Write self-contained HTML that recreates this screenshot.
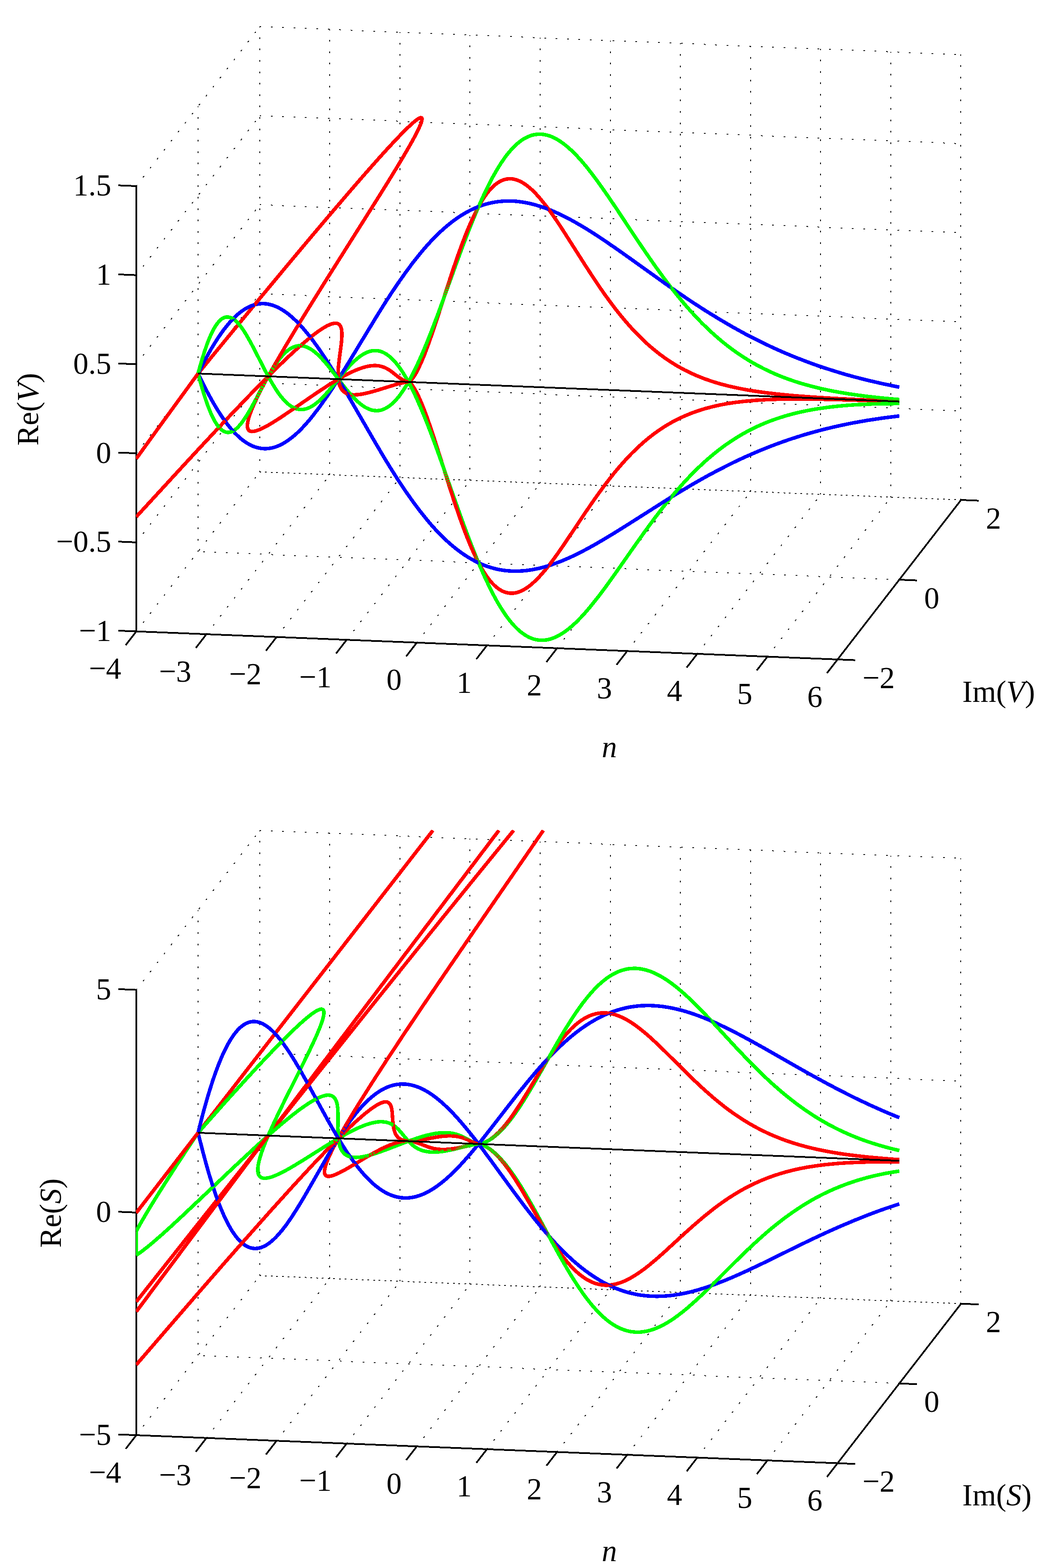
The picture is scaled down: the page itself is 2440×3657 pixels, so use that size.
<!DOCTYPE html>
<html lang="en"><head><meta charset="utf-8"><title>Volume and surface area versus dimension n</title>
<style>html,body{margin:0;padding:0;background:#fff}body{width:2440px;height:3657px;overflow:hidden}svg{display:block}</style>
</head><body>
<svg xmlns="http://www.w3.org/2000/svg" width="2440" height="3657" viewBox="0 0 2440 3657">
<rect width="2440" height="3657" fill="#fff"/>
<path d="M605.6 1100.6L605.6 62M769.2 1107.1L769.2 68.5M932.8 1113.7L932.8 75.1M1096.4 1120.2L1096.4 81.6M1259.9 1126.8L1259.9 88.2M1423.5 1133.3L1423.5 94.7M1587.1 1139.8L1587.1 101.2M1750.7 1146.4L1750.7 107.8M1914.3 1152.9L1914.3 114.3M2077.8 1159.5L2077.8 120.9M2241.4 1166L2241.4 127.4M606.1 1100.6L2241.9 1166M606.1 892.9L2241.9 958.3M606.1 685.2L2241.9 750.6M606.1 477.4L2241.9 542.8M606.1 269.7L2241.9 335.1M606.1 62L2241.9 127.4M461.6 1286.6L461.6 248M318 1472.6L606.1 1100.6M318 1264.9L606.1 892.9M318 1057.2L606.1 685.2M318 849.4L606.1 477.4M318 641.7L606.1 269.7M318 434L606.1 62M2097.9 1352L462.1 1286.6M2241.9 1166L606.1 1100.6M481.6 1479.1L769.7 1107.1M645.2 1485.7L933.3 1113.7M808.7 1492.2L1096.9 1120.2M972.3 1498.8L1260.4 1126.8M1135.9 1505.3L1424 1133.3M1299.5 1511.8L1587.6 1139.8M1463.1 1518.4L1751.2 1146.4M1626.6 1524.9L1914.8 1152.9M1790.2 1531.5L2078.3 1159.5" fill="none" stroke="#000" stroke-width="2" stroke-dasharray="4 22.6" stroke-dashoffset="1" shape-rendering="crispEdges"/>
<path d="M318 1472.6L318 434M318 1472.6L1953.8 1538M1953.8 1538L2241.9 1166M318 1472.6L276 1470.9M318 1264.9L276 1263.2M318 1057.2L276 1055.5M318 849.4L276 847.8M318 641.7L276 640M318 434L276 432.3M318 1472.6L293.2 1504.6M481.6 1479.1L456.8 1511.2M645.2 1485.7L620.4 1517.7M808.7 1492.2L783.9 1524.2M972.3 1498.8L947.5 1530.8M1135.9 1505.3L1111.1 1537.3M1299.5 1511.8L1274.7 1543.9M1463.1 1518.4L1438.3 1550.4M1626.6 1524.9L1601.8 1556.9M1790.2 1531.5L1765.4 1563.5M1953.8 1538L1929 1570M1953.8 1538L1995.2 1539.7M2097.9 1352L2139.2 1353.7M2241.9 1166L2283.3 1167.7" fill="none" stroke="#000" stroke-width="4" shape-rendering="crispEdges"/>
<clipPath id="c1"><rect x="317" y="61" width="1926.2" height="1478"/></clipPath>
<g clip-path="url(#c1)" fill="none" stroke-width="8.4" stroke-linejoin="round" shape-rendering="crispEdges">
<path d="M1580.2 681.2L1613.7 703.8L1646.4 725L1677.5 744.1L1708.5 762.3L1739.6 779.4L1769.1 794.5L1798.5 808.7L1813.2 815.4L1829.6 822.6L1844.3 828.8L1860.7 835.4L1891.7 847.2L1908.1 853L1924.5 858.5L1957.2 868.8L1973.5 873.6L1991.5 878.6L2025.9 887.4L2061.9 895.6L2097.9 903M1580.2 1150.6L1613.7 1130.6L1646.4 1112L1677.5 1095.4L1708.5 1079.7L1724.9 1071.9L1739.6 1065.1L1769.1 1052.3L1798.5 1040.5L1813.2 1035L1829.6 1029.1L1844.3 1024.1L1860.7 1018.8L1875.4 1014.2L1891.7 1009.5L1908.1 1005L1924.5 1000.8L1940.8 996.8L1957.2 993.1L1973.5 989.6L1991.5 986L2025.9 980L2061.9 974.6L2097.9 970.1" stroke="#00f"/>
<path d="M2095.3 936.3L2097.9 936.4M2095.3 936.7L2097.9 936.8" stroke="#f00"/>
<path d="M2095.3 931.7L2097.9 931.9M2095.3 941.2L2097.9 941.2" stroke="#0f0"/>
<path d="M2093.7 936.2L2097.1 936.3M2093.7 936.6L2097.1 936.7" stroke="#f00"/>
<path d="M2093.7 931.6L2097.1 931.9M2093.7 941.2L2097.1 941.2" stroke="#0f0"/>
<path d="M2092.1 936.1L2095.5 936.3M2092.1 936.5L2095.5 936.7" stroke="#f00"/>
<path d="M2092.1 931.5L2095.5 931.7M2092.1 941.2L2095.5 941.2" stroke="#0f0"/>
<path d="M2090.4 936.1L2093.9 936.2M2090.4 936.5L2093.9 936.6" stroke="#f00"/>
<path d="M2090.4 931.3L2093.8 931.6M2090.4 941.2L2093.9 941.2" stroke="#0f0"/>
<path d="M2088.8 936L2092.2 936.1M2088.8 936.4L2092.2 936.5" stroke="#f00"/>
<path d="M2088.8 931.2L2092.2 931.5M2088.8 941.2L2092.2 941.2" stroke="#0f0"/>
<path d="M2087.1 935.9L2090.6 936.1M2087.1 936.4L2090.6 936.5" stroke="#f00"/>
<path d="M2087.1 931L2090.6 931.3M2087.1 941.2L2090.6 941.2" stroke="#0f0"/>
<path d="M2085.5 935.8L2088.9 936M2085.5 936.3L2088.9 936.4" stroke="#f00"/>
<path d="M2085.5 930.9L2088.9 931.2M2085.5 941.2L2088.9 941.2" stroke="#0f0"/>
<path d="M2083.9 935.8L2087.3 935.9M2083.9 936.2L2087.3 936.4" stroke="#f00"/>
<path d="M2083.9 930.7L2087.3 931M2083.9 941.3L2087.3 941.2" stroke="#0f0"/>
<path d="M2082.2 935.7L2085.7 935.8M2082.2 936.2L2085.7 936.3" stroke="#f00"/>
<path d="M2082.2 930.6L2085.7 930.9M2082.2 941.3L2085.7 941.2" stroke="#0f0"/>
<path d="M2080.6 935.6L2084 935.8M2080.6 936.1L2084 936.2" stroke="#f00"/>
<path d="M2080.6 930.5L2084 930.8M2080.6 941.3L2084 941.3" stroke="#0f0"/>
<path d="M2079 935.6L2082.4 935.7M2079 936L2082.4 936.2" stroke="#f00"/>
<path d="M2079 930.3L2082.4 930.6M2079 941.3L2082.4 941.3" stroke="#0f0"/>
<path d="M2077.3 935.5L2080.8 935.6M2077.3 936L2080.8 936.1" stroke="#f00"/>
<path d="M2077.3 930.2L2080.8 930.5M2077.3 941.3L2080.8 941.3" stroke="#0f0"/>
<path d="M2075.7 935.4L2079.1 935.6M2075.7 935.9L2079.1 936.1" stroke="#f00"/>
<path d="M2075.7 930L2079.1 930.3M2075.7 941.3L2079.1 941.3" stroke="#0f0"/>
<path d="M2074.1 935.3L2077.5 935.5M2074.1 935.9L2077.5 936" stroke="#f00"/>
<path d="M2074.1 929.9L2077.5 930.2M2074.1 941.4L2077.5 941.3" stroke="#0f0"/>
<path d="M2072.4 935.3L2075.9 935.4M2072.4 935.8L2075.9 935.9" stroke="#f00"/>
<path d="M2072.4 929.7L2075.9 930M2072.4 941.4L2075.9 941.3" stroke="#0f0"/>
<path d="M2070.8 935.2L2074.2 935.4M2070.8 935.7L2074.2 935.9" stroke="#f00"/>
<path d="M2070.8 929.5L2074.2 929.9M2070.8 941.4L2074.2 941.4" stroke="#0f0"/>
<path d="M2069.2 935.1L2072.6 935.3M2069.2 935.7L2072.6 935.8" stroke="#f00"/>
<path d="M2069.2 929.4L2072.6 929.7M2069.2 941.4L2072.6 941.4" stroke="#0f0"/>
<path d="M2067.5 935.1L2071 935.2M2067.5 935.6L2071 935.8" stroke="#f00"/>
<path d="M2067.5 929.2L2070.9 929.6M2067.5 941.5L2071 941.4" stroke="#0f0"/>
<path d="M2065.9 935L2069.3 935.1M2065.9 935.6L2069.3 935.7" stroke="#f00"/>
<path d="M2065.9 929.1L2069.3 929.4M2065.9 941.5L2069.3 941.4" stroke="#0f0"/>
<path d="M2064.2 934.9L2067.7 935.1M2064.2 935.5L2067.7 935.6" stroke="#f00"/>
<path d="M2064.2 928.9L2067.7 929.3M2064.2 941.5L2067.7 941.5" stroke="#0f0"/>
<path d="M2062.6 934.8L2066 935M2062.6 935.5L2066 935.6" stroke="#f00"/>
<path d="M2062.6 928.8L2066 929.1M2062.6 941.5L2066 941.5" stroke="#0f0"/>
<path d="M2061 934.8L2064.4 934.9M2061 935.4L2064.4 935.5" stroke="#f00"/>
<path d="M2061 928.6L2064.4 928.9M2061 941.6L2064.4 941.5" stroke="#0f0"/>
<path d="M2059.3 934.7L2062.8 934.9M2059.3 935.3L2062.8 935.5" stroke="#f00"/>
<path d="M2059.3 928.4L2062.8 928.8M2059.3 941.6L2062.8 941.5" stroke="#0f0"/>
<path d="M2057.7 934.6L2061.1 934.8M2057.7 935.3L2061.1 935.4" stroke="#f00"/>
<path d="M2057.7 928.3L2061.1 928.6M2057.7 941.6L2061.1 941.6" stroke="#0f0"/>
<path d="M2056.1 934.6L2059.5 934.7M2056.1 935.2L2059.5 935.3" stroke="#f00"/>
<path d="M2056.1 928.1L2059.5 928.5M2056.1 941.7L2059.5 941.6" stroke="#0f0"/>
<path d="M2054.4 934.5L2057.9 934.6M2054.4 935.2L2057.9 935.3" stroke="#f00"/>
<path d="M2054.4 927.9L2057.9 928.3M2054.4 941.7L2057.9 941.6" stroke="#0f0"/>
<path d="M2052.8 934.4L2056.2 934.6M2052.8 935.1L2056.2 935.2" stroke="#f00"/>
<path d="M2052.8 927.8L2056.2 928.1M2052.8 941.7L2056.2 941.7" stroke="#0f0"/>
<path d="M2051.2 934.3L2054.6 934.5M2051.2 935L2054.6 935.2" stroke="#f00"/>
<path d="M2051.2 927.6L2054.6 928M2051.2 941.8L2054.6 941.7" stroke="#0f0"/>
<path d="M2049.5 934.3L2053 934.4M2049.5 935L2053 935.1" stroke="#f00"/>
<path d="M2049.5 927.4L2053 927.8M2049.5 941.8L2053 941.7" stroke="#0f0"/>
<path d="M2047.9 934.2L2051.3 934.4M2047.9 934.9L2051.3 935" stroke="#f00"/>
<path d="M2047.9 927.3L2051.3 927.6M2047.9 941.9L2051.3 941.8" stroke="#0f0"/>
<path d="M2046.3 934.1L2049.7 934.3M2046.3 934.9L2049.7 935" stroke="#f00"/>
<path d="M2046.3 927.1L2049.7 927.4M2046.3 941.9L2049.7 941.8" stroke="#0f0"/>
<path d="M2044.6 934.1L2048 934.2M2044.6 934.8L2048 934.9" stroke="#f00"/>
<path d="M2044.6 926.9L2048 927.3M2044.6 942L2048 941.9" stroke="#0f0"/>
<path d="M2043 934L2046.4 934.1M2043 934.8L2046.4 934.9" stroke="#f00"/>
<path d="M2043 926.7L2046.4 927.1M2043 942L2046.4 941.9" stroke="#0f0"/>
<path d="M2041.3 933.9L2044.8 934.1M2041.3 934.7L2044.8 934.8" stroke="#f00"/>
<path d="M2041.3 926.6L2044.8 926.9M2041.3 942L2044.8 941.9" stroke="#0f0"/>
<path d="M2039.7 933.8L2043.1 934M2039.7 934.6L2043.1 934.8" stroke="#f00"/>
<path d="M2039.7 926.4L2043.1 926.7M2039.7 942.1L2043.1 942" stroke="#0f0"/>
<path d="M2038.1 933.8L2041.5 933.9M2038.1 934.6L2041.5 934.7" stroke="#f00"/>
<path d="M2038.1 926.2L2041.5 926.6M2038.1 942.1L2041.5 942" stroke="#0f0"/>
<path d="M2036.4 933.7L2039.9 933.8M2036.4 934.5L2039.9 934.6" stroke="#f00"/>
<path d="M2036.4 926L2039.9 926.4M2036.4 942.2L2039.9 942.1" stroke="#0f0"/>
<path d="M2034.8 933.6L2038.2 933.8M2034.8 934.5L2038.2 934.6" stroke="#f00"/>
<path d="M2034.8 925.8L2038.2 926.2M2034.8 942.3L2038.2 942.1" stroke="#0f0"/>
<path d="M2033.2 933.5L2036.6 933.7M2033.2 934.4L2036.6 934.5" stroke="#f00"/>
<path d="M2033.2 925.6L2036.6 926M2033.2 942.3L2036.6 942.2" stroke="#0f0"/>
<path d="M2031.5 933.5L2035 933.6M2031.5 934.4L2035 934.5" stroke="#f00"/>
<path d="M2031.5 925.4L2035 925.8M2031.5 942.4L2035 942.2" stroke="#0f0"/>
<path d="M2029.9 933.4L2033.3 933.5M2029.9 934.3L2033.3 934.4" stroke="#f00"/>
<path d="M2029.9 925.3L2033.3 925.7M2029.9 942.4L2033.3 942.3" stroke="#0f0"/>
<path d="M2028.3 933.3L2031.7 933.5M2028.3 934.2L2031.7 934.4" stroke="#f00"/>
<path d="M2028.3 925.1L2031.7 925.5M2028.3 942.5L2031.7 942.4" stroke="#0f0"/>
<path d="M2026.6 933.2L2030.1 933.4M2026.6 934.2L2030.1 934.3" stroke="#f00"/>
<path d="M2026.6 924.9L2030.1 925.3M2026.6 942.6L2030.1 942.4" stroke="#0f0"/>
<path d="M2025 933.2L2028.4 933.3M2025 934.1L2028.4 934.3" stroke="#f00"/>
<path d="M2025 924.7L2028.4 925.1M2025 942.6L2028.4 942.5" stroke="#0f0"/>
<path d="M2023.3 933.1L2026.8 933.2M2023.3 934.1L2026.8 934.2" stroke="#f00"/>
<path d="M2023.4 924.5L2026.8 924.9M2023.3 942.7L2026.8 942.5" stroke="#0f0"/>
<path d="M2021.7 933L2025.1 933.2M2021.7 934L2025.1 934.1" stroke="#f00"/>
<path d="M2021.7 924.3L2025.1 924.7M2021.7 942.7L2025.1 942.6" stroke="#0f0"/>
<path d="M2020.1 932.9L2023.5 933.1M2020.1 934L2023.5 934.1" stroke="#f00"/>
<path d="M2020.1 924.1L2023.5 924.5M2020.1 942.8L2023.5 942.7" stroke="#0f0"/>
<path d="M2018.4 932.9L2021.9 933M2018.4 933.9L2021.9 934" stroke="#f00"/>
<path d="M2018.4 923.9L2021.9 924.3M2018.4 942.9L2021.9 942.7" stroke="#0f0"/>
<path d="M2016.8 932.8L2020.2 932.9M2016.8 933.9L2020.2 934" stroke="#f00"/>
<path d="M2016.8 923.7L2020.2 924.1M2016.8 943L2020.2 942.8" stroke="#0f0"/>
<path d="M2015.2 932.7L2018.6 932.9M2015.2 933.8L2018.6 933.9" stroke="#f00"/>
<path d="M2015.2 923.5L2018.6 923.9M2015.2 943L2018.6 942.9" stroke="#0f0"/>
<path d="M2013.5 932.6L2017 932.8M2013.5 933.8L2017 933.9" stroke="#f00"/>
<path d="M2013.5 923.3L2017 923.7M2013.5 943.1L2017 943" stroke="#0f0"/>
<path d="M2011.9 932.5L2015.3 932.7M2011.9 933.7L2015.3 933.8" stroke="#f00"/>
<path d="M1580.4 689.5L1592.4 704.1L1603.8 717.4L1615.3 730.2L1626.7 742.5L1638.2 754.3L1649.7 765.5L1661.1 776.2L1672.6 786.4L1684 796.1L1695.5 805.3L1706.9 814L1720 823.3L1731.4 831L1744.5 839.3L1756 846.1L1769.1 853.4L1782.2 860.1L1795.2 866.4L1808.3 872.3L1821.4 877.7L1834.5 882.7L1849.2 887.9L1863.9 892.7L1878.7 897L1893.4 901L1909.7 905.1L1926.1 908.7L1942.5 912.1L1958.8 915.1L1976.8 918.1L1994.8 920.7L2015.3 923.5M1580.4 1142.3L1590.8 1130.5L1602.2 1118L1613.7 1106L1625.1 1094.6L1636.6 1083.6L1648 1073.2L1659.5 1063.4L1670.9 1054L1682.4 1045.2L1693.8 1036.8L1705.3 1029L1718.4 1020.6L1729.8 1013.7L1742.9 1006.4L1754.3 1000.5L1767.4 994.2L1780.5 988.4L1793.6 983.1L1806.7 978.3L1819.8 973.9L1832.9 969.8L1847.6 965.8L1862.3 962.1L1877 958.9L1891.7 956L1908.1 953.3L1924.5 950.9L1940.8 948.8L1958.8 946.9L1976.8 945.4L1994.8 944.1L2015.3 943" stroke="#0f0"/>
<path d="M2010.3 932.5L2013.7 932.6M2010.3 933.6L2013.7 933.8M2008.6 932.4L2012.1 932.6M2008.6 933.6L2012.1 933.7M2007 932.3L2010.4 932.5M2007 933.5L2010.4 933.7M2005.4 932.2L2008.8 932.4M2005.4 933.5L2008.8 933.6M2003.7 932.2L2007.2 932.3M2003.7 933.4L2007.2 933.5M2002.1 932.1L2005.5 932.2M2002.1 933.4L2005.5 933.5M2000.4 932L2003.9 932.2M2000.4 933.3L2003.9 933.4M1998.8 931.9L2002.2 932.1M1998.8 933.3L2002.2 933.4M1997.2 931.8L2000.6 932M1997.2 933.2L2000.6 933.3M1995.5 931.8L1999 931.9M1995.5 933.2L1999 933.3M1993.9 931.7L1997.3 931.8M1993.9 933.1L1997.3 933.2M1992.3 931.6L1995.7 931.8M1992.3 933.1L1995.7 933.2M1990.6 931.5L1994.1 931.7M1990.6 933L1994.1 933.1M1989 931.4L1992.4 931.6M1989 933L1992.4 933.1M1987.4 931.4L1990.8 931.5M1987.4 932.9L1990.8 933M1985.7 931.3L1989.2 931.4M1985.7 932.9L1989.2 933M1984.1 931.2L1987.5 931.4M1984.1 932.8L1987.5 932.9M1982.5 931.1L1985.9 931.3M1982.5 932.8L1985.9 932.9M1980.8 931L1984.3 931.2M1980.8 932.7L1984.3 932.8M1979.2 930.9L1982.6 931.1M1979.2 932.7L1982.6 932.8M1977.5 930.9L1981 931M1977.5 932.6L1981 932.7M1975.9 930.8L1979.3 931M1975.9 932.6L1979.3 932.7M1974.3 930.7L1977.7 930.9M1974.3 932.5L1977.7 932.6M1972.6 930.6L1976.1 930.8M1972.6 932.5L1976.1 932.6M1971 930.5L1974.4 930.7M1971 932.4L1974.4 932.5M1969.4 930.4L1972.8 930.6M1969.4 932.4L1972.8 932.5M1967.7 930.4L1971.2 930.5M1967.7 932.4L1971.2 932.5M1966.1 930.3L1969.5 930.5M1966.1 932.3L1969.5 932.4M1964.5 930.2L1967.9 930.4M1964.5 932.3L1967.9 932.4M1962.8 930.1L1966.3 930.3M1962.8 932.2L1966.3 932.3M1961.2 930L1964.6 930.2M1961.2 932.2L1964.6 932.3M1959.6 929.9L1963 930.1M1959.6 932.1L1963 932.2M1957.9 929.8L1961.4 930M1957.9 932.1L1961.4 932.2M1956.3 929.8L1959.7 929.9M1956.3 932L1959.7 932.1M1954.6 929.7L1958.1 929.8M1954.6 932L1958.1 932.1M1953 929.6L1956.4 929.8M1953 932L1956.4 932.1M1951.4 929.5L1954.8 929.7M1951.4 931.9L1954.8 932M1949.7 929.4L1953.2 929.6M1949.7 931.9L1953.2 932M1948.1 929.3L1951.5 929.5M1948.1 931.8L1951.5 931.9M1946.5 929.2L1949.9 929.4M1946.5 931.8L1949.9 931.9M1944.8 929.1L1948.3 929.3M1944.8 931.8L1948.3 931.8M1943.2 929L1946.6 929.2M1943.2 931.7L1946.6 931.8M1941.6 928.9L1945 929.1M1941.6 931.7L1945 931.8M1939.9 928.8L1943.4 929M1939.9 931.6L1943.4 931.7M1938.3 928.8L1941.7 928.9M1938.3 931.6L1941.7 931.7M1936.7 928.7L1940.1 928.9M1936.7 931.6L1940.1 931.6M1935 928.6L1938.5 928.8M1935 931.5L1938.5 931.6M1933.4 928.5L1936.8 928.7M1933.4 931.5L1936.8 931.6M1931.7 928.4L1935.2 928.6M1931.7 931.5L1935.2 931.5M1930.1 928.3L1933.5 928.5M1930.1 931.4L1933.5 931.5M1928.5 928.2L1931.9 928.4M1928.5 931.4L1931.9 931.5M1926.8 928.1L1930.3 928.3M1926.8 931.4L1930.3 931.4M1925.2 928L1928.6 928.2M1925.2 931.3L1928.6 931.4M1923.6 927.9L1927 928.1M1923.6 931.3L1927 931.4M1921.9 927.8L1925.4 928M1921.9 931.3L1925.4 931.3M1920.3 927.7L1923.7 927.9M1920.3 931.2L1923.7 931.3M1918.7 927.6L1922.1 927.8M1918.7 931.2L1922.1 931.3M1917 927.5L1920.5 927.7M1917 931.2L1920.5 931.2M1915.4 927.4L1918.8 927.6M1915.4 931.1L1918.8 931.2M1913.8 927.3L1917.2 927.5M1913.8 931.1L1917.2 931.2M1912.1 927.2L1915.5 927.4M1912.1 931.1L1915.6 931.1M1910.5 927.1L1913.9 927.3M1910.5 931.1L1913.9 931.1M1908.8 927L1912.3 927.2M1908.8 931L1912.3 931.1M1907.2 926.9L1910.6 927.1M1907.2 931L1910.6 931.1M1905.6 926.8L1909 927M1905.6 931L1909 931M1903.9 926.7L1907.4 926.9M1903.9 931L1907.4 931M1902.3 926.5L1905.7 926.8M1902.3 930.9L1905.7 931M1900.7 926.4L1904.1 926.7M1900.7 930.9L1904.1 931M1899 926.3L1902.5 926.6M1899 930.9L1902.5 930.9M1897.4 926.2L1900.8 926.4M1897.4 930.9L1900.8 930.9M1895.8 926.1L1899.2 926.3M1895.8 930.9L1899.2 930.9M1894.1 926L1897.6 926.2M1894.1 930.8L1897.6 930.9M1892.5 925.9L1895.9 926.1M1892.5 930.8L1895.9 930.9M1890.9 925.8L1894.3 926M1890.8 930.8L1894.3 930.8M1889.2 925.7L1892.6 925.9M1889.2 930.8L1892.6 930.8M1887.6 925.5L1891 925.8M1887.6 930.8L1891 930.8M1885.9 925.4L1889.4 925.7M1885.9 930.7L1889.4 930.8M1884.3 925.3L1887.7 925.6M1884.3 930.7L1887.7 930.8M1882.7 925.2L1886.1 925.4M1882.7 930.7L1886.1 930.7M1881 925.1L1884.5 925.3M1881 930.7L1884.5 930.7M1879.4 925L1882.8 925.2M1879.4 930.7L1882.8 930.7M1877.8 924.8L1881.2 925.1M1877.8 930.7L1881.2 930.7M1876.1 924.7L1879.6 925M1876.1 930.7L1879.6 930.7M1874.5 924.6L1877.9 924.8M1874.5 930.7L1877.9 930.7M1872.9 924.5L1876.3 924.7M1872.9 930.7L1876.3 930.7M1871.2 924.3L1874.7 924.6M1871.2 930.7L1874.7 930.7M1869.6 924.2L1873 924.5M1869.6 930.6L1873 930.7M1868 924.1L1871.4 924.4M1867.9 930.6L1871.4 930.7M1866.3 924L1869.7 924.2M1866.3 930.6L1869.7 930.6M1864.7 923.8L1868.1 924.1M1864.7 930.6L1868.1 930.6M1863 923.7L1866.5 924M1863 930.6L1866.5 930.6M1861.4 923.6L1864.8 923.8M1861.4 930.6L1864.8 930.6M1859.8 923.4L1863.2 923.7M1859.8 930.6L1863.2 930.6M1858.1 923.3L1861.6 923.6M1858.1 930.6L1861.6 930.6M1856.5 923.2L1859.9 923.5M1856.5 930.6L1859.9 930.6M1854.9 923L1858.3 923.3M1854.9 930.7L1858.3 930.6M1853.2 922.9L1856.7 923.2M1853.2 930.7L1856.7 930.6M1851.6 922.8L1855 923.1M1851.6 930.7L1855 930.7M1850 922.6L1853.4 922.9M1850 930.7L1853.4 930.7M1848.3 922.5L1851.8 922.8M1848.3 930.7L1851.8 930.7M1846.7 922.3L1850.1 922.6M1846.7 930.7L1850.1 930.7M1845.1 922.2L1848.5 922.5M1845 930.7L1848.5 930.7M1843.4 922L1846.8 922.4M1843.4 930.7L1846.8 930.7M1841.8 921.9L1845.2 922.2M1841.8 930.7L1845.2 930.7M1840.1 921.8L1843.6 922.1M1840.1 930.8L1843.6 930.7M1838.5 921.6L1841.9 921.9M1838.5 930.8L1841.9 930.7M1836.9 921.5L1840.3 921.8M1836.9 930.8L1840.3 930.8M1290.9 503.7L1301.2 518.8L1314.3 538.7L1365 618.4L1387.9 653.5L1399.4 670.5L1410.8 686.9L1422.3 702.7L1433.7 718L1446.8 734.6L1459.9 750.3L1473 765.1L1486.1 779L1499.2 792L1512.2 804.1L1525.3 815.3L1538.4 825.7L1553.1 836.5L1567.9 846.2L1582.6 855.1L1597.3 863.1L1612 870.3L1628.4 877.5L1644.7 883.9L1662.7 890.1L1680.7 895.5L1698.7 900.2L1718.4 904.6L1739.6 908.8L1762.5 912.6L1785.4 915.8L1811.6 918.9L1838.7 921.6M1290.9 1304.9L1301.2 1290.6L1314.3 1271.8L1365 1196.1L1387.9 1162.8L1399.4 1146.8L1410.8 1131.3L1422.3 1116.4L1433.7 1102L1446.8 1086.5L1459.9 1071.8L1473 1058L1486.1 1045.2L1499.2 1033.2L1512.2 1022.2L1525.3 1012L1538.4 1002.7L1553.1 993.1L1567.9 984.5L1582.6 976.8L1597.3 970L1612 964L1628.4 958.1L1644.7 953L1662.7 948.3L1680.7 944.3L1698.7 941L1718.4 938.1L1739.6 935.7L1762.5 933.7L1785.4 932.3L1811.6 931.3L1838.7 930.8" stroke="#f00"/>
<path d="M1578.6 680L1581.7 682.2M1578.5 1151.6L1581.7 1149.7" stroke="#00f"/>
<path d="M1578.7 687.5L1581.5 690.9M1578.7 1144.1L1581.5 1140.9" stroke="#0f0"/>
<path d="M1576.9 678.9L1580.1 681.1M1576.9 1152.6L1580.1 1150.6" stroke="#00f"/>
<path d="M1577.1 685.5L1579.9 688.9M1577.1 1146L1579.9 1142.8" stroke="#0f0"/>
<path d="M1575.3 677.8L1578.4 679.9M1575.3 1153.6L1578.4 1151.6" stroke="#00f"/>
<path d="M1575.5 683.4L1578.2 686.9M1575.5 1148L1578.3 1144.7" stroke="#0f0"/>
<path d="M1573.7 676.6L1576.8 678.8M1573.6 1154.6L1576.8 1152.6" stroke="#00f"/>
<path d="M1573.8 681.4L1576.6 684.8M1573.8 1149.9L1576.6 1146.6" stroke="#0f0"/>
<path d="M1572 675.5L1575.1 677.7M1572 1155.6L1575.2 1153.6" stroke="#00f"/>
<path d="M1572.2 679.3L1575 682.8M1572.2 1151.8L1575 1148.5" stroke="#0f0"/>
<path d="M1570.4 674.4L1573.5 676.5M1570.4 1156.6L1573.5 1154.6" stroke="#00f"/>
<path d="M1570.6 677.2L1573.3 680.7M1570.6 1153.7L1573.3 1150.4" stroke="#0f0"/>
<path d="M1568.8 673.2L1571.9 675.4M1568.7 1157.6L1571.9 1155.6" stroke="#00f"/>
<path d="M1568.9 675.2L1571.7 678.7M1568.9 1155.7L1571.7 1152.4" stroke="#0f0"/>
<path d="M1567.1 672.1L1570.2 674.3M1567.1 1158.6L1570.3 1156.7" stroke="#00f"/>
<path d="M1567.3 673.1L1570.1 676.6M1567.3 1157.6L1570.1 1154.3" stroke="#0f0"/>
<path d="M1565.5 671L1568.6 673.1M1565.5 1159.6L1568.6 1157.7" stroke="#00f"/>
<path d="M1565.7 671L1568.4 674.5M1565.6 1159.6L1568.4 1156.3" stroke="#0f0"/>
<path d="M1563.9 669.8L1567 672M1563.8 1160.6L1567 1158.7" stroke="#00f"/>
<path d="M1564 668.9L1566.8 672.4M1564 1161.6L1566.8 1158.2" stroke="#0f0"/>
<path d="M1562.2 668.7L1565.3 670.8M1562.2 1161.6L1565.4 1159.7" stroke="#00f"/>
<path d="M1562.4 666.8L1565.1 670.3M1562.4 1163.6L1565.2 1160.2" stroke="#0f0"/>
<path d="M1560.6 667.5L1563.7 669.7M1560.6 1162.6L1563.7 1160.7" stroke="#00f"/>
<path d="M1560.8 664.6L1563.5 668.2M1560.7 1165.6L1563.5 1162.2" stroke="#0f0"/>
<path d="M1558.9 666.4L1562.1 668.6M1558.9 1163.7L1562.1 1161.7" stroke="#00f"/>
<path d="M1559.1 662.5L1561.9 666.1M1559.1 1167.6L1561.9 1164.2" stroke="#0f0"/>
<path d="M1557.3 665.2L1560.4 667.4M1557.3 1164.7L1560.4 1162.7" stroke="#00f"/>
<path d="M1557.5 660.3L1560.2 663.9M1557.5 1169.6L1560.2 1166.2" stroke="#0f0"/>
<path d="M1555.7 664.1L1558.8 666.3M1555.6 1165.7L1558.8 1163.7" stroke="#00f"/>
<path d="M1555.9 658.2L1558.6 661.8M1555.8 1171.6L1558.6 1168.2" stroke="#0f0"/>
<path d="M1554 662.9L1557.1 665.1M1554 1166.7L1557.2 1164.7" stroke="#00f"/>
<path d="M1554.2 656L1557 659.6M1554.2 1173.7L1557 1170.2" stroke="#0f0"/>
<path d="M1552.4 661.8L1555.5 664M1552.4 1167.7L1555.5 1165.8" stroke="#00f"/>
<path d="M1552.6 653.9L1555.3 657.5M1552.6 1175.7L1555.3 1172.2" stroke="#0f0"/>
<path d="M1550.8 660.6L1553.9 662.8M1550.7 1168.8L1553.9 1166.8" stroke="#00f"/>
<path d="M1551 651.7L1553.7 655.3M1550.9 1177.7L1553.7 1174.3" stroke="#0f0"/>
<path d="M1549.1 659.5L1552.2 661.7M1549.1 1169.8L1552.3 1167.8" stroke="#00f"/>
<path d="M1549.3 649.5L1552 653.1M1549.3 1179.8L1552.1 1176.3" stroke="#0f0"/>
<path d="M1547.5 658.3L1550.6 660.5M1547.5 1170.8L1550.6 1168.8" stroke="#00f"/>
<path d="M1138.9 433.3L1149.1 413.7L1158.9 396.4L1168.7 380.6L1178.5 366.4L1183.4 360L1188.4 353.9L1193.3 348.3L1198.2 343.1L1206.3 335.4L1211.3 331.3L1216.2 327.6L1221.1 324.4L1226 321.6L1230.9 319.2L1235.8 317.1L1240.7 315.5L1245.6 314.3L1250.5 313.5L1255.4 313L1260.3 313L1265.2 313.3L1270.1 313.9L1275.1 315L1280 316.3L1284.9 318L1289.8 320.1L1296.3 323.3L1304.5 328.1L1314.3 334.9L1324.1 342.8L1333.9 351.6L1343.8 361.4L1355.2 373.9L1366.7 387.4L1378.1 401.8L1394.5 423.7L1414.1 451.4L1435.4 482.7L1482.8 554.2L1504.1 585.7L1528.6 621L1550.4 650.9M1140.5 1366.5L1150.7 1386.7L1160.5 1404.6L1170.4 1420.8L1180.2 1435.5L1185.1 1442.2L1190 1448.5L1194.9 1454.4L1199.8 1459.8L1208 1468L1212.9 1472.3L1217.8 1476.2L1226 1481.8L1230.9 1484.6L1235.8 1487L1240.7 1489.1L1245.6 1490.7L1250.5 1491.9L1255.4 1492.7L1260.3 1493.2L1265.2 1493.3L1270.1 1493L1275.1 1492.4L1280 1491.4L1284.9 1490.1L1289.8 1488.4L1296.3 1485.7L1304.5 1481.6L1314.3 1475.6L1324.1 1468.5L1333.9 1460.4L1343.8 1451.4L1355.2 1439.8L1366.7 1427.2L1378.1 1413.7L1394.5 1393.2L1414.1 1367.1L1435.4 1337.4L1482.8 1269.8L1504.1 1239.9L1528.6 1206.6L1550.4 1178.4" stroke="#0f0"/>
<path d="M1287.3 491.4L1298 496L1309.4 501.4L1320.9 507.1L1332.3 513.1L1343.8 519.5L1356.8 527.1L1369.9 535L1384.7 544.3L1410.8 561.5L1440.3 581.8L1466.4 600.3L1549 659.4M1287.3 1316.9L1298 1313.1L1309.4 1308.7L1320.9 1303.9L1332.3 1298.8L1343.8 1293.4L1356.8 1286.8L1369.9 1279.9L1384.7 1271.8L1410.8 1256.6L1440.3 1238.7L1466.4 1222.3L1549 1169.9" stroke="#00f"/>
<path d="M1287.6 499L1291.9 505.2M1287.6 1309.3L1291.9 1303.5" stroke="#f00"/>
<path d="M1285.7 490.7L1289 492.1M1285.7 1317.5L1289 1316.3" stroke="#00f"/>
<path d="M1286 496.7L1288.7 500.5M1286 1311.5L1288.7 1307.9" stroke="#f00"/>
<path d="M1284 490L1287.3 491.4M1284 1318L1287.4 1316.9" stroke="#00f"/>
<path d="M1284.3 494.4L1287 498.2M1284.3 1313.7L1287 1310.1" stroke="#f00"/>
<path d="M1282.4 489.4L1285.7 490.7M1282.4 1318.5L1285.7 1317.4" stroke="#00f"/>
<path d="M1282.7 492.2L1285.4 495.9M1282.7 1315.8L1285.4 1312.2" stroke="#f00"/>
<path d="M1280.8 488.7L1284.1 490.1M1280.7 1319.1L1284.1 1318" stroke="#00f"/>
<path d="M1281.1 489.9L1283.8 493.6M1281 1317.9L1283.8 1314.4" stroke="#f00"/>
<path d="M1279.1 488.1L1282.4 489.4M1279.1 1319.6L1282.5 1318.5" stroke="#00f"/>
<path d="M1279.4 487.7L1282.1 491.4M1279.4 1320L1282.1 1316.5" stroke="#f00"/>
<path d="M1277.5 487.5L1280.8 488.7M1277.5 1320.1L1280.8 1319" stroke="#00f"/>
<path d="M1277.8 485.5L1280.5 489.1M1277.8 1322.1L1280.5 1318.6" stroke="#f00"/>
<path d="M1275.8 486.8L1279.2 488.1M1275.8 1320.6L1279.2 1319.5" stroke="#00f"/>
<path d="M1276.1 483.3L1278.9 486.9M1276.1 1324.1L1278.9 1320.7" stroke="#f00"/>
<path d="M1274.2 486.2L1277.5 487.5M1274.2 1321.1L1277.6 1320" stroke="#00f"/>
<path d="M1274.5 481.1L1277.2 484.7M1274.5 1326.2L1277.3 1322.7" stroke="#f00"/>
<path d="M1272.6 485.6L1275.9 486.8M1272.6 1321.5L1275.9 1320.5" stroke="#00f"/>
<path d="M1272.9 479L1275.6 482.6M1272.8 1328.2L1275.6 1324.8" stroke="#f00"/>
<path d="M1270.9 485L1274.3 486.2M1270.9 1322L1274.3 1321" stroke="#00f"/>
<path d="M1271.2 476.9L1274 480.4M1271.2 1330.2L1274 1326.8" stroke="#f00"/>
<path d="M1269.3 484.4L1272.6 485.6M1269.3 1322.5L1272.6 1321.5" stroke="#00f"/>
<path d="M1269.6 474.8L1272.3 478.3M1269.6 1332.1L1272.4 1328.8" stroke="#f00"/>
<path d="M1267.7 483.8L1271 485M1267.6 1322.9L1271 1322" stroke="#00f"/>
<path d="M1130.6 458.6L1137.6 449L1140.9 445L1145.8 439.5L1149.1 436.2L1154 431.7L1157.3 429L1162.2 425.6L1165.5 423.6L1170.4 421.1L1173.6 419.8L1178.5 418.3L1181.8 417.6L1186.7 417.1L1190 417L1194.9 417.3L1198.2 417.8L1203.1 419L1208 420.6L1212.9 422.7L1216.2 424.4L1221.1 427.2L1226 430.5L1230.9 434.2L1235.8 438.2L1240.7 442.6L1250.5 452.4L1260.3 463.4L1270.7 476.2M1130.6 1337.2L1137.6 1347.3L1140.9 1351.6L1145.8 1357.5L1149.1 1361.1L1154 1366L1157.3 1368.9L1162.2 1372.7L1165.5 1375L1170.4 1377.8L1173.6 1379.4L1178.5 1381.3L1181.8 1382.2L1186.7 1383.2L1190 1383.5L1194.9 1383.6L1198.2 1383.4L1203.1 1382.6L1208 1381.3L1212.9 1379.6L1216.2 1378.2L1221.1 1375.8L1226 1372.9L1230.9 1369.6L1235.8 1366L1240.7 1362L1250.5 1352.9L1260.3 1342.7L1270.7 1330.8" stroke="#f00"/>
<path d="M1122.1 479.8L1131.1 476.8L1139.3 474.6L1147.5 472.7L1157.3 470.9L1165.5 469.9L1175.3 469.1L1183.4 468.8L1193.3 468.9L1201.4 469.3L1211.3 470.3L1221.1 471.7L1230.9 473.5L1240.7 475.7L1250.5 478.4L1260.3 481.4L1269.4 484.4M1122.1 1315.3L1131.1 1319L1139.3 1321.9L1147.5 1324.4L1157.3 1327L1165.5 1328.7L1175.3 1330.3L1183.4 1331.2L1193.3 1331.9L1201.4 1332.1L1211.3 1331.9L1221.1 1331.3L1230.9 1330.3L1240.7 1328.8L1250.5 1327L1260.3 1324.8L1269.4 1322.4" stroke="#00f"/>
<path d="M1130.7 1345.7L1141.3 1368.1M1130.7 450.1L1139.7 431.7" stroke="#0f0"/>
<path d="M1129 461L1131.6 457.2M1129 1334.6L1131.6 1338.7" stroke="#f00"/>
<path d="M1129.1 453.6L1131.5 448.5M1129.1 1342.1L1131.5 1347.3" stroke="#0f0"/>
<path d="M1127.3 463.5L1130 459.5M1127.4 1332L1129.9 1336.2" stroke="#f00"/>
<path d="M1127.5 457.1L1129.8 452M1127.5 1338.4L1129.8 1343.7" stroke="#0f0"/>
<path d="M1125.7 466L1128.3 462M1125.7 1329.4L1128.3 1333.6" stroke="#f00"/>
<path d="M1125.8 460.7L1128.2 455.5M1125.8 1334.7L1128.2 1340.1" stroke="#0f0"/>
<path d="M1124.1 468.6L1126.7 464.5M1124.1 1326.6L1126.7 1330.9" stroke="#f00"/>
<path d="M1124.2 464.3L1126.6 459M1124.2 1331L1126.6 1336.4" stroke="#0f0"/>
<path d="M1122.5 471.3L1125 467.1M1122.5 1323.8L1125 1328.2" stroke="#f00"/>
<path d="M1122.6 467.9L1124.9 462.6M1122.6 1327.3L1124.9 1332.7" stroke="#0f0"/>
<path d="M1120.4 480.4L1123.8 479.2M1120.5 1314.6L1123.7 1316" stroke="#00f"/>
<path d="M1120.8 474L1123.4 469.8M1120.8 1321L1123.4 1325.4" stroke="#f00"/>
<path d="M1120.9 471.5L1123.3 466.2M1120.9 1323.5L1123.3 1328.9" stroke="#0f0"/>
<path d="M1118.8 481L1122.1 479.7M1118.8 1313.9L1122.1 1315.3" stroke="#00f"/>
<path d="M1119.2 476.9L1121.7 472.5M1119.2 1318L1121.7 1322.5" stroke="#f00"/>
<path d="M1119.3 475.2L1121.7 469.9M1119.3 1319.7L1121.6 1325.1" stroke="#0f0"/>
<path d="M1117.2 481.6L1120.5 480.3M1117.2 1313.1L1120.5 1314.6" stroke="#00f"/>
<path d="M1117.6 479.7L1120.1 475.3M1117.6 1315L1120.1 1319.6" stroke="#f00"/>
<path d="M1117.7 478.9L1120 473.6M1117.7 1315.8L1120 1321.3" stroke="#0f0"/>
<path d="M1115.5 482.2L1118.9 480.9M1115.6 1312.4L1118.8 1313.9" stroke="#00f"/>
<path d="M1115.9 482.7L1118.5 478.2M1116 1312L1118.4 1316.6" stroke="#f00"/>
<path d="M1116 482.7L1118.4 477.3M1116 1311.9L1118.4 1317.5" stroke="#0f0"/>
<path d="M1113.9 482.8L1117.2 481.6M1113.9 1311.6L1117.2 1313.1" stroke="#00f"/>
<path d="M1114.3 485.7L1116.8 481.1M1114.3 1308.8L1116.8 1313.6" stroke="#f00"/>
<path d="M1114.4 486.5L1116.7 481.1M1114.4 1308L1116.7 1313.6" stroke="#0f0"/>
<path d="M1112.3 483.5L1115.6 482.2M1112.3 1310.8L1115.6 1312.4" stroke="#00f"/>
<path d="M1112.7 488.7L1115.2 484.1M1112.7 1305.6L1115.2 1310.4" stroke="#f00"/>
<path d="M1112.8 490.3L1115.1 484.8M1112.8 1304.1L1115.1 1309.7" stroke="#0f0"/>
<path d="M1110.6 484.2L1113.9 482.8M1110.7 1310L1113.9 1311.6" stroke="#00f"/>
<path d="M1111.1 491.9L1113.5 487.2M1111.1 1302.4L1113.5 1307.2" stroke="#f00"/>
<path d="M1111.1 494.2L1113.5 488.7M1111.1 1300.1L1113.5 1305.7" stroke="#0f0"/>
<path d="M1109 484.9L1112.3 483.5M1109 1309.2L1112.3 1310.8" stroke="#00f"/>
<path d="M1109.4 495.1L1111.9 490.3M1109.4 1299L1111.9 1304" stroke="#f00"/>
<path d="M1109.5 498.1L1111.8 492.5M1109.5 1296.1L1111.8 1301.7" stroke="#0f0"/>
<path d="M1107.4 485.6L1110.7 484.2M1107.4 1308.3L1110.6 1310" stroke="#00f"/>
<path d="M1107.8 498.4L1110.2 493.5M1107.8 1295.6L1110.2 1300.6" stroke="#f00"/>
<path d="M1107.9 502L1110.2 496.4M1107.9 1292L1110.2 1297.7" stroke="#0f0"/>
<path d="M818.2 837.4L875.9 742.2L895.5 710.7L911.9 685.3L929.9 658.5L946.3 635.3L962.6 613.3L979 592.7L987.2 582.9L995.3 573.5L1003.5 564.5L1011.7 555.9L1019.9 547.7L1028 539.9L1036.2 532.5L1044.4 525.5L1052.6 518.9L1060.8 512.8L1068.9 507L1077.1 501.7L1085.3 496.8L1093.5 492.3L1101.7 488.2L1109 484.9M819.8 936.2L877.6 1036L897.2 1069L913.5 1095.6L931.5 1123.8L947.9 1148.2L964.3 1171.3L980.6 1193.1L997 1213.4L1005.1 1223L1013.3 1232.2L1021.5 1241L1029.7 1249.3L1044.4 1263.4L1052.6 1270.6L1060.8 1277.4L1068.9 1283.8L1077.1 1289.8L1085.3 1295.4L1093.5 1300.5L1101.7 1305.2L1109 1309.2" stroke="#00f"/>
<path d="M1106.2 501.7L1108.6 496.7M1106.2 1292.2L1108.6 1297.2" stroke="#f00"/>
<path d="M1106.2 505.9L1108.5 500.3M1106.2 1287.9L1108.5 1293.7" stroke="#0f0"/>
<path d="M1104.5 505.1L1107 500.1M1104.6 1288.6L1106.9 1293.8" stroke="#f00"/>
<path d="M1104.6 509.9L1106.9 504.3M1104.6 1283.8L1106.9 1289.6" stroke="#0f0"/>
<path d="M1102.9 508.6L1105.3 503.5M1102.9 1285L1105.3 1290.3" stroke="#f00"/>
<path d="M1103 513.9L1105.3 508.2M1103 1279.7L1105.3 1285.5" stroke="#0f0"/>
<path d="M1101.3 512.1L1103.7 506.9M1101.3 1281.4L1103.7 1286.7" stroke="#f00"/>
<path d="M1101.3 517.9L1103.6 512.2M1101.3 1275.5L1103.6 1281.4" stroke="#0f0"/>
<path d="M1099.6 515.7L1102 510.4M1099.7 1277.7L1102 1283" stroke="#f00"/>
<path d="M1099.7 522L1102 516.3M1099.7 1271.3L1102 1277.2" stroke="#0f0"/>
<path d="M1098 519.3L1100.4 514M1098 1273.9L1100.4 1279.3" stroke="#f00"/>
<path d="M1098.1 526.1L1100.4 520.3M1098.1 1267.1L1100.3 1273" stroke="#0f0"/>
<path d="M1096.4 523L1098.7 517.7M1096.4 1270L1098.7 1275.5" stroke="#f00"/>
<path d="M1096.4 530.2L1098.7 524.4M1096.4 1262.9L1098.7 1268.8" stroke="#0f0"/>
<path d="M1094.8 526.8L1097.1 521.4M1094.8 1266.1L1097.1 1271.7" stroke="#f00"/>
<path d="M1094.8 534.3L1097.1 528.5M1094.8 1258.6L1097.1 1264.6" stroke="#0f0"/>
<path d="M1093.1 530.6L1095.5 525.1M1093.1 1262.2L1095.5 1267.8" stroke="#f00"/>
<path d="M1093.1 538.5L1095.4 532.6M1093.2 1254.3L1095.4 1260.3" stroke="#0f0"/>
<path d="M1091.5 534.5L1093.8 529M1091.5 1258.2L1093.8 1263.8" stroke="#f00"/>
<path d="M1091.5 542.7L1093.8 536.8M1091.5 1250L1093.8 1256" stroke="#0f0"/>
<path d="M1089.9 538.5L1092.2 532.8M1089.9 1254.1L1092.2 1259.8" stroke="#f00"/>
<path d="M1089.9 546.9L1092.2 541M1089.9 1245.7L1092.2 1251.7" stroke="#0f0"/>
<path d="M1088.2 542.4L1090.5 536.8M1088.2 1250L1090.5 1255.8" stroke="#f00"/>
<path d="M1088.2 551.1L1090.5 545.2M1088.3 1241.3L1090.5 1247.4" stroke="#0f0"/>
<path d="M1086.6 546.5L1088.9 540.8M1086.6 1245.8L1088.9 1251.6" stroke="#f00"/>
<path d="M1086.6 555.3L1088.9 549.4M1086.6 1236.9L1088.9 1243" stroke="#0f0"/>
<path d="M1085 550.6L1087.3 544.8M1085 1241.5L1087.3 1247.5" stroke="#f00"/>
<path d="M1085 559.6L1087.3 553.7M1085 1232.5L1087.2 1238.6" stroke="#0f0"/>
<path d="M1083.3 554.8L1085.6 548.9M1083.3 1237.2L1085.6 1243.2" stroke="#f00"/>
<path d="M1083.3 563.9L1085.6 557.9M1083.4 1228.1L1085.6 1234.2" stroke="#0f0"/>
<path d="M1081.7 559L1084 553.1M1081.7 1232.9L1084 1238.9" stroke="#f00"/>
<path d="M1081.7 568.2L1084 562.2M1081.7 1223.7L1084 1229.8" stroke="#0f0"/>
<path d="M1080.1 563.3L1082.4 557.3M1080.1 1228.5L1082.3 1234.6" stroke="#f00"/>
<path d="M1080.1 572.6L1082.3 566.5M1080.1 1219.2L1082.3 1225.4" stroke="#0f0"/>
<path d="M1078.4 567.6L1080.7 561.6M1078.4 1224.1L1080.7 1230.2" stroke="#f00"/>
<path d="M1078.4 576.9L1080.7 570.9M1078.4 1214.7L1080.7 1220.9" stroke="#0f0"/>
<path d="M1076.8 571.9L1079.1 565.9M1076.8 1219.6L1079.1 1225.7" stroke="#f00"/>
<path d="M1076.8 581.3L1079.1 575.2M1076.8 1210.2L1079.1 1216.4" stroke="#0f0"/>
<path d="M1075.2 576.4L1077.4 570.3M1075.2 1215L1077.4 1221.2" stroke="#f00"/>
<path d="M1075.2 585.6L1077.4 579.6M1075.2 1205.7L1077.4 1211.9" stroke="#0f0"/>
<path d="M1073.5 580.8L1075.8 574.7M1073.5 1210.4L1075.8 1216.7" stroke="#f00"/>
<path d="M1073.5 590L1075.8 584M1073.5 1201.2L1075.8 1207.4" stroke="#0f0"/>
<path d="M1071.9 585.3L1074.2 579.1M1071.9 1205.8L1074.1 1212.1" stroke="#f00"/>
<path d="M1071.9 594.5L1074.2 588.4M1071.9 1196.7L1074.2 1202.9" stroke="#0f0"/>
<path d="M1070.3 589.9L1072.5 583.6M1070.3 1201.1L1072.5 1207.5" stroke="#f00"/>
<path d="M1070.3 598.9L1072.5 592.8M1070.3 1192.1L1072.5 1198.3" stroke="#0f0"/>
<path d="M1068.6 594.5L1070.9 588.2M1068.6 1196.4L1070.9 1202.8" stroke="#f00"/>
<path d="M1068.6 603.3L1070.9 597.2M1068.6 1187.5L1070.9 1193.8" stroke="#0f0"/>
<path d="M1067 599.1L1069.2 592.8M1067 1191.6L1069.2 1198.1" stroke="#f00"/>
<path d="M1067 607.8L1069.3 601.6M1067 1183L1069.2 1189.2" stroke="#0f0"/>
<path d="M1065.4 603.8L1067.6 597.4M1065.4 1186.8L1067.6 1193.3" stroke="#f00"/>
<path d="M1065.4 612.2L1067.6 606.1M1065.4 1178.4L1067.6 1184.6" stroke="#0f0"/>
<path d="M1063.7 608.5L1066 602.1M1063.7 1182L1066 1188.5" stroke="#f00"/>
<path d="M1063.7 616.7L1066 610.5M1063.7 1173.8L1066 1180.1" stroke="#0f0"/>
<path d="M1062.1 613.2L1064.3 606.8M1062.1 1177.1L1064.3 1183.7" stroke="#f00"/>
<path d="M1062.1 621.2L1064.3 615M1062.1 1169.2L1064.3 1175.5" stroke="#0f0"/>
<path d="M1060.5 618L1062.7 611.5M1060.5 1172.2L1062.7 1178.8" stroke="#f00"/>
<path d="M1060.5 625.7L1062.7 619.5M1060.5 1164.5L1062.7 1170.9" stroke="#0f0"/>
<path d="M1058.8 622.8L1061.1 616.3M1058.8 1167.2L1061 1173.9" stroke="#f00"/>
<path d="M1058.8 630.1L1061.1 624M1058.8 1159.9L1061.1 1166.2" stroke="#0f0"/>
<path d="M1057.2 627.7L1059.4 621.1M1057.2 1162.3L1059.4 1168.9" stroke="#f00"/>
<path d="M1057.2 634.6L1059.4 628.5M1057.2 1155.3L1059.4 1161.6" stroke="#0f0"/>
<path d="M1055.6 632.5L1057.8 626M1055.6 1157.3L1057.8 1164" stroke="#f00"/>
<path d="M1055.5 639.2L1057.8 633M1055.6 1150.6L1057.8 1157" stroke="#0f0"/>
<path d="M1053.9 637.5L1056.1 630.8M1053.9 1152.2L1056.1 1159" stroke="#f00"/>
<path d="M1053.9 643.7L1056.2 637.5M1053.9 1146L1056.2 1152.3" stroke="#0f0"/>
<path d="M1052.3 642.4L1054.5 635.7M1052.3 1147.2L1054.5 1153.9" stroke="#f00"/>
<path d="M1052.3 648.2L1054.5 642M1052.3 1141.4L1054.5 1147.7" stroke="#0f0"/>
<path d="M1050.7 647.3L1052.9 640.7M1050.7 1142.1L1052.9 1148.9" stroke="#f00"/>
<path d="M1050.6 652.7L1052.9 646.5M1050.6 1136.7L1052.9 1143.1" stroke="#0f0"/>
<path d="M1049 652.3L1051.2 645.6M1049 1137L1051.2 1143.8" stroke="#f00"/>
<path d="M1049 657.2L1051.3 651M1049 1132.1L1051.2 1138.4" stroke="#0f0"/>
<path d="M1047.4 657.3L1049.6 650.6M1047.4 1131.8L1049.6 1138.7" stroke="#f00"/>
<path d="M1047.4 661.7L1049.6 655.5M1047.4 1127.4L1049.6 1133.8" stroke="#0f0"/>
<path d="M1045.8 662.3L1048 655.6M1045.8 1126.7L1047.9 1133.5" stroke="#f00"/>
<path d="M1045.7 666.3L1048 660M1045.7 1122.8L1048 1129.1" stroke="#0f0"/>
<path d="M1044.1 667.4L1046.3 660.6M1044.1 1121.5L1046.3 1128.4" stroke="#f00"/>
<path d="M1044.1 670.8L1046.3 664.6M1044.1 1118.1L1046.3 1124.5" stroke="#0f0"/>
<path d="M1042.5 672.4L1044.7 665.7M1042.5 1116.3L1044.7 1123.2" stroke="#f00"/>
<path d="M1042.5 675.3L1044.7 669.1M1042.5 1113.5L1044.7 1119.8" stroke="#0f0"/>
<path d="M1040.9 677.5L1043 670.7M1040.9 1111.1L1043 1118.1" stroke="#f00"/>
<path d="M1040.8 679.8L1043.1 673.6M1040.8 1108.8L1043.1 1115.2" stroke="#0f0"/>
<path d="M1039.2 682.6L1041.4 675.8M1039.2 1105.9L1041.4 1112.9" stroke="#f00"/>
<path d="M1039.2 684.3L1041.4 678.1M1039.2 1104.2L1041.4 1110.5" stroke="#0f0"/>
<path d="M1037.6 687.6L1039.8 680.8M1037.6 1100.7L1039.8 1107.7" stroke="#f00"/>
<path d="M1037.6 688.8L1039.8 682.6M1037.6 1099.5L1039.8 1105.9" stroke="#0f0"/>
<path d="M1036 692.7L1038.1 685.9M1036 1095.5L1038.1 1102.4" stroke="#f00"/>
<path d="M1035.9 693.3L1038.2 687.1M1035.9 1094.9L1038.2 1101.2" stroke="#0f0"/>
<path d="M1034.3 697.8L1036.5 691M1034.3 1090.3L1036.5 1097.2" stroke="#f00"/>
<path d="M1034.3 697.8L1036.5 691.6M1034.3 1090.3L1036.5 1096.6" stroke="#0f0"/>
<path d="M1032.7 702.9L1034.9 696.1M1032.7 1085.1L1034.9 1092" stroke="#f00"/>
<path d="M1032.6 702.3L1034.9 696.1M1032.7 1085.7L1034.9 1092" stroke="#0f0"/>
<path d="M1031 708L1033.2 701.2M1031 1079.8L1033.2 1086.8" stroke="#f00"/>
<path d="M1031 706.8L1033.3 700.6M1031 1081.1L1033.3 1087.4" stroke="#0f0"/>
<path d="M1029.4 713.1L1031.6 706.3M1029.4 1074.6L1031.6 1081.6" stroke="#f00"/>
<path d="M1029.4 711.2L1031.6 705.1M1029.4 1076.5L1031.6 1082.8" stroke="#0f0"/>
<path d="M1027.8 718.2L1030 711.4M1027.8 1069.4L1030 1076.3" stroke="#f00"/>
<path d="M1027.7 715.7L1030 709.5M1027.7 1071.9L1030 1078.2" stroke="#0f0"/>
<path d="M1026.1 723.2L1028.3 716.5M1026.1 1064.2L1028.3 1071.1" stroke="#f00"/>
<path d="M1026.1 720.1L1028.4 714M1026.1 1067.3L1028.3 1073.6" stroke="#0f0"/>
<path d="M1024.5 728.3L1026.7 721.5M1024.5 1059L1026.7 1065.9" stroke="#f00"/>
<path d="M1024.5 724.5L1026.7 718.4M1024.5 1062.8L1026.7 1069" stroke="#0f0"/>
<path d="M1022.9 733.4L1025.1 726.6M1022.9 1053.8L1025 1060.7" stroke="#f00"/>
<path d="M1022.8 729L1025.1 722.9M1022.8 1058.2L1025.1 1064.5" stroke="#0f0"/>
<path d="M1021.2 738.4L1023.4 731.7M1021.2 1048.7L1023.4 1055.5" stroke="#f00"/>
<path d="M1021.2 733.4L1023.5 727.3M1021.2 1053.7L1023.4 1059.9" stroke="#0f0"/>
<path d="M1019.6 743.4L1021.8 736.7M1019.6 1043.5L1021.8 1050.4" stroke="#f00"/>
<path d="M1019.6 737.7L1021.8 731.7M1019.6 1049.2L1021.8 1055.4" stroke="#0f0"/>
<path d="M1018 748.4L1020.1 741.7M1018 1038.4L1020.1 1045.2" stroke="#f00"/>
<path d="M1017.9 742.1L1020.2 736.1M1017.9 1044.7L1020.2 1050.9" stroke="#0f0"/>
<path d="M1016.3 753.4L1018.5 746.7M1016.3 1033.3L1018.5 1040.1" stroke="#f00"/>
<path d="M1016.3 746.5L1018.5 740.4M1016.3 1040.2L1018.5 1046.4" stroke="#0f0"/>
<path d="M1014.7 758.3L1016.9 751.7M1014.7 1028.2L1016.9 1035" stroke="#f00"/>
<path d="M1014.6 750.8L1016.9 744.8M1014.7 1035.7L1016.9 1041.9" stroke="#0f0"/>
<path d="M1013 763.3L1015.2 756.6M1013 1023.1L1015.2 1029.9" stroke="#f00"/>
<path d="M1013 755.1L1015.3 749.1M1013 1031.3L1015.3 1037.4" stroke="#0f0"/>
<path d="M1011.4 768.1L1013.6 761.6M1011.4 1018.1L1013.6 1024.8" stroke="#f00"/>
<path d="M1011.4 759.4L1013.6 753.4M1011.4 1026.9L1013.6 1033" stroke="#0f0"/>
<path d="M1009.8 773L1012 766.4M1009.8 1013.1L1012 1019.8" stroke="#f00"/>
<path d="M1009.7 763.7L1012 757.7M1009.7 1022.5L1012 1028.6" stroke="#0f0"/>
<path d="M960.4 885.2L962.6 882.4L965.9 877.8L970.8 869.7L975.7 860.4L982.2 846.3L988.8 830.7L995.3 813.8L1001.9 795.8L1010.3 771.3M960.4 897L962.6 899.9L965.9 904.8L970.8 913.3L975.7 923L982.2 937.6L988.8 953.7L995.3 971.2L1001.9 989.7L1010.3 1014.8" stroke="#f00"/>
<path d="M960.6 876.6L965.9 866.1L972.4 852.6L983.9 827.3L997 796L1010.4 762M960.6 905.7L965.9 916.5L972.4 930.5L983.9 956.8L997 989.1L1010.4 1024.2" stroke="#0f0"/>
<path d="M606.2 695.9L681 605.9L725.5 552.8L765.9 505L819.3 442.6L850.2 407L877.5 376.1L901.3 349.7L921.8 327.6L939.1 309.6L953.4 295.6L964.7 285.3L969.4 281.4L973.4 278.5L976.7 276.4L979.4 275L981.5 274.5L983.1 274.7L984 275.6L984.4 277.3L984.3 279.6L983.7 282.6L982.6 286.2L981 290.4L976.6 300.5L970.5 312.7L962.9 326.8L954 342.7L938.5 369.3L914.4 409.1L887.4 452.6L754 664L726 709L699.1 752.5M958.7 887L961.6 883.8M958.8 895.1L961.6 898.4" stroke="#f00"/>
<path d="M958.9 879.7L961.4 875M958.9 902.4L961.4 907.3" stroke="#0f0"/>
<path d="M957.1 888.5L960 885.7M957.1 893.4L960 896.4" stroke="#f00"/>
<path d="M957.3 882.7L959.8 878.1M957.3 899.2L959.8 904" stroke="#0f0"/>
<path d="M955.4 889.8L958.4 887.3M955.4 892L958.4 894.6" stroke="#f00"/>
<path d="M955.6 885.7L958.1 881.1M955.7 896.1L958.1 900.8" stroke="#0f0"/>
<path d="M953.7 890.7L956.8 888.8M953.7 890.9L956.8 893.1" stroke="#f00"/>
<path d="M954 888.7L956.5 884.1M954 893L956.5 897.7" stroke="#0f0"/>
<path d="M951.9 891.1L955.3 890M952 890.4L955.3 891.8" stroke="#f00"/>
<path d="M952.4 891.6L954.9 887.1M952.4 890L954.9 894.6" stroke="#0f0"/>
<path d="M950.4 890.5L953.7 890.9" stroke="#f00"/>
<path d="M950.7 894.4L953.2 890M950.7 887L953.2 891.6" stroke="#0f0"/>
<path d="M950.2 890.9L953.7 890.7M948.9 890.1L952.1 890.8" stroke="#f00"/>
<path d="M949.1 897.2L951.6 892.8M949.1 884.1L951.6 888.6" stroke="#0f0"/>
<path d="M948.3 891.1L952 890.8M947.5 889.7L950.7 890.5" stroke="#f00"/>
<path d="M947.4 899.9L950 895.6M947.4 881.2L950 885.7" stroke="#0f0"/>
<path d="M946.5 891.4L950.1 890.9M946.2 889.2L949.3 890.2" stroke="#f00"/>
<path d="M827.8 930.5L836.7 938.7L844.8 945.2L849.7 948.6L853 950.5L859.6 953.7L864.5 955.6L867.7 956.5L871 957.2L874.3 957.6L879.2 957.8L882.5 957.6L885.7 957.2L889 956.5L893.9 954.9L897.2 953.5L903.7 950L910.3 945.4L913.5 942.7L918.4 938.2L925 931.3L933.2 921.2L941.3 909.5L948.4 898.4M814.8 854.2L825.2 843.5L833.4 836.2L838.3 832.3L843.2 828.8L848.1 825.7L851.4 823.9L856.3 821.6L859.6 820.4L864.5 818.9L867.7 818.3L872.6 817.7L875.9 817.7L880.8 818L884.1 818.6L889 820L892.3 821.2L897.2 823.6L900.5 825.5L907 830.1L910.3 832.7L915.2 837.3L918.4 840.6L923.4 846.1L931.5 856.6L939.7 868.5L948.3 882.8" stroke="#0f0"/>
<path d="M944.6 891.7L948.3 891.1M943.6 888.2L947.9 889.8M942.6 892.1L946.3 891.4M941.2 887L945.3 888.8M940.6 892.5L944.4 891.7M940 886.3L942.8 887.8M938.6 892.9L942.4 892.1M937.6 885L941.5 887.2M936.6 893.4L940.4 892.5M935.3 883.6L939.2 885.9M827.5 920.8L835.4 920.4L843 919.4L850.8 917.9L861.1 915.5L878.4 910.7L920.5 897.7L929.1 895.2L938.3 893M803.3 876.3L815.4 870.1L825.9 865.1L835.9 861L845.1 857.8L853.8 855.3L861.8 853.7L869.2 852.8L872.7 852.6L877.7 852.7L884 853.3L891.2 855L896.5 856.8L902.6 859.8L907.2 862.5L911.7 865.5L929.5 879.4L936.9 884.5" stroke="#f00"/>
<path d="M826.2 928.9L829.1 931.8" stroke="#0f0"/>
<path d="M825.8 920.8L829.3 920.8" stroke="#f00"/>
<path d="M824.6 927.2L827.5 930.1" stroke="#0f0"/>
<path d="M824.1 920.8L827.6 920.8" stroke="#f00"/>
<path d="M823 925.4L825.8 928.5" stroke="#0f0"/>
<path d="M822.5 920.7L825.9 920.8" stroke="#f00"/>
<path d="M821.3 923.7L824.2 926.8" stroke="#0f0"/>
<path d="M820.9 920.5L824.3 920.8" stroke="#f00"/>
<path d="M819.7 921.9L822.5 925" stroke="#0f0"/>
<path d="M819.3 920.4L822.7 920.7" stroke="#f00"/>
<path d="M818.2 933.4L820.8 937.8" stroke="#00f"/>
<path d="M818.1 920.1L820.9 923.2" stroke="#0f0"/>
<path d="M816.3 919.9L821.1 920.6" stroke="#f00"/>
<path d="M813.3 845.5L819.1 835.9M816.6 930.6L819.1 934.9" stroke="#00f"/>
<path d="M816.4 918.2L819.3 921.4" stroke="#0f0"/>
<path d="M814.8 919.6L818.1 920.2" stroke="#f00"/>
<path d="M814.9 927.8L817.5 932.1" stroke="#00f"/>
<path d="M814.8 916.3L817.6 919.6" stroke="#0f0"/>
<path d="M813.4 919.2L816.6 919.9" stroke="#f00"/>
<path d="M813.3 924.9L815.8 929.3" stroke="#00f"/>
<path d="M813.2 914.4L816 917.7M813.1 856L816 852.9" stroke="#0f0"/>
<path d="M812 918.8L815.1 919.6" stroke="#f00"/>
<path d="M811.7 848.2L814.2 844M811.7 922.1L814.2 926.5" stroke="#00f"/>
<path d="M811.5 912.5L814.3 915.8M811.5 857.8L814.4 854.7" stroke="#0f0"/>
<path d="M810.7 918.3L813.7 919.3" stroke="#f00"/>
<path d="M810 850.8L812.6 846.6M810 919.3L812.6 923.7" stroke="#00f"/>
<path d="M809.9 910.5L812.7 913.9M809.9 859.6L812.7 856.5" stroke="#0f0"/>
<path d="M809.3 917.8L812.4 918.9" stroke="#f00"/>
<path d="M808.4 853.5L811 849.3M808.4 916.5L810.9 920.9" stroke="#00f"/>
<path d="M808.3 908.6L811.1 911.9M808.3 861.5L811.1 858.3" stroke="#0f0"/>
<path d="M806.8 916.7L811 918.5" stroke="#f00"/>
<path d="M806.7 856.2L809.3 852M806.8 913.7L809.3 918.1" stroke="#00f"/>
<path d="M806.6 906.6L809.4 910M806.6 863.3L809.4 860.1" stroke="#0f0"/>
<path d="M805.6 916L808.5 917.5" stroke="#f00"/>
<path d="M805.1 858.8L807.7 854.6M805.1 911L807.7 915.3" stroke="#00f"/>
<path d="M805 904.5L807.8 908M805 865.2L807.8 862" stroke="#0f0"/>
<path d="M804.5 915.3L807.2 916.9" stroke="#f00"/>
<path d="M803.5 861.5L806.1 857.3M803.5 908.2L806 912.5" stroke="#00f"/>
<path d="M803.4 902.5L806.1 905.9M803.4 867.1L806.2 863.9" stroke="#0f0"/>
<path d="M802.3 913.8L806 916.2" stroke="#f00"/>
<path d="M801.8 864.1L804.4 859.9M801.8 905.4L804.4 909.7" stroke="#00f"/>
<path d="M801.7 900.4L804.5 903.9M801.7 869.1L804.5 865.8" stroke="#0f0"/>
<path d="M800.4 877.9L804.9 875.4M800.3 912L803.8 914.8" stroke="#f00"/>
<path d="M800.2 866.7L802.8 862.6M800.2 902.6L802.8 907" stroke="#00f"/>
<path d="M800.1 898.4L802.9 901.8M800.1 871L802.9 867.7" stroke="#0f0"/>
<path d="M799.4 911.1L801.6 913.2" stroke="#f00"/>
<path d="M798.6 869.4L801.1 865.2M798.6 899.9L801.1 904.2" stroke="#00f"/>
<path d="M798.5 896.3L801.2 899.8M798.5 873L801.2 869.6" stroke="#0f0"/>
<path d="M797.5 879.5L802 877M797.6 909L800.6 912.3" stroke="#f00"/>
<path d="M796.9 872L799.5 867.9M796.9 897.1L799.5 901.4" stroke="#00f"/>
<path d="M796.8 894.2L799.6 897.7M796.8 874.9L799.6 871.6" stroke="#0f0"/>
<path d="M796 906.7L798.7 910.4M729.5 782.5L742.2 772.9L752.8 765.8L762 760.4L767.4 757.8L772.3 755.8L774.6 755.1L778.7 754.2L782.3 753.8L785.4 754.1L786.9 754.5L789.4 755.6L791.5 757.2L793.3 759.3L795.3 763.2L796.2 766.3L796.9 769.8L797.5 775.6L797.5 784.3L796.9 793.7L795.9 803.8L791.7 835.3L790.2 848.2L789.3 858L788.7 868.3M794.5 881.2L799.1 878.6" stroke="#f00"/>
<path d="M795.3 874.6L797.9 870.5M795.3 894.4L797.9 898.7" stroke="#00f"/>
<path d="M795.2 892.1L798 895.6M795.2 876.9L798 873.6" stroke="#0f0"/>
<path d="M794.6 904.3L797 908.2" stroke="#f00"/>
<path d="M793.6 877.2L796.2 873.1M793.7 891.6L796.2 895.9" stroke="#00f"/>
<path d="M793.6 889.9L796.3 893.5M793.6 878.9L796.3 875.5" stroke="#0f0"/>
<path d="M792.7 900.2L795.5 905.8M791.5 882.9L796.1 880.3" stroke="#f00"/>
<path d="M792 879.8L794.6 875.7M792 888.9L794.6 893.2" stroke="#00f"/>
<path d="M791.9 887.8L794.7 891.4M791.9 880.9L794.7 877.5" stroke="#0f0"/>
<path d="M791.2 895.7L793.4 901.9" stroke="#f00"/>
<path d="M790.4 882.4L793 878.3M790.4 886.2L793 890.4" stroke="#00f"/>
<path d="M790.3 885.7L793 889.2M790.3 882.9L793.1 879.5" stroke="#0f0"/>
<path d="M790.5 892.4L791.8 897.4M788.4 884.7L793.1 882M789.8 888.9L790.9 894.1" stroke="#f00"/>
<path d="M788.7 885L791.3 880.9M788.8 883.5L791.3 887.7" stroke="#00f"/>
<path d="M788.7 883.5L791.4 887.1M788.7 884.9L791.4 881.5" stroke="#0f0"/>
<path d="M788.7 873.1L789 882.3L790.1 890.7M788.8 866.5L788.7 874.9" stroke="#f00"/>
<path d="M787.1 887.6L789.7 883.5M787.1 880.8L789.7 885" stroke="#00f"/>
<path d="M787 881.4L789.8 885M787 887L789.8 883.5" stroke="#0f0"/>
<path d="M785.3 886.5L790 883.8" stroke="#f00"/>
<path d="M785.5 890.1L788.1 886.1M785.5 878.1L788.1 882.3" stroke="#00f"/>
<path d="M785.4 879.2L788.1 882.8M785.4 889L788.2 885.6" stroke="#0f0"/>
<path d="M783.8 892.7L786.4 888.6M783.8 875.4L786.4 879.6" stroke="#00f"/>
<path d="M783.8 877.1L786.5 880.7M783.7 891L786.5 887.6" stroke="#0f0"/>
<path d="M782.2 888.4L786.9 885.6" stroke="#f00"/>
<path d="M782.2 895.2L784.8 891.2M782.2 872.7L784.8 876.9" stroke="#00f"/>
<path d="M782.1 874.9L784.9 878.5M782.1 893L784.9 889.6" stroke="#0f0"/>
<path d="M780.6 897.8L783.2 893.7M780.6 870L783.1 874.2" stroke="#00f"/>
<path d="M780.5 872.8L783.2 876.4M780.5 895L783.2 891.6" stroke="#0f0"/>
<path d="M779.1 890.3L783.8 887.5" stroke="#f00"/>
<path d="M778.9 900.3L781.5 896.3M778.9 867.4L781.5 871.6" stroke="#00f"/>
<path d="M778.9 870.7L781.6 874.2M778.8 897L781.6 893.6" stroke="#0f0"/>
<path d="M777.3 902.8L779.9 898.8M777.3 864.7L779.9 868.9" stroke="#00f"/>
<path d="M777.2 868.5L780 872.1M777.2 899L780 895.6" stroke="#0f0"/>
<path d="M775.9 892.3L780.6 889.4" stroke="#f00"/>
<path d="M775.6 905.3L778.3 901.3M775.7 862.1L778.2 866.3" stroke="#00f"/>
<path d="M775.6 866.4L778.3 870M775.6 901L778.3 897.6" stroke="#0f0"/>
<path d="M774 907.8L776.6 903.8M774 859.5L776.6 863.6" stroke="#00f"/>
<path d="M773.9 864.3L776.7 867.9M773.9 903L776.7 899.6" stroke="#0f0"/>
<path d="M772.6 894.3L777.4 891.3" stroke="#f00"/>
<path d="M772.4 910.3L775 906.3M772.4 856.9L775 861" stroke="#00f"/>
<path d="M772.3 862.2L775.1 865.7M772.3 904.9L775.1 901.6" stroke="#0f0"/>
<path d="M770.7 912.8L773.4 908.8M770.7 854.3L773.3 858.4" stroke="#00f"/>
<path d="M770.7 860.1L773.4 863.6M770.6 906.9L773.4 903.5" stroke="#0f0"/>
<path d="M769.4 896.3L774.2 893.3" stroke="#f00"/>
<path d="M769.1 915.2L771.7 911.3M769.1 851.7L771.7 855.8" stroke="#00f"/>
<path d="M769 858.1L771.8 861.6M769 908.8L771.8 905.5" stroke="#0f0"/>
<path d="M767.5 917.7L770.1 913.7M767.5 849.1L770.1 853.2" stroke="#00f"/>
<path d="M767.4 856L770.2 859.5M767.4 910.7L770.2 907.4" stroke="#0f0"/>
<path d="M695.5 946L739.5 915.8L756.8 904.4L770.9 895.3" stroke="#f00"/>
<path d="M765.8 920.1L768.5 916.2M765.8 846.5L768.4 850.6" stroke="#00f"/>
<path d="M765.8 854L768.5 857.4M765.7 912.6L768.5 909.4" stroke="#0f0"/>
<path d="M764.2 922.5L766.8 918.6M764.2 844L766.8 848.1" stroke="#00f"/>
<path d="M764.1 852L766.9 855.4M764.1 914.5L766.9 911.3" stroke="#0f0"/>
<path d="M762.5 924.9L765.2 921M762.6 841.5L765.2 845.5" stroke="#00f"/>
<path d="M762.5 850L765.3 853.4M762.5 916.4L765.3 913.2" stroke="#0f0"/>
<path d="M760.9 927.3L763.6 923.4M760.9 838.9L763.5 843" stroke="#00f"/>
<path d="M760.8 848L763.6 851.4M760.8 918.2L763.6 915" stroke="#0f0"/>
<path d="M548.1 1010.2L553.7 1015.7L560.2 1021.7L566.8 1027L571.7 1030.5L576.6 1033.7L583.1 1037.4L589.7 1040.5L596.2 1042.9L601.1 1044.3L607.6 1045.6L614.2 1046.3L620.7 1046.4L627.3 1045.9L633.8 1044.8L640.4 1043.1L646.9 1040.8L653.4 1038L660 1034.6L666.5 1030.7L673.1 1026.3L679.6 1021.4L686.2 1016.1L692.7 1010.3L700.9 1002.4L707.4 995.6L715.6 986.6L722.2 979L730.3 968.9L745.1 949.6L761.9 925.8M728.2 791.9L736.9 803.8L745.1 815.3L761.9 840.5" stroke="#00f"/>
<path d="M708.2 807.2L714 808.9L720.5 811.8L727.1 815.7L733.6 820.4L740.1 826L746.7 832.3L753.2 839.3L762 849.4M693.5 954L697.6 954.8L700.9 955.1L704.2 955.1L709.1 954.6L712.3 954L717.2 952.5L720.5 951.2L725.4 948.8L728.7 946.9L733.6 943.6L741.8 937.1L746.7 932.7L751.6 928L762 916.9" stroke="#0f0"/>
<path d="M725.1 785.9L730.9 781.4" stroke="#f00"/>
<path d="M723.2 785.5L729.2 793.4" stroke="#00f"/>
<path d="M720.6 789.5L726.5 784.8" stroke="#f00"/>
<path d="M718.3 779.3L724.3 787" stroke="#00f"/>
<path d="M706.1 801.8L722 788.4" stroke="#f00"/>
<path d="M695.4 753.2L707.4 766.3L719.4 780.7" stroke="#00f"/>
<path d="M703.3 806.4L709.9 807.6" stroke="#0f0"/>
<path d="M701 806.3L707.5 800.6" stroke="#f00"/>
<path d="M698.4 806.3L705.1 806.6" stroke="#0f0"/>
<path d="M695.6 811L702.3 805.1" stroke="#f00"/>
<path d="M691.8 807.1L696 806.5L700.2 806.3" stroke="#0f0"/>
<path d="M700.1 751L692.9 762.8" stroke="#f00"/>
<path d="M592.1 711.2L597.8 709.8L604.4 708.6L610.9 708.2L617.5 708.3L622.4 708.8L628.9 710L635.5 711.8L642 714.2L648.5 717.1L655.1 720.6L661.6 724.6L668.2 729.1L674.7 734.2L682.9 741.2L689.4 747.3L696.6 754.5" stroke="#00f"/>
<path d="M691.9 948.5L697 945" stroke="#f00"/>
<path d="M690.2 953.1L695.2 954.4" stroke="#0f0"/>
<path d="M690.1 816L697 809.8" stroke="#f00"/>
<path d="M686.9 808.5L693.6 806.8" stroke="#0f0"/>
<path d="M688.3 951L693.4 947.5M693.8 761.2L663.6 811.4" stroke="#f00"/>
<path d="M687 951.8L691.9 953.6" stroke="#0f0"/>
<path d="M646.4 857.2L673.1 831.7L691.4 814.8M684.6 953.5L689.7 950" stroke="#f00"/>
<path d="M661 826.8L668.2 819.9L674.7 814.8L678 812.7L681.3 810.9L684.5 809.4L688.7 807.9M682.1 949.4L688.6 952.5" stroke="#0f0"/>
<path d="M681 956L686.1 952.5" stroke="#f00"/>
<path d="M678.9 947.5L683.7 950.3" stroke="#0f0"/>
<path d="M577 994L577.6 998.5L578.7 1001.4L580.4 1003.6L581.4 1004.5L583.8 1005.7L586.8 1006.3L588.4 1006.3L592 1006L596 1005.2L602.8 1003L607.8 1000.9L615.8 997.1L624.5 992.4L633.8 987L653.6 974.5L682.5 955" stroke="#f00"/>
<path d="M628.5 882.9L635.5 895L642 905.7L648.5 915.5L655.1 924.3L661.6 932.2L668.2 938.9L674.7 944.5L680.4 948.4" stroke="#0f0"/>
<path d="M664.6 809.8L658.3 820.5" stroke="#f00"/>
<path d="M656.1 832.2L662.2 825.5" stroke="#0f0"/>
<path d="M659.2 819L653 829.4" stroke="#f00"/>
<path d="M649.6 840.3L657.3 830.8" stroke="#0f0"/>
<path d="M653.9 827.9L648 838.2" stroke="#f00"/>
<path d="M644.7 847L650.7 838.8" stroke="#0f0"/>
<path d="M648.9 836.6L643.1 846.7" stroke="#f00"/>
<path d="M643.1 849.4L645.8 845.5" stroke="#0f0"/>
<path d="M639.4 864L647.7 856" stroke="#f00"/>
<path d="M639.9 854.2L644.1 847.9" stroke="#0f0"/>
<path d="M644 845.1L638.4 855" stroke="#f00"/>
<path d="M636.6 859.3L640.9 852.7" stroke="#0f0"/>
<path d="M639.2 853.4L633.8 863M632.3 871.1L640.7 862.8" stroke="#f00"/>
<path d="M631.7 867.3L637.6 857.8" stroke="#0f0"/>
<path d="M634.7 861.5L629.4 870.9" stroke="#f00"/>
<path d="M628.5 872.8L632.6 865.7" stroke="#0f0"/>
<path d="M625 878.3L633.6 869.8" stroke="#f00"/>
<path d="M626.8 875.6L629.4 871.2M626.8 879.9L629.3 884.4" stroke="#0f0"/>
<path d="M630.3 869.3L625.2 878.5" stroke="#f00"/>
<path d="M625.2 878.5L627.7 874.1M625.2 876.9L627.7 881.5M623.6 881.4L626.1 876.9M623.6 873.9L626.1 878.5" stroke="#0f0"/>
<path d="M626.1 876.9L621.2 885.9" stroke="#f00"/>
<path d="M621.9 884.3L624.4 879.8M621.9 870.8L624.4 875.5" stroke="#0f0"/>
<path d="M617.5 885.8L626.3 877.1" stroke="#f00"/>
<path d="M618.7 890.2L622.8 882.7M563 763.3L568.4 771.1L573.3 778.8L583.1 795.8L592.9 814.2L614.2 856L622.8 872.4" stroke="#0f0"/>
<path d="M622 884.3L617.3 893" stroke="#f00"/>
<path d="M615.4 896.2L619.5 888.6" stroke="#0f0"/>
<path d="M618.2 891.5L613.6 900" stroke="#f00"/>
<path d="M613.8 899.3L616.3 894.7" stroke="#0f0"/>
<path d="M609.9 893.5L618.8 884.5" stroke="#f00"/>
<path d="M612.1 902.4L614.6 897.7" stroke="#0f0"/>
<path d="M614.5 898.4L610.1 906.7" stroke="#f00"/>
<path d="M608.9 908.5L613 900.8" stroke="#0f0"/>
<path d="M611 905.1L606.8 913.2" stroke="#f00"/>
<path d="M605.6 914.7L609.7 906.9" stroke="#0f0"/>
<path d="M533.5 972.6L578.2 925.9L611.1 892.3M607.6 911.6L603.7 919.4" stroke="#f00"/>
<path d="M602.3 920.9L606.4 913.1" stroke="#0f0"/>
<path d="M604.5 917.8L600.7 925.4" stroke="#f00"/>
<path d="M599 927.1L603.2 919.3" stroke="#0f0"/>
<path d="M601.5 923.8L597.9 931.2" stroke="#f00"/>
<path d="M595.8 933.2L599.9 925.5" stroke="#0f0"/>
<path d="M598.7 929.6L595.3 936.8" stroke="#f00"/>
<path d="M594.1 936.3L596.6 931.7" stroke="#0f0"/>
<path d="M596.1 935.2L592.9 942.1" stroke="#f00"/>
<path d="M592.5 939.3L595 934.7" stroke="#0f0"/>
<path d="M551.5 762.2L607.3 694.5M593.6 940.5L590.6 947.2" stroke="#f00"/>
<path d="M548.1 739L553.7 733.9L560.2 728.5L566.8 723.7L571.7 720.6L576.6 717.7L583.1 714.6L588 712.6L593.8 710.7" stroke="#00f"/>
<path d="M589.2 945.3L593.4 937.8" stroke="#0f0"/>
<path d="M591.3 945.6L588.5 952.1" stroke="#f00"/>
<path d="M587.6 948.3L590.1 943.8" stroke="#0f0"/>
<path d="M589.2 950.4L586.6 956.8" stroke="#f00"/>
<path d="M585.9 951.2L588.5 946.7" stroke="#0f0"/>
<path d="M587.3 955.1L584.9 961.2" stroke="#f00"/>
<path d="M584.3 954.1L586.8 949.7" stroke="#0f0"/>
<path d="M585.6 959.5L583.4 965.4" stroke="#f00"/>
<path d="M582.7 957L585.2 952.6" stroke="#0f0"/>
<path d="M584 963.7L581 972.3L578.4 982.3L577.8 985.2L577.1 990.4L577.1 995.7" stroke="#f00"/>
<path d="M548.1 1002.4L552 999.1L556.9 994.2L560.2 990.5L565.1 984.3L573.3 972.4L578.2 964.5L583.6 955.4M548.1 746.9L552 750.4L555.3 753.9L560.2 759.7L564 764.7" stroke="#0f0"/>
<path d="M546.5 1008.5L549.4 1011.5M546.5 740.6L549.4 737.8" stroke="#00f"/>
<path d="M546.4 1003.5L549.5 1001.3M546.4 745.5L549.5 748" stroke="#0f0"/>
<path d="M544.9 1006.7L547.7 1009.8M544.8 742.3L547.8 739.4" stroke="#00f"/>
<path d="M544.7 1004.6L547.9 1002.5M544.8 744.3L547.8 746.7" stroke="#0f0"/>
<path d="M543.2 1004.9L546.1 1008M543.2 743.9L546.1 741" stroke="#00f"/>
<path d="M543.1 1005.5L546.3 1003.6M543.1 743.3L546.2 745.4" stroke="#0f0"/>
<path d="M541.6 1003.1L544.5 1006.3M541.6 745.6L544.5 742.6" stroke="#00f"/>
<path d="M541.4 1006.4L544.6 1004.7M541.4 742.3L544.6 744.2" stroke="#0f0"/>
<path d="M540 1001.2L542.8 1004.4M540 747.4L542.8 744.3" stroke="#00f"/>
<path d="M539.8 1007.1L543 1005.6M539.8 741.5L543 743.2" stroke="#0f0"/>
<path d="M538.4 999.3L541.2 1002.6M538.3 749.1L541.2 746" stroke="#00f"/>
<path d="M538.1 1007.6L541.4 1006.4M538.1 740.8L541.4 742.3" stroke="#0f0"/>
<path d="M528.6 987.1L534 994.1L539.5 1000.7M536.7 751L539.5 747.8" stroke="#00f"/>
<path d="M515.3 1001.2L517.7 1003.2L520.9 1005.4L524.2 1007L527.5 1008L530.8 1008.5L534 1008.4L537.3 1007.8L539.8 1007.1M476.5 821.6L483.3 801.8L488.2 789.3L491.5 781.7L496.4 771.5L499.7 765.4L503 760L507.9 753.2L511.1 749.4L516 744.8L519.3 742.6L520.9 741.7L524.2 740.3L527.5 739.5L529.1 739.4L532.4 739.4L535.7 740L539.8 741.5" stroke="#0f0"/>
<path d="M492.5 833.9L552.6 760.8" stroke="#f00"/>
<path d="M476.4 843.2L485 827.4L493.1 813L501.3 799.5L507.9 789.3L516 777.3L522.6 768.3L530.8 757.9L537.9 749.6" stroke="#00f"/>
<path d="M524.2 982.4L534.7 971.3" stroke="#f00"/>
<path d="M518.8 973.5L529.7 988.5" stroke="#00f"/>
<path d="M514.8 992.4L525.4 981.1" stroke="#f00"/>
<path d="M466.6 880.5L473.5 894.6L481.7 910.6L494.8 934.7L501.3 945.9L507.9 956.7L514.4 966.9L519.8 974.9" stroke="#00f"/>
<path d="M510.5 996.2L514.4 1000.3L516.7 1002.4" stroke="#0f0"/>
<path d="M505.3 1002.5L516 991" stroke="#f00"/>
<path d="M466.7 888.7L471.9 906.8L478.4 927.9L485 946.6L489.9 959.1L493.1 966.7L496.4 973.6L501.3 982.8L506.2 990.6L511.7 997.6" stroke="#0f0"/>
<path d="M317.7 1205.6L425.3 1088.5L466.4 1044.1L506.5 1001.2M462.1 871.2L493.7 832.6" stroke="#f00"/>
<path d="M466.6 862.2L477.2 841.6" stroke="#00f"/>
<path d="M466.7 854.1L471.9 836.3L477.1 819.8" stroke="#0f0"/>
<path d="M464.9 877.2L467.4 882.2M464.9 865.4L467.4 860.6" stroke="#00f"/>
<path d="M465.1 882.7L467.2 890.4M465.1 859.9L467.2 852.3" stroke="#0f0"/>
<path d="M463.3 873.8L465.7 878.8M463.3 868.7L465.7 863.8" stroke="#00f"/>
<path d="M463.5 876.5L465.6 884.4M463.5 865.9L465.6 858.2" stroke="#0f0"/>
<path d="M462.1 871.2L464.1 875.4M462.1 871.2L464.1 867.1" stroke="#00f"/>
<path d="M462.1 871.2L463.9 878.3M462.1 871.2L463.9 864.2" stroke="#0f0"/>
<path d="M462.1 871.2L381.9 981.2L317.7 1070" stroke="#f00"/>
<path d="M462.1 871.2L2097.9 936.6" stroke="#000" stroke-width="4"/>
</g>
<g font-family="'Liberation Serif', serif" font-size="71px" fill="#000"><text transform="translate(259.5 1494.9) scale(1 1.025)" text-anchor="end">−1</text><text transform="translate(259.5 1287.2) scale(1 1.025)" text-anchor="end">−0.5</text><text transform="translate(259.5 1079.5) scale(1 1.025)" text-anchor="end">0</text><text transform="translate(259.5 871.8) scale(1 1.025)" text-anchor="end">0.5</text><text transform="translate(259.5 664) scale(1 1.025)" text-anchor="end">1</text><text transform="translate(259.5 456.3) scale(1 1.025)" text-anchor="end">1.5</text><text transform="translate(282.7 1583.1) scale(1 1.025)" text-anchor="end">−4</text><text transform="translate(446.3 1589.7) scale(1 1.025)" text-anchor="end">−3</text><text transform="translate(609.9 1596.2) scale(1 1.025)" text-anchor="end">−2</text><text transform="translate(773.4 1602.7) scale(1 1.025)" text-anchor="end">−1</text><text transform="translate(937 1609.3) scale(1 1.025)" text-anchor="end">0</text><text transform="translate(1100.6 1615.8) scale(1 1.025)" text-anchor="end">1</text><text transform="translate(1264.2 1622.4) scale(1 1.025)" text-anchor="end">2</text><text transform="translate(1427.8 1628.9) scale(1 1.025)" text-anchor="end">3</text><text transform="translate(1591.3 1635.4) scale(1 1.025)" text-anchor="end">4</text><text transform="translate(1754.9 1642) scale(1 1.025)" text-anchor="end">5</text><text transform="translate(1918.5 1648.5) scale(1 1.025)" text-anchor="end">6</text><text transform="translate(2011.7 1604.7) scale(1 1.025)">−2</text><text transform="translate(2155.7 1418.7) scale(1 1.025)">0</text><text transform="translate(2299.8 1232.7) scale(1 1.025)">2</text><text transform="translate(1421.5 1766) scale(1 1.025)" text-anchor="middle"><tspan font-style="italic">n</tspan></text><text transform="translate(2244.8 1636.5) scale(1 1.025)">Im(<tspan font-style="italic">V</tspan>)</text><text transform="translate(89 954.6) rotate(-90) scale(1 1.025)" text-anchor="middle">Re(<tspan font-style="italic">V</tspan>)</text></g>
<path d="M605.6 2975.2L605.6 1936.6M769.2 2981.7L769.2 1943.1M932.8 2988.3L932.8 1949.7M1096.4 2994.8L1096.4 1956.2M1259.9 3001.4L1259.9 1962.8M1423.5 3007.9L1423.5 1969.3M1587.1 3014.4L1587.1 1975.8M1750.7 3021L1750.7 1982.4M1914.3 3027.5L1914.3 1988.9M2077.8 3034.1L2077.8 1995.5M2241.4 3040.6L2241.4 2002M606.1 2975.2L2241.9 3040.6M606.1 2455.9L2241.9 2521.3M606.1 1936.6L2241.9 2002M461.6 3161.2L461.6 2122.6M318 3347.2L606.1 2975.2M318 2827.9L606.1 2455.9M318 2308.6L606.1 1936.6M2097.9 3226.6L462.1 3161.2M2241.9 3040.6L606.1 2975.2M481.6 3353.7L769.7 2981.7M645.2 3360.3L933.3 2988.3M808.7 3366.8L1096.9 2994.8M972.3 3373.4L1260.4 3001.4M1135.9 3379.9L1424 3007.9M1299.5 3386.4L1587.6 3014.4M1463.1 3393L1751.2 3021M1626.6 3399.5L1914.8 3027.5M1790.2 3406.1L2078.3 3034.1" fill="none" stroke="#000" stroke-width="2" stroke-dasharray="4 22.6" stroke-dashoffset="1" shape-rendering="crispEdges"/>
<path d="M318 3347.2L318 2308.6M318 3347.2L1953.8 3412.6M1953.8 3412.6L2241.9 3040.6M318 3347.2L276 3345.5M318 2827.9L276 2826.2M318 2308.6L276 2306.9M318 3347.2L293.2 3379.2M481.6 3353.7L456.8 3385.8M645.2 3360.3L620.4 3392.3M808.7 3366.8L783.9 3398.8M972.3 3373.4L947.5 3405.4M1135.9 3379.9L1111.1 3411.9M1299.5 3386.4L1274.7 3418.5M1463.1 3393L1438.3 3425M1626.6 3399.5L1601.8 3431.5M1790.2 3406.1L1765.4 3438.1M1953.8 3412.6L1929 3444.6M1953.8 3412.6L1995.2 3414.3M2097.9 3226.6L2139.2 3228.3M2241.9 3040.6L2283.3 3042.3" fill="none" stroke="#000" stroke-width="4" shape-rendering="crispEdges"/>
<clipPath id="c2"><rect x="317" y="1935.6" width="1926.2" height="1478"/></clipPath>
<g clip-path="url(#c2)" fill="none" stroke-width="8.4" stroke-linejoin="round" shape-rendering="crispEdges">
<path d="M1673.4 2387.4L1690.5 2395.6L1706.9 2403.7L1724.9 2413L1744.5 2423.5L1782.2 2444.4L1859 2488.3L1891.7 2506.7L1926.1 2525.5L1958.8 2542.8L1994.8 2560.9L2029.2 2577.2L2063.5 2592.5L2081.5 2600L2097.9 2606.7M1673.3 2993.2L1690.5 2986.5L1706.9 2979.7L1724.9 2971.8L1744.5 2962.9L1782.2 2945L1859 2907.2L1891.7 2891.4L1926.1 2875.3L1958.8 2860.7L1994.8 2845.5L2029.2 2831.9L2047.2 2825.2L2063.5 2819.4L2081.5 2813.3L2097.9 2807.9" stroke="#00f"/>
<path d="M2095.3 2704.5L2097.9 2704.7M2095.3 2709.9L2097.9 2709.9" stroke="#f00"/>
<path d="M1673.6 2396.2L1715.1 2441.1L1741.3 2468.7L1765.8 2493.5L1778.9 2506.3L1790.3 2517.2L1803.4 2529.2L1814.9 2539.3L1826.3 2549.1L1837.8 2558.5L1849.2 2567.5L1860.7 2576.2L1872.1 2584.5L1883.6 2592.5L1895 2600.1L1908.1 2608.3L1919.6 2615.1L1932.6 2622.5L1944.1 2628.5L1957.2 2635.1L1970.3 2641.2L1983.4 2647L1996.4 2652.4L2009.5 2657.4L2022.6 2662.1L2037.3 2666.9L2052.1 2671.4L2066.8 2675.6L2081.5 2679.4L2097.9 2683.3M1673.6 2984.5L1715.1 2942.9L1741.3 2917.4L1765.8 2894.5L1778.9 2882.8L1790.3 2872.8L1803.4 2861.9L1814.9 2852.7L1826.3 2843.8L1837.8 2835.3L1849.2 2827.2L1860.7 2819.4L1872.1 2812L1883.6 2805L1895 2798.3L1908.1 2791.1L1919.6 2785.2L1932.6 2778.9L1944.1 2773.8L1957.2 2768.3L1970.3 2763.2L1983.4 2758.5L1996.4 2754.1L2009.5 2750.2L2022.6 2746.5L2037.3 2742.8L2052.1 2739.5L2066.8 2736.5L2081.5 2733.9L2097.9 2731.3" stroke="#0f0"/>
<path d="M2093.7 2704.4L2097.1 2704.6M2093.7 2709.9L2097.1 2709.9M2092.1 2704.3L2095.5 2704.5M2092.1 2709.9L2095.5 2709.9M2090.4 2704.2L2093.9 2704.4M2090.4 2709.9L2093.9 2709.9M2088.8 2704L2092.2 2704.3M2088.8 2709.8L2092.2 2709.9M2087.1 2703.9L2090.6 2704.2M2087.1 2709.8L2090.6 2709.9M2085.5 2703.8L2088.9 2704M2085.5 2709.8L2088.9 2709.8M2083.9 2703.7L2087.3 2703.9M2083.9 2709.8L2087.3 2709.8M2082.2 2703.6L2085.7 2703.8M2082.2 2709.8L2085.7 2709.8M2080.6 2703.4L2084 2703.7M2080.6 2709.8L2084 2709.8M2079 2703.3L2082.4 2703.6M2079 2709.8L2082.4 2709.8M2077.3 2703.2L2080.8 2703.4M2077.3 2709.8L2080.8 2709.8M2075.7 2703.1L2079.1 2703.3M2075.7 2709.8L2079.1 2709.8M2074.1 2702.9L2077.5 2703.2M2074.1 2709.8L2077.5 2709.8M2072.4 2702.8L2075.9 2703.1M2072.4 2709.8L2075.9 2709.8M2070.8 2702.7L2074.2 2702.9M2070.8 2709.8L2074.2 2709.8M2069.2 2702.6L2072.6 2702.8M2069.2 2709.8L2072.6 2709.8M2067.5 2702.4L2070.9 2702.7M2067.5 2709.8L2071 2709.8M2065.9 2702.3L2069.3 2702.6M2065.9 2709.8L2069.3 2709.8M2064.2 2702.2L2067.7 2702.4M2064.2 2709.8L2067.7 2709.8M2062.6 2702L2066 2702.3M2062.6 2709.8L2066 2709.8M2061 2701.9L2064.4 2702.2M2061 2709.8L2064.4 2709.8M2059.3 2701.8L2062.8 2702M2059.3 2709.8L2062.8 2709.8M2057.7 2701.6L2061.1 2701.9M2057.7 2709.8L2061.1 2709.8M2056.1 2701.5L2059.5 2701.8M2056.1 2709.8L2059.5 2709.8M2054.4 2701.3L2057.9 2701.6M2054.4 2709.8L2057.9 2709.8M2052.8 2701.2L2056.2 2701.5M2052.8 2709.8L2056.2 2709.8M2051.2 2701.1L2054.6 2701.4M2051.2 2709.8L2054.6 2709.8M2049.5 2700.9L2053 2701.2M2049.5 2709.8L2053 2709.8M2047.9 2700.8L2051.3 2701.1M2047.9 2709.8L2051.3 2709.8M2046.3 2700.6L2049.7 2700.9M2046.3 2709.9L2049.7 2709.8M2044.6 2700.5L2048 2700.8M2044.6 2709.9L2048.1 2709.8M1436.1 2366.9L1443.5 2369.6L1450.1 2372.3L1456.6 2375.5L1464.8 2380L1473 2385.1L1481.2 2390.7L1489.3 2396.7L1497.5 2403.1L1505.7 2409.9L1513.9 2416.9L1531.9 2433.5L1551.5 2452.5L1597.3 2498.1L1618.6 2518.9L1641.5 2540.3L1662.7 2559L1675.8 2569.9L1687.3 2579.1L1700.4 2589L1711.8 2597.2L1723.3 2605L1736.3 2613.4L1747.8 2620.4L1760.9 2627.8L1775.6 2635.5L1790.3 2642.6L1805.1 2649.2L1819.8 2655.1L1834.5 2660.5L1850.9 2666L1867.2 2670.9L1883.6 2675.3L1901.6 2679.6L1919.6 2683.4L1937.6 2686.8L1957.2 2690.1L1978.4 2693.2L1999.7 2695.8L2022.6 2698.4L2046.4 2700.6M1436.1 2994.8L1443.5 2992.7L1450.1 2990.5L1456.6 2987.8L1464.8 2983.9L1473 2979.5L1481.2 2974.6L1489.3 2969.3L1497.5 2963.5L1505.7 2957.4L1513.9 2951L1531.9 2935.9L1551.5 2918.5L1597.3 2876.4L1618.6 2857.4L1641.5 2837.8L1662.7 2820.8L1675.8 2810.9L1687.3 2802.7L1700.4 2793.8L1711.8 2786.5L1723.3 2779.6L1736.3 2772.2L1747.8 2766.2L1760.9 2759.9L1775.6 2753.3L1790.3 2747.4L1805.1 2742L1819.8 2737.3L1834.5 2733L1850.9 2728.8L1867.2 2725.2L1883.6 2722.2L1901.6 2719.3L1919.6 2716.9L1937.6 2715L1957.2 2713.3L1978.4 2711.9L1999.7 2710.9L2022.6 2710.2L2046.4 2709.9" stroke="#f00"/>
<path d="M1671.7 2386.7L1675 2388.2M1671.7 2993.8L1675 2992.6" stroke="#00f"/>
<path d="M1671.9 2394.5L1674.8 2397.6M1671.9 2986.1L1674.8 2983.2" stroke="#0f0"/>
<path d="M1670.1 2385.9L1673.4 2387.4M1670.1 2994.5L1673.4 2993.2" stroke="#00f"/>
<path d="M1670.3 2392.7L1673.2 2395.8M1670.3 2987.7L1673.2 2984.8" stroke="#0f0"/>
<path d="M1668.5 2385.2L1671.7 2386.7M1668.4 2995.1L1671.8 2993.8" stroke="#00f"/>
<path d="M1668.7 2390.9L1671.5 2394M1668.6 2989.4L1671.6 2986.5" stroke="#0f0"/>
<path d="M1666.8 2384.5L1670.1 2386M1666.8 2995.7L1670.1 2994.4" stroke="#00f"/>
<path d="M1667 2389.2L1669.9 2392.3M1667 2991L1669.9 2988.1" stroke="#0f0"/>
<path d="M1665.2 2383.7L1668.5 2385.2M1665.2 2996.3L1668.5 2995" stroke="#00f"/>
<path d="M1665.4 2387.4L1668.3 2390.5M1665.4 2992.6L1668.3 2989.7" stroke="#0f0"/>
<path d="M1663.6 2383L1666.8 2384.5M1663.5 2996.9L1666.9 2995.6" stroke="#00f"/>
<path d="M1663.8 2385.7L1666.6 2388.7M1663.7 2994.2L1666.6 2991.3" stroke="#0f0"/>
<path d="M1661.9 2382.3L1665.2 2383.7M1661.9 2997.4L1665.2 2996.2" stroke="#00f"/>
<path d="M1662.1 2383.9L1665 2387M1662.1 2995.9L1665 2993" stroke="#0f0"/>
<path d="M1660.3 2381.6L1663.6 2383M1660.3 2998L1663.6 2996.8" stroke="#00f"/>
<path d="M1660.5 2382.2L1663.4 2385.2M1660.5 2997.5L1663.4 2994.6" stroke="#0f0"/>
<path d="M1658.6 2380.9L1661.9 2382.3M1658.6 2998.6L1661.9 2997.4" stroke="#00f"/>
<path d="M1658.9 2380.4L1661.7 2383.5M1658.8 2999.1L1661.7 2996.2" stroke="#0f0"/>
<path d="M1657 2380.2L1660.3 2381.6M1657 2999.2L1660.3 2998" stroke="#00f"/>
<path d="M1657.2 2378.7L1660.1 2381.7M1657.2 3000.7L1660.1 2997.8" stroke="#0f0"/>
<path d="M1655.4 2379.5L1658.7 2380.9M1655.3 2999.8L1658.7 2998.6" stroke="#00f"/>
<path d="M1655.6 2376.9L1658.4 2380M1655.6 3002.3L1658.5 2999.5" stroke="#0f0"/>
<path d="M1653.7 2378.8L1657 2380.2M1653.7 3000.3L1657 2999.2" stroke="#00f"/>
<path d="M1653.9 2375.2L1656.8 2378.2M1653.9 3003.9L1656.8 3001.1" stroke="#0f0"/>
<path d="M1652.1 2378.1L1655.4 2379.5M1652.1 3000.9L1655.4 2999.7" stroke="#00f"/>
<path d="M1652.3 2373.5L1655.2 2376.5M1652.3 3005.5L1655.2 3002.7" stroke="#0f0"/>
<path d="M1650.5 2377.4L1653.8 2378.8M1650.4 3001.4L1653.8 3000.3" stroke="#00f"/>
<path d="M1650.7 2371.7L1653.5 2374.8M1650.6 3007.1L1653.6 3004.3" stroke="#0f0"/>
<path d="M1648.8 2376.7L1652.1 2378.1M1648.8 3002L1652.1 3000.9" stroke="#00f"/>
<path d="M1649 2370L1651.9 2373M1649 3008.7L1651.9 3005.9" stroke="#0f0"/>
<path d="M1647.2 2376L1650.5 2377.4M1647.2 3002.5L1650.5 3001.4" stroke="#00f"/>
<path d="M1647.4 2368.3L1650.3 2371.3M1647.4 3010.3L1650.3 3007.5" stroke="#0f0"/>
<path d="M1645.5 2375.4L1648.8 2376.7M1645.5 3003.1L1648.9 3002" stroke="#00f"/>
<path d="M1645.8 2366.6L1648.6 2369.6M1645.7 3011.9L1648.7 3009.1" stroke="#0f0"/>
<path d="M1643.9 2374.7L1647.2 2376.1M1643.9 3003.6L1647.2 3002.5" stroke="#00f"/>
<path d="M1644.1 2364.9L1647 2367.9M1644.1 3013.5L1647 3010.7" stroke="#0f0"/>
<path d="M1642.3 2374.1L1645.6 2375.4M1642.3 3004.1L1645.6 3003" stroke="#00f"/>
<path d="M1318.7 2400.3L1330.7 2381.2L1340.5 2366.2L1350.3 2352L1360.1 2338.6L1369.9 2326.2L1379.7 2314.6L1389.6 2304.1L1397.7 2296.2L1407.6 2287.6L1415.7 2281.3L1425.5 2274.8L1433.7 2270.2L1441.9 2266.4L1446.8 2264.4L1451.7 2262.8L1459.9 2260.7L1464.8 2259.7L1469.7 2259.1L1477.9 2258.6L1482.8 2258.6L1487.7 2258.9L1492.6 2259.4L1497.5 2260.2L1507.3 2262.4L1517.2 2265.6L1527 2269.6L1536.8 2274.5L1546.6 2280L1556.4 2286.3L1567.9 2294.5L1579.3 2303.4L1590.8 2313.1L1602.2 2323.3L1615.3 2335.7L1630 2350.3L1645.4 2366.2M1320.4 2954.9L1330.7 2972.1L1340.5 2987.8L1350.3 3002.8L1360.1 3017L1369.9 3030.2L1379.7 3042.5L1389.6 3053.8L1397.7 3062.4L1407.6 3071.8L1415.7 3078.7L1425.5 3086.1L1433.7 3091.3L1441.9 3095.8L1446.8 3098.1L1451.7 3100.1L1456.6 3101.9L1461.5 3103.4L1466.4 3104.6L1471.3 3105.6L1479.5 3106.6L1484.4 3106.9L1489.3 3106.9L1494.2 3106.7L1499.2 3106.2L1509 3104.6L1518.8 3102.1L1528.6 3098.7L1538.4 3094.5L1548.2 3089.6L1558 3084L1569.5 3076.7L1580.9 3068.5L1592.4 3059.7L1603.8 3050.3L1616.9 3038.8L1630 3026.9L1645.4 3012.2" stroke="#0f0"/>
<path d="M1434.5 2357.7L1446.8 2353.9L1458.3 2351L1469.7 2348.7L1482.8 2346.8L1494.2 2345.7L1507.3 2345.2L1518.8 2345.3L1531.9 2346L1545 2347.3L1558 2349.3L1571.1 2351.8L1585.9 2355.3L1598.9 2358.9L1613.7 2363.5L1628.4 2368.7L1643.9 2374.7M1434.5 3003.9L1446.8 3008.6L1458.3 3012.4L1469.7 3015.7L1482.8 3018.6L1494.2 3020.6L1507.3 3022.2L1518.8 3023L1531.9 3023.4L1545 3023.1L1558 3022.2L1571.1 3020.7L1585.9 3018.4L1598.9 3015.8L1613.7 3012.4L1628.4 3008.4L1644 3003.6" stroke="#00f"/>
<path d="M1434.5 2366.4L1437.9 2367.5M1434.5 2995.2L1437.9 2994.4" stroke="#f00"/>
<path d="M1432.9 2358.3L1436.2 2357.1M1432.9 3003.2L1436.2 3004.6" stroke="#00f"/>
<path d="M1432.9 2365.9L1436.2 2366.9M1432.8 2995.5L1436.2 2994.8" stroke="#f00"/>
<path d="M1431.2 2358.8L1434.6 2357.7M1431.3 3002.5L1434.6 3003.9" stroke="#00f"/>
<path d="M1431.2 2365.5L1434.6 2366.4M1431.2 2995.8L1434.6 2995.1" stroke="#f00"/>
<path d="M1429.6 2359.4L1432.9 2358.2M1429.6 3001.8L1432.9 3003.2" stroke="#00f"/>
<path d="M1429.6 2365L1433 2365.9M1429.6 2996.1L1433 2995.5" stroke="#f00"/>
<path d="M1428 2360L1431.3 2358.8M1428 3001L1431.3 3002.5" stroke="#00f"/>
<path d="M1427.9 2364.6L1431.3 2365.5M1427.9 2996.4L1431.3 2995.8" stroke="#f00"/>
<path d="M1426.3 2360.6L1429.7 2359.4M1426.4 3000.3L1429.6 3001.8" stroke="#00f"/>
<path d="M1426.3 2364.3L1429.7 2365.1M1426.3 2996.6L1429.7 2996.1" stroke="#f00"/>
<path d="M1424.7 2361.2L1428 2360M1424.7 2999.5L1428 3001" stroke="#00f"/>
<path d="M1424.7 2363.9L1428.1 2364.7M1424.7 2996.8L1428.1 2996.4" stroke="#f00"/>
<path d="M1423.1 2361.9L1426.4 2360.6M1423.1 2998.8L1426.4 3000.3" stroke="#00f"/>
<path d="M1423 2363.6L1426.4 2364.3M1423 2997L1426.4 2996.6" stroke="#f00"/>
<path d="M1421.4 2362.5L1424.7 2361.2M1421.5 2998L1424.7 2999.5" stroke="#00f"/>
<path d="M1421.4 2363.4L1424.8 2364M1421.4 2997.1L1424.8 2996.8" stroke="#f00"/>
<path d="M1419.8 2363.2L1423.1 2361.9M1419.8 2997.2L1423.1 2998.8" stroke="#00f"/>
<path d="M1419.7 2363.1L1423.2 2363.7M1419.7 2997.3L1423.2 2997" stroke="#f00"/>
<path d="M1418.2 2363.8L1421.5 2362.5M1418.2 2996.4L1421.4 2998" stroke="#00f"/>
<path d="M1418.1 2362.9L1421.5 2363.4M1418.1 2997.3L1421.5 2997.1" stroke="#f00"/>
<path d="M1416.5 2364.5L1419.8 2363.2M1416.6 2995.6L1419.8 2997.2" stroke="#00f"/>
<path d="M1416.5 2362.7L1419.9 2363.1M1416.5 2997.4L1419.9 2997.2" stroke="#f00"/>
<path d="M1414.9 2365.2L1418.2 2363.8M1414.9 2994.8L1418.2 2996.4" stroke="#00f"/>
<path d="M1414.8 2362.6L1418.3 2362.9M1414.8 2997.4L1418.3 2997.3" stroke="#f00"/>
<path d="M1413.3 2365.9L1416.6 2364.5M1413.3 2993.9L1416.5 2995.6" stroke="#00f"/>
<path d="M1413.2 2362.5L1416.6 2362.7M1413.2 2997.4L1416.6 2997.4" stroke="#f00"/>
<path d="M1411.6 2366.7L1414.9 2365.2M1411.7 2993.1L1414.9 2994.8" stroke="#00f"/>
<path d="M1411.6 2362.4L1415 2362.6M1411.6 2997.3L1415 2997.4" stroke="#f00"/>
<path d="M1410 2367.4L1413.3 2365.9M1410 2992.2L1413.3 2993.9" stroke="#00f"/>
<path d="M1409.9 2362.3L1413.4 2362.5M1409.9 2997.3L1413.4 2997.4" stroke="#f00"/>
<path d="M1408.4 2368.2L1411.6 2366.7M1408.4 2991.3L1411.6 2993.1" stroke="#00f"/>
<path d="M1408.3 2362.3L1411.7 2362.4M1408.3 2997.2L1411.7 2997.4" stroke="#f00"/>
<path d="M1406.7 2368.9L1410 2367.4M1406.8 2990.4L1410 2992.2" stroke="#00f"/>
<path d="M1406.7 2362.3L1410.1 2362.3M1406.7 2997L1410.1 2997.3" stroke="#f00"/>
<path d="M1405.1 2369.7L1408.4 2368.2M1405.1 2989.5L1408.3 2991.3" stroke="#00f"/>
<path d="M1405 2362.4L1408.5 2362.3M1405 2996.8L1408.4 2997.2" stroke="#f00"/>
<path d="M1403.5 2370.5L1406.7 2368.9M1403.5 2988.6L1406.7 2990.4" stroke="#00f"/>
<path d="M1403.4 2362.4L1406.8 2362.3M1403.4 2996.6L1406.8 2997" stroke="#f00"/>
<path d="M1401.8 2371.3L1405.1 2369.7M1401.9 2987.7L1405.1 2989.5" stroke="#00f"/>
<path d="M1401.7 2362.5L1405.2 2362.4M1401.8 2996.4L1405.2 2996.9" stroke="#f00"/>
<path d="M1400.2 2372.1L1403.5 2370.5M1400.2 2986.7L1403.4 2988.6" stroke="#00f"/>
<path d="M1400.1 2362.7L1403.5 2362.4M1400.1 2996.1L1403.5 2996.7" stroke="#f00"/>
<path d="M1300.6 2446L1312.7 2434.6L1325.8 2422.9L1338.8 2412.1L1351.9 2402L1365 2392.8L1376.5 2385.4L1389.6 2377.7L1401.8 2371.3M1300.6 2904.9L1312.7 2917.2L1325.8 2929.9L1338.8 2941.8L1351.9 2952.9L1365 2963.2L1376.5 2971.5L1389.6 2980.2L1401.8 2987.6" stroke="#00f"/>
<path d="M1307.2 2428.4L1312.7 2421.6L1319.2 2413.8L1325.8 2406.5L1332.3 2399.7L1338.8 2393.5L1343.8 2389.2L1350.3 2384L1355.2 2380.4L1361.8 2376.1L1366.7 2373.3L1371.6 2370.8L1378.1 2368L1383 2366.3L1389.6 2364.5L1396.1 2363.2L1401.9 2362.5M1307.2 2923L1319.2 2938.6L1325.8 2946.4L1332.3 2953.6L1338.8 2960.4L1343.8 2965.1L1350.3 2970.9L1355.2 2974.8L1361.8 2979.6L1366.7 2982.8L1371.6 2985.7L1378.1 2989L1383 2991.2L1389.6 2993.5L1396.1 2995.3L1401.9 2996.4" stroke="#f00"/>
<path d="M1307.3 2932.1L1321.3 2956.4M1307.3 2419.3L1319.7 2398.7" stroke="#0f0"/>
<path d="M1305.6 2430.5L1308.3 2427M1305.6 2920.8L1308.3 2924.5" stroke="#f00"/>
<path d="M1305.7 2422.1L1308.2 2417.8M1305.7 2929.2L1308.2 2933.7" stroke="#0f0"/>
<path d="M1303.9 2432.6L1306.7 2429.1M1304 2918.5L1306.7 2922.2" stroke="#f00"/>
<path d="M1304 2424.9L1306.6 2420.5M1304.1 2926.3L1306.6 2930.8" stroke="#0f0"/>
<path d="M1302.3 2434.8L1305 2431.2M1302.3 2916.2L1305 2920" stroke="#f00"/>
<path d="M1302.4 2427.7L1305 2423.3M1302.4 2923.3L1304.9 2927.8" stroke="#0f0"/>
<path d="M1300.7 2437L1303.4 2433.4M1300.7 2913.9L1303.4 2917.7" stroke="#f00"/>
<path d="M1300.8 2430.5L1303.3 2426.1M1300.8 2920.4L1303.3 2924.9" stroke="#0f0"/>
<path d="M1298.9 2447.6L1301.9 2444.8M1299 2903.2L1301.8 2906.2" stroke="#00f"/>
<path d="M1299.1 2439.2L1301.8 2435.6M1299.1 2911.5L1301.7 2915.4" stroke="#f00"/>
<path d="M1299.1 2433.3L1301.7 2428.9M1299.2 2917.5L1301.7 2922" stroke="#0f0"/>
<path d="M1297.3 2449.2L1300.2 2446.3M1297.3 2901.4L1300.2 2904.5" stroke="#00f"/>
<path d="M1297.4 2441.5L1300.1 2437.8M1297.4 2909.2L1300.1 2913" stroke="#f00"/>
<path d="M1297.5 2436.1L1300 2431.7M1297.5 2914.5L1300 2919" stroke="#0f0"/>
<path d="M1295.7 2450.8L1298.6 2447.9M1295.7 2899.7L1298.6 2902.7" stroke="#00f"/>
<path d="M1295.8 2443.7L1298.5 2440M1295.8 2906.8L1298.5 2910.6" stroke="#f00"/>
<path d="M1295.9 2439L1298.4 2434.6M1295.9 2911.5L1298.4 2916.1" stroke="#0f0"/>
<path d="M1294 2452.4L1297 2449.5M1294.1 2897.9L1296.9 2901" stroke="#00f"/>
<path d="M1294.2 2446L1296.8 2442.3M1294.2 2904.3L1296.8 2908.3" stroke="#f00"/>
<path d="M1294.2 2441.8L1296.8 2437.4M1294.2 2908.6L1296.8 2913.1" stroke="#0f0"/>
<path d="M1292.4 2454.1L1295.3 2451.2M1292.4 2896.2L1295.3 2899.2" stroke="#00f"/>
<path d="M1292.5 2448.3L1295.2 2444.5M1292.5 2901.9L1295.2 2905.8" stroke="#f00"/>
<path d="M1292.6 2444.7L1295.1 2440.2M1292.6 2905.6L1295.1 2910.1" stroke="#0f0"/>
<path d="M1290.8 2455.7L1293.7 2452.8M1290.8 2894.4L1293.7 2897.5" stroke="#00f"/>
<path d="M1290.9 2450.7L1293.6 2446.9M1290.9 2899.4L1293.5 2903.4" stroke="#f00"/>
<path d="M1291 2447.5L1293.5 2443.1M1291 2902.6L1293.5 2907.2" stroke="#0f0"/>
<path d="M1289.1 2457.4L1292 2454.4M1289.2 2892.6L1292 2895.7" stroke="#00f"/>
<path d="M1289.3 2453L1291.9 2449.2M1289.3 2896.9L1291.9 2900.9" stroke="#f00"/>
<path d="M1289.3 2450.4L1291.9 2445.9M1289.3 2899.6L1291.8 2904.2" stroke="#0f0"/>
<path d="M1287.5 2459L1290.4 2456.1M1287.5 2890.8L1290.4 2893.9" stroke="#00f"/>
<path d="M1287.6 2455.4L1290.3 2451.5M1287.6 2894.4L1290.3 2898.5" stroke="#f00"/>
<path d="M1287.7 2453.2L1290.2 2448.8M1287.7 2896.6L1290.2 2901.2" stroke="#0f0"/>
<path d="M1285.9 2460.7L1288.8 2457.8M1285.9 2889L1288.7 2892.1" stroke="#00f"/>
<path d="M1286 2457.8L1288.6 2453.9M1286 2891.9L1288.6 2895.9" stroke="#f00"/>
<path d="M1286.1 2456.1L1288.6 2451.7M1286.1 2893.6L1288.6 2898.2" stroke="#0f0"/>
<path d="M1284.2 2462.4L1287.1 2459.4M1284.3 2887.2L1287.1 2890.3" stroke="#00f"/>
<path d="M1284.4 2460.2L1287 2456.3M1284.4 2889.3L1287 2893.4" stroke="#f00"/>
<path d="M1284.4 2459L1286.9 2454.6M1284.4 2890.6L1286.9 2895.2" stroke="#0f0"/>
<path d="M1282.6 2464.1L1285.5 2461.1M1282.6 2885.3L1285.5 2888.5" stroke="#00f"/>
<path d="M1282.7 2462.7L1285.4 2458.7M1282.7 2886.8L1285.4 2890.9" stroke="#f00"/>
<path d="M1282.8 2461.9L1285.3 2457.4M1282.8 2887.6L1285.3 2892.2" stroke="#0f0"/>
<path d="M1281 2465.8L1283.9 2462.8M1281 2883.5L1283.8 2886.7" stroke="#00f"/>
<path d="M1281.1 2465.1L1283.7 2461.2M1281.1 2884.2L1283.7 2888.3" stroke="#f00"/>
<path d="M1281.2 2464.8L1283.7 2460.3M1281.2 2884.6L1283.7 2889.2" stroke="#0f0"/>
<path d="M1279.3 2467.5L1282.2 2464.5M1279.4 2881.6L1282.2 2884.8" stroke="#00f"/>
<path d="M1279.5 2467.6L1282.1 2463.6M1279.5 2881.6L1282.1 2885.7" stroke="#f00"/>
<path d="M1279.5 2467.7L1282 2463.2M1279.5 2881.5L1282 2886.1" stroke="#0f0"/>
<path d="M1277.7 2469.3L1280.6 2466.2M1277.7 2879.8L1280.6 2883" stroke="#00f"/>
<path d="M1277.8 2470.1L1280.5 2466.1M1277.8 2878.9L1280.4 2883.1" stroke="#f00"/>
<path d="M1277.9 2470.6L1280.4 2466.1M1277.9 2878.5L1280.4 2883.1" stroke="#0f0"/>
<path d="M1276.1 2471L1278.9 2468M1276.1 2877.9L1278.9 2881.1" stroke="#00f"/>
<path d="M1276.2 2472.7L1278.8 2468.6M1276.2 2876.3L1278.8 2880.5" stroke="#f00"/>
<path d="M1276.2 2473.5L1278.8 2469M1276.3 2875.5L1278.8 2880.1" stroke="#0f0"/>
<path d="M1274.4 2472.8L1277.3 2469.7M1274.5 2876L1277.3 2879.3" stroke="#00f"/>
<path d="M1274.6 2475.2L1277.2 2471.1M1274.6 2873.6L1277.2 2877.8" stroke="#f00"/>
<path d="M1274.6 2476.3L1277.1 2471.9M1274.6 2872.5L1277.1 2877.1" stroke="#0f0"/>
<path d="M1272.8 2474.5L1275.7 2471.4M1272.8 2874.1L1275.6 2877.4" stroke="#00f"/>
<path d="M1272.9 2477.7L1275.5 2473.7M1272.9 2870.9L1275.5 2875.1" stroke="#f00"/>
<path d="M1273 2479.2L1275.5 2474.8M1273 2869.4L1275.5 2874" stroke="#0f0"/>
<path d="M1271.2 2476.3L1274 2473.2M1271.2 2872.2L1274 2875.5" stroke="#00f"/>
<path d="M1271.3 2480.3L1273.9 2476.2M1271.3 2868.2L1273.9 2872.5" stroke="#f00"/>
<path d="M1271.3 2482.1L1273.9 2477.7M1271.4 2866.4L1273.8 2871" stroke="#0f0"/>
<path d="M1269.5 2478.1L1272.4 2475M1269.6 2870.3L1272.4 2873.6" stroke="#00f"/>
<path d="M1269.7 2482.9L1272.3 2478.8M1269.7 2865.5L1272.2 2869.8" stroke="#f00"/>
<path d="M1269.7 2485L1272.2 2480.6M1269.7 2863.4L1272.2 2868" stroke="#0f0"/>
<path d="M1267.9 2479.9L1270.8 2476.7M1267.9 2868.4L1270.7 2871.7" stroke="#00f"/>
<path d="M1268 2485.5L1270.6 2481.4M1268 2862.8L1270.6 2867.1" stroke="#f00"/>
<path d="M1268.1 2487.9L1270.6 2483.5M1268.1 2860.3L1270.6 2865" stroke="#0f0"/>
<path d="M1266.3 2481.6L1269.1 2478.5M1266.3 2866.5L1269.1 2869.8" stroke="#00f"/>
<path d="M1266.4 2488.1L1269 2484M1266.4 2860L1269 2864.3" stroke="#f00"/>
<path d="M1266.4 2490.8L1269 2486.4M1266.4 2857.3L1268.9 2861.9" stroke="#0f0"/>
<path d="M1264.6 2483.5L1267.5 2480.3M1264.7 2864.5L1267.5 2867.9" stroke="#00f"/>
<path d="M1264.8 2490.7L1267.4 2486.6M1264.8 2857.3L1267.3 2861.6" stroke="#f00"/>
<path d="M1264.8 2493.7L1267.3 2489.3M1264.8 2854.3L1267.3 2858.9" stroke="#0f0"/>
<path d="M1267.5 1936.6L1087 2198.7L1035.5 2273.8L987.3 2344.7L943.1 2410.5L903.4 2470.5L868.5 2524.3L838 2572.5" stroke="#f00"/>
<path d="M1263 2485.3L1265.8 2482.1M1263 2862.6L1265.8 2865.9" stroke="#00f"/>
<path d="M1263.1 2493.3L1265.7 2489.2M1263.1 2854.5L1265.7 2858.8" stroke="#f00"/>
<path d="M1263.2 2496.6L1265.7 2492.2M1263.2 2851.3L1265.7 2855.9" stroke="#0f0"/>
<path d="M1261.4 2487.1L1264.2 2483.9M1261.4 2860.6L1264.2 2864" stroke="#00f"/>
<path d="M1261.5 2496L1264.1 2491.8M1261.5 2851.8L1264.1 2856.1" stroke="#f00"/>
<path d="M1261.5 2499.5L1264 2495M1261.5 2848.3L1264 2852.9" stroke="#0f0"/>
<path d="M1259.7 2488.9L1262.6 2485.8M1259.8 2858.7L1262.5 2862" stroke="#00f"/>
<path d="M1259.9 2498.6L1262.4 2494.5M1259.9 2849L1262.4 2853.3" stroke="#f00"/>
<path d="M1259.9 2502.4L1262.4 2497.9M1259.9 2845.3L1262.4 2849.8" stroke="#0f0"/>
<path d="M1258.1 2490.8L1260.9 2487.6M1258.1 2856.7L1260.9 2860.1" stroke="#00f"/>
<path d="M1258.2 2501.3L1260.8 2497.1M1258.2 2846.2L1260.8 2850.5" stroke="#f00"/>
<path d="M1258.2 2505.2L1260.8 2500.8M1258.3 2842.2L1260.8 2846.8" stroke="#0f0"/>
<path d="M1256.5 2492.6L1259.3 2489.4M1256.5 2854.7L1259.3 2858.1" stroke="#00f"/>
<path d="M1256.6 2504L1259.2 2499.8M1256.6 2843.4L1259.1 2847.7" stroke="#f00"/>
<path d="M1256.6 2508.1L1259.1 2503.7M1256.6 2839.2L1259.1 2843.8" stroke="#0f0"/>
<path d="M1254.8 2494.5L1257.7 2491.3M1254.9 2852.7L1257.6 2856.1" stroke="#00f"/>
<path d="M1255 2506.7L1257.5 2502.4M1255 2840.6L1257.5 2844.9" stroke="#f00"/>
<path d="M1255 2511L1257.5 2506.5M1255 2836.3L1257.5 2840.8" stroke="#0f0"/>
<path d="M1253.2 2496.4L1256 2493.1M1253.2 2850.7L1256 2854.1" stroke="#00f"/>
<path d="M1253.3 2509.3L1255.9 2505.1M1253.3 2837.8L1255.9 2842.1" stroke="#f00"/>
<path d="M1253.3 2513.8L1255.9 2509.4M1253.4 2833.3L1255.9 2837.8" stroke="#0f0"/>
<path d="M1249.9 2500.1L1254.4 2495M1249.9 2846.7L1254.4 2852.1" stroke="#00f"/>
<path d="M1251.7 2512L1254.3 2507.8M1251.7 2834.9L1254.2 2839.3" stroke="#f00"/>
<path d="M1251.7 2516.7L1254.2 2512.3M1251.7 2830.3L1254.2 2834.8" stroke="#0f0"/>
<path d="M1250 2514.7L1252.6 2510.5M1250.1 2832.1L1252.6 2836.5" stroke="#f00"/>
<path d="M1250.1 2519.5L1252.6 2515.1M1250.1 2827.3L1252.6 2831.9" stroke="#0f0"/>
<path d="M1125.6 2656.6L1144.2 2633L1188.4 2576L1209.6 2549L1230.9 2522.7L1251.1 2498.8M1245 2840.6L1251.1 2848.1" stroke="#00f"/>
<path d="M1248.4 2517.4L1251 2513.2M1248.4 2829.3L1251 2833.7" stroke="#f00"/>
<path d="M1248.4 2522.4L1251 2518M1248.4 2824.4L1251 2828.9" stroke="#0f0"/>
<path d="M1246.8 2520.1L1249.3 2515.9M1246.8 2826.4L1249.3 2830.8" stroke="#f00"/>
<path d="M1246.8 2525.2L1249.3 2520.8M1246.8 2821.4L1249.3 2825.9" stroke="#0f0"/>
<path d="M1245.1 2522.8L1247.7 2518.6M1245.2 2823.6L1247.7 2828" stroke="#f00"/>
<path d="M1245.2 2528L1247.7 2523.6M1245.2 2818.5L1247.7 2823" stroke="#0f0"/>
<path d="M1127.3 2682.5L1145.8 2707.5L1186.7 2763.6L1206.3 2790.2L1227.6 2818.3L1246.2 2842" stroke="#00f"/>
<path d="M1243.5 2525.5L1246.1 2521.3M1243.5 2820.8L1246.1 2825.2" stroke="#f00"/>
<path d="M1243.5 2530.8L1246.1 2526.4M1243.5 2815.5L1246 2820" stroke="#0f0"/>
<path d="M1241.9 2528.2L1244.4 2524M1241.9 2817.9L1244.4 2822.3" stroke="#f00"/>
<path d="M1241.9 2533.6L1244.4 2529.2M1241.9 2812.6L1244.4 2817.1" stroke="#0f0"/>
<path d="M1240.2 2531L1242.8 2526.7M1240.3 2815.1L1242.8 2819.5" stroke="#f00"/>
<path d="M1240.2 2536.4L1242.8 2532M1240.3 2809.7L1242.8 2814.2" stroke="#0f0"/>
<path d="M1238.6 2533.7L1241.2 2529.4M1238.6 2812.3L1241.2 2816.7" stroke="#f00"/>
<path d="M1238.6 2539.1L1241.2 2534.8M1238.6 2806.8L1241.1 2811.3" stroke="#0f0"/>
<path d="M1237 2536.4L1239.5 2532.1M1237 2809.4L1239.5 2813.8" stroke="#f00"/>
<path d="M1237 2541.9L1239.5 2537.6M1237 2803.9L1239.5 2808.4" stroke="#0f0"/>
<path d="M1235.3 2539.1L1237.9 2534.8M1235.3 2806.6L1237.9 2811" stroke="#f00"/>
<path d="M1235.3 2544.6L1237.9 2540.3M1235.3 2801L1237.9 2805.5" stroke="#0f0"/>
<path d="M1233.7 2541.8L1236.3 2537.5M1233.7 2803.8L1236.2 2808.2" stroke="#f00"/>
<path d="M1233.7 2547.3L1236.3 2543.1M1233.7 2798.2L1236.2 2802.6" stroke="#0f0"/>
<path d="M1232.1 2544.4L1234.6 2540.2M1232.1 2800.9L1234.6 2805.3" stroke="#f00"/>
<path d="M1232.1 2550L1234.6 2545.8M1232.1 2795.3L1234.6 2799.7" stroke="#0f0"/>
<path d="M1230.4 2547.1L1233 2542.9M1230.4 2798.1L1233 2802.5" stroke="#f00"/>
<path d="M1230.4 2552.7L1233 2548.5M1230.4 2792.5L1233 2796.9" stroke="#0f0"/>
<path d="M1228.8 2549.8L1231.4 2545.6M1228.8 2795.3L1231.3 2799.7" stroke="#f00"/>
<path d="M1228.8 2555.4L1231.4 2551.2M1228.8 2789.7L1231.3 2794.1" stroke="#0f0"/>
<path d="M1227.1 2552.5L1229.7 2548.3M1227.2 2792.5L1229.7 2796.9" stroke="#f00"/>
<path d="M1227.1 2558.1L1229.7 2553.9M1227.2 2786.9L1229.7 2791.3" stroke="#0f0"/>
<path d="M1225.5 2555.1L1228.1 2550.9M1225.5 2789.7L1228.1 2794.1" stroke="#f00"/>
<path d="M1225.5 2560.7L1228.1 2556.5M1225.5 2784.2L1228.1 2788.5" stroke="#0f0"/>
<path d="M1223.9 2557.8L1226.5 2553.6M1223.9 2786.9L1226.4 2791.3" stroke="#f00"/>
<path d="M1223.9 2563.3L1226.5 2559.2M1223.9 2781.4L1226.4 2785.7" stroke="#0f0"/>
<path d="M1222.2 2560.4L1224.8 2556.3M1222.2 2784.2L1224.8 2788.5" stroke="#f00"/>
<path d="M1222.2 2566L1224.8 2561.8M1222.2 2778.7L1224.8 2782.9" stroke="#0f0"/>
<path d="M1220.6 2563.1L1223.2 2558.9M1220.6 2781.4L1223.2 2785.7" stroke="#f00"/>
<path d="M1220.6 2568.5L1223.2 2564.4M1220.6 2775.9L1223.2 2780.2" stroke="#0f0"/>
<path d="M1219 2565.7L1221.5 2561.5M1219 2778.7L1221.5 2783" stroke="#f00"/>
<path d="M1219 2571.1L1221.6 2567M1219 2773.2L1221.5 2777.5" stroke="#0f0"/>
<path d="M1217.3 2568.3L1219.9 2564.2M1217.3 2775.9L1219.9 2780.2" stroke="#f00"/>
<path d="M1217.3 2573.7L1219.9 2569.6M1217.3 2770.6L1219.9 2774.8" stroke="#0f0"/>
<path d="M1215.7 2570.9L1218.3 2566.8M1215.7 2773.2L1218.3 2777.5" stroke="#f00"/>
<path d="M1215.7 2576.2L1218.3 2572.1M1215.7 2767.9L1218.3 2772.1" stroke="#0f0"/>
<path d="M1214 2573.5L1216.6 2569.4M1214.1 2770.5L1216.6 2774.7" stroke="#f00"/>
<path d="M1214 2578.7L1216.7 2574.7M1214.1 2765.3L1216.6 2769.4" stroke="#0f0"/>
<path d="M1212.4 2576L1215 2571.9M1212.4 2767.8L1215 2772" stroke="#f00"/>
<path d="M1212.4 2581.2L1215 2577.2M1212.4 2762.7L1215 2766.8" stroke="#0f0"/>
<path d="M1210.8 2578.6L1213.4 2574.5M1210.8 2765.1L1213.4 2769.3" stroke="#f00"/>
<path d="M1210.8 2583.6L1213.4 2579.7M1210.8 2760.1L1213.4 2764.2" stroke="#0f0"/>
<path d="M1209.1 2581.1L1211.7 2577M1209.1 2762.5L1211.7 2766.7" stroke="#f00"/>
<path d="M1209.1 2586.1L1211.8 2582.1M1209.1 2757.5L1211.7 2761.6" stroke="#0f0"/>
<path d="M1207.5 2583.6L1210.1 2579.6M1207.5 2759.9L1210.1 2764" stroke="#f00"/>
<path d="M1207.5 2588.5L1210.1 2584.6M1207.5 2755L1210.1 2759" stroke="#0f0"/>
<path d="M1205.9 2586.1L1208.5 2582.1M1205.9 2757.2L1208.5 2761.4" stroke="#f00"/>
<path d="M1205.8 2590.8L1208.5 2587M1205.9 2752.5L1208.5 2756.5" stroke="#0f0"/>
<path d="M1204.2 2588.5L1206.8 2584.6M1204.2 2754.6L1206.8 2758.8" stroke="#f00"/>
<path d="M1204.2 2593.2L1206.9 2589.4M1204.2 2750L1206.8 2754" stroke="#0f0"/>
<path d="M1202.6 2591L1205.2 2587M1202.6 2752.1L1205.2 2756.2" stroke="#f00"/>
<path d="M1202.6 2595.5L1205.2 2591.7M1202.6 2747.5L1205.2 2751.5" stroke="#0f0"/>
<path d="M1200.9 2593.4L1203.6 2589.5M1201 2749.5L1203.6 2753.6" stroke="#f00"/>
<path d="M1200.9 2597.8L1203.6 2594.1M1200.9 2745.1L1203.6 2749" stroke="#0f0"/>
<path d="M1199.3 2595.8L1201.9 2591.9M1199.3 2747L1201.9 2751" stroke="#f00"/>
<path d="M1199.3 2600.1L1202 2596.4M1199.3 2742.7L1201.9 2746.6" stroke="#0f0"/>
<path d="M1197.7 2598.2L1200.3 2594.3M1197.7 2744.5L1200.3 2748.5" stroke="#f00"/>
<path d="M1197.6 2602.4L1200.3 2598.7M1197.7 2740.3L1200.3 2744.1" stroke="#0f0"/>
<path d="M1196 2600.5L1198.7 2596.7M1196 2742L1198.7 2746" stroke="#f00"/>
<path d="M1196 2604.6L1198.7 2600.9M1196 2737.9L1198.7 2741.8" stroke="#0f0"/>
<path d="M1194.4 2602.8L1197.1 2599M1194.4 2739.6L1197 2743.5" stroke="#f00"/>
<path d="M1194.4 2606.8L1197.1 2603.2M1194.4 2735.6L1197.1 2739.4" stroke="#0f0"/>
<path d="M1192.7 2605.1L1195.4 2601.4M1192.8 2737.1L1195.4 2741.1" stroke="#f00"/>
<path d="M1192.7 2609L1195.4 2605.4M1192.7 2733.3L1195.4 2737.1" stroke="#0f0"/>
<path d="M1191.1 2607.4L1193.8 2603.7M1191.1 2734.7L1193.8 2738.6" stroke="#f00"/>
<path d="M1191.1 2611.1L1193.8 2607.5M1191.1 2731L1193.8 2734.8" stroke="#0f0"/>
<path d="M1189.5 2609.6L1192.2 2605.9M1189.5 2732.4L1192.1 2736.2" stroke="#f00"/>
<path d="M1189.4 2613.2L1192.2 2609.7M1189.5 2728.8L1192.2 2732.5" stroke="#0f0"/>
<path d="M1187.8 2611.8L1190.5 2608.2M1187.8 2730L1190.5 2733.8" stroke="#f00"/>
<path d="M1187.8 2615.3L1190.5 2611.8M1187.8 2726.6L1190.5 2730.2" stroke="#0f0"/>
<path d="M849.8 2367.7L947.2 2246.4L1034 2138.6L1111.4 2043.1L1198.2 1936.6M1186.2 2614L1188.9 2610.4M1186.2 2727.7L1188.9 2731.5" stroke="#f00"/>
<path d="M1186.2 2617.3L1188.9 2613.9M1186.2 2724.4L1188.9 2728" stroke="#0f0"/>
<path d="M1184.5 2616.1L1187.3 2612.6M1184.6 2725.4L1187.2 2729.2" stroke="#f00"/>
<path d="M1184.5 2619.3L1187.3 2615.9M1184.5 2722.3L1187.3 2725.8" stroke="#0f0"/>
<path d="M1182.9 2618.3L1185.6 2614.7M1182.9 2723.2L1185.6 2726.9" stroke="#f00"/>
<path d="M1182.9 2621.3L1185.7 2617.9M1182.9 2720.2L1185.6 2723.7" stroke="#0f0"/>
<path d="M1181.3 2620.3L1184 2616.8M1181.3 2721L1184 2724.7" stroke="#f00"/>
<path d="M1181.2 2623.3L1184 2619.9M1181.3 2718.1L1184 2721.6" stroke="#0f0"/>
<path d="M1179.6 2622.4L1182.4 2618.9M1179.6 2718.8L1182.4 2722.4" stroke="#f00"/>
<path d="M1179.6 2625.2L1182.4 2621.9M1179.6 2716L1182.4 2719.5" stroke="#0f0"/>
<path d="M1178 2624.4L1180.7 2621M1178 2716.7L1180.7 2720.3" stroke="#f00"/>
<path d="M1178 2627.1L1180.8 2623.8M1178 2714L1180.7 2717.4" stroke="#0f0"/>
<path d="M1176.3 2626.4L1179.1 2623M1176.4 2714.6L1179.1 2718.1" stroke="#f00"/>
<path d="M1176.3 2628.9L1179.1 2625.7M1176.3 2712L1179.1 2715.4" stroke="#0f0"/>
<path d="M1174.7 2628.3L1177.5 2625M1174.7 2712.5L1177.5 2716" stroke="#f00"/>
<path d="M1174.7 2630.7L1177.5 2627.6M1174.7 2710.1L1177.5 2713.4" stroke="#0f0"/>
<path d="M1173 2630.2L1175.9 2626.9M1173.1 2710.5L1175.8 2713.9" stroke="#f00"/>
<path d="M1173 2632.5L1175.9 2629.4M1173 2708.2L1175.9 2711.5" stroke="#0f0"/>
<path d="M1171.4 2632.1L1174.2 2628.9M1171.4 2708.5L1174.2 2711.9" stroke="#f00"/>
<path d="M1171.4 2634.2L1174.2 2631.2M1171.4 2706.3L1174.2 2709.6" stroke="#0f0"/>
<path d="M1169.8 2633.9L1172.6 2630.7M1169.8 2706.5L1172.6 2709.8" stroke="#f00"/>
<path d="M1169.7 2635.9L1172.6 2632.9M1169.8 2704.5L1172.6 2707.7" stroke="#0f0"/>
<path d="M1168.1 2635.7L1171 2632.6M1168.1 2704.6L1170.9 2707.9" stroke="#f00"/>
<path d="M1168.1 2637.6L1171 2634.6M1168.1 2702.7L1171 2705.8" stroke="#0f0"/>
<path d="M1166.5 2637.5L1169.3 2634.4M1166.5 2702.7L1169.3 2705.9" stroke="#f00"/>
<path d="M1166.5 2639.2L1169.4 2636.3M1166.5 2700.9L1169.3 2704" stroke="#0f0"/>
<path d="M1164.8 2639.2L1167.7 2636.1M1164.9 2700.9L1167.7 2704.1" stroke="#f00"/>
<path d="M1164.8 2640.8L1167.7 2638M1164.8 2699.2L1167.7 2702.2" stroke="#0f0"/>
<path d="M1163.2 2640.8L1166.1 2637.9M1163.2 2699.1L1166.1 2702.2" stroke="#f00"/>
<path d="M1163.2 2642.4L1166.1 2639.6M1163.2 2697.5L1166.1 2700.5" stroke="#0f0"/>
<path d="M1161.5 2642.5L1164.5 2639.6M1161.6 2697.3L1164.4 2700.4" stroke="#f00"/>
<path d="M1161.5 2643.9L1164.5 2641.1M1161.5 2695.9L1164.5 2698.8" stroke="#0f0"/>
<path d="M1159.9 2644L1162.8 2641.2M1159.9 2695.6L1162.8 2698.6" stroke="#f00"/>
<path d="M1159.9 2645.4L1162.8 2642.7M1159.9 2694.3L1162.8 2697.1" stroke="#0f0"/>
<path d="M1158.3 2645.6L1161.2 2642.8M1158.3 2693.9L1161.2 2696.9" stroke="#f00"/>
<path d="M1158.2 2646.8L1161.2 2644.2M1158.3 2692.7L1161.2 2695.5" stroke="#0f0"/>
<path d="M1156.6 2647.1L1159.6 2644.4M1156.6 2692.3L1159.5 2695.2" stroke="#f00"/>
<path d="M1156.6 2648.2L1159.6 2645.6M1156.6 2691.2L1159.6 2693.9" stroke="#0f0"/>
<path d="M1155 2648.5L1157.9 2645.9M1155 2690.7L1157.9 2693.5" stroke="#f00"/>
<path d="M1154.9 2649.5L1158 2647M1155 2689.7L1157.9 2692.4" stroke="#0f0"/>
<path d="M1153.3 2649.9L1156.3 2647.4M1153.4 2689.1L1156.3 2691.9" stroke="#f00"/>
<path d="M1153.3 2650.9L1156.3 2648.4M1153.3 2688.2L1156.3 2690.9" stroke="#0f0"/>
<path d="M1151.7 2651.3L1154.7 2648.8M1151.7 2687.7L1154.7 2690.4" stroke="#f00"/>
<path d="M1151.7 2652.1L1154.7 2649.7M1151.7 2686.8L1154.7 2689.4" stroke="#0f0"/>
<path d="M1150 2652.6L1153.1 2650.2M1150.1 2686.2L1153 2688.9" stroke="#f00"/>
<path d="M1150 2653.4L1153.1 2651M1150 2685.5L1153.1 2688" stroke="#0f0"/>
<path d="M1148.4 2653.9L1151.4 2651.5M1148.4 2684.8L1151.4 2687.4" stroke="#f00"/>
<path d="M1148.4 2654.6L1151.5 2652.3M1148.4 2684.1L1151.4 2686.6" stroke="#0f0"/>
<path d="M1146.7 2655.1L1149.8 2652.8M1146.8 2683.4L1149.8 2686" stroke="#f00"/>
<path d="M1146.7 2655.7L1149.8 2653.5M1146.8 2682.9L1149.8 2685.3" stroke="#0f0"/>
<path d="M1145.1 2656.3L1148.2 2654.1M1145.1 2682.1L1148.2 2684.6" stroke="#f00"/>
<path d="M1145.1 2656.8L1148.2 2654.7M1145.1 2681.6L1148.2 2684" stroke="#0f0"/>
<path d="M1143.5 2657.4L1146.6 2655.3M1143.5 2680.9L1146.5 2683.3" stroke="#f00"/>
<path d="M1143.4 2657.9L1146.6 2655.8M1143.5 2680.4L1146.5 2682.7" stroke="#0f0"/>
<path d="M1141.8 2658.5L1144.9 2656.4M1141.8 2679.7L1144.9 2682" stroke="#f00"/>
<path d="M1141.8 2658.9L1144.9 2656.9M1141.8 2679.3L1144.9 2681.5" stroke="#0f0"/>
<path d="M1140.2 2659.5L1143.3 2657.5M1140.2 2678.5L1143.3 2680.7" stroke="#f00"/>
<path d="M1140.1 2659.9L1143.3 2658M1140.2 2678.2L1143.3 2680.3" stroke="#0f0"/>
<path d="M1138.5 2660.5L1141.7 2658.6M1138.5 2677.4L1141.7 2679.5" stroke="#f00"/>
<path d="M1138.5 2660.8L1141.7 2659M1138.5 2677.1L1141.7 2679.2" stroke="#0f0"/>
<path d="M1136.9 2661.4L1140.1 2659.6M1136.9 2676.3L1140 2678.4" stroke="#f00"/>
<path d="M1136.9 2661.7L1140.1 2659.9M1136.9 2676.1L1140 2678.1" stroke="#0f0"/>
<path d="M1135.2 2662.3L1138.4 2660.6M1135.2 2675.3L1138.4 2677.3" stroke="#f00"/>
<path d="M1135.2 2662.5L1138.4 2660.8M1135.2 2675.1L1138.4 2677" stroke="#0f0"/>
<path d="M1133.6 2663.1L1136.8 2661.5M1133.6 2674.4L1136.8 2676.3" stroke="#f00"/>
<path d="M1133.6 2663.3L1136.8 2661.7M1133.6 2674.2L1136.8 2676" stroke="#0f0"/>
<path d="M1131.9 2663.9L1135.2 2662.3M1132 2673.5L1135.2 2675.3" stroke="#f00"/>
<path d="M1131.9 2664L1135.2 2662.5M1131.9 2673.3L1135.2 2675.1" stroke="#0f0"/>
<path d="M1163.8 1936.6L951.5 2216.9L812.2 2401M1130.3 2664.6L1133.6 2663.2M1130.3 2672.6L1133.5 2674.3" stroke="#f00"/>
<path d="M1130.3 2664.7L1133.6 2663.3M1130.3 2672.5L1133.5 2674.2" stroke="#0f0"/>
<path d="M1128.6 2665.3L1131.9 2663.9M1128.7 2671.8L1131.9 2673.4" stroke="#f00"/>
<path d="M1128.6 2665.4L1131.9 2664M1128.7 2671.8L1131.9 2673.3" stroke="#0f0"/>
<path d="M1127 2665.9L1130.3 2664.6M1127 2671.1L1130.3 2672.6" stroke="#f00"/>
<path d="M1127 2665.9L1130.3 2664.7M1127 2671L1130.3 2672.5" stroke="#0f0"/>
<path d="M1125.7 2680.3L1128.4 2683.9" stroke="#00f"/>
<path d="M1125.3 2666.4L1128.7 2665.3M1125.4 2670.4L1128.7 2671.8" stroke="#f00"/>
<path d="M1125.3 2666.5L1128.7 2665.3M1125.4 2670.4L1128.7 2671.8" stroke="#0f0"/>
<path d="M1124 2658.6L1126.8 2655.2M1124 2678.1L1126.7 2681.8" stroke="#00f"/>
<path d="M1123.7 2666.9L1127.1 2665.9M1123.7 2669.8L1127 2671.1" stroke="#f00"/>
<path d="M1123.7 2666.9L1127.1 2665.9M1123.7 2669.8L1127 2671" stroke="#0f0"/>
<path d="M1122.4 2660.7L1125.1 2657.2M1122.4 2676L1125.1 2679.6" stroke="#00f"/>
<path d="M1122.1 2667.3L1125.4 2666.4M1122.1 2669.3L1125.4 2670.4" stroke="#f00"/>
<path d="M1122.1 2667.3L1125.4 2666.4M1122.1 2669.2L1125.4 2670.4" stroke="#0f0"/>
<path d="M1120.7 2662.7L1123.5 2659.3M1120.7 2673.8L1123.5 2677.4" stroke="#00f"/>
<path d="M1120.4 2667.7L1123.8 2666.9M1120.4 2668.8L1123.8 2669.8" stroke="#f00"/>
<path d="M1120.4 2667.7L1123.8 2666.9M1120.4 2668.8L1123.8 2669.8" stroke="#0f0"/>
<path d="M1119.1 2664.7L1121.9 2661.3M1119.1 2671.6L1121.8 2675.2" stroke="#00f"/>
<path d="M1118.8 2667.9L1122.2 2667.3M1118.8 2668.4L1122.2 2669.3" stroke="#f00"/>
<path d="M1118.8 2667.9L1122.2 2667.3M1118.8 2668.4L1122.2 2669.3" stroke="#0f0"/>
<path d="M1117.4 2666.7L1120.2 2663.3M1117.5 2669.5L1120.2 2673.1" stroke="#00f"/>
<path d="M1117.1 2668.1L1120.5 2667.6M1117.1 2668.1L1120.5 2668.8" stroke="#f00"/>
<path d="M1117.1 2668.1L1120.5 2667.7M1117.1 2668.1L1120.5 2668.8" stroke="#0f0"/>
<path d="M1115.8 2668.8L1118.6 2665.3M1115.8 2667.3L1118.6 2670.9" stroke="#00f"/>
<path d="M1115.5 2668.1L1118.9 2667.9M1115.5 2667.9L1118.9 2668.4" stroke="#f00"/>
<path d="M1115.5 2668.1L1118.9 2667.9M1114 2667.8L1118.9 2668.4" stroke="#0f0"/>
<path d="M1114 2667.8L1117.3 2668.2" stroke="#f00"/>
<path d="M1114.2 2670.8L1116.9 2667.4M1114.2 2665.2L1116.9 2668.8" stroke="#00f"/>
<path d="M1113.7 2668.2L1117.3 2668" stroke="#f00"/>
<path d="M1113.7 2668.2L1117.3 2668M1112.5 2667.4L1115.7 2668" stroke="#0f0"/>
<path d="M1112.5 2667.4L1115.7 2668" stroke="#f00"/>
<path d="M1112.5 2672.8L1115.3 2669.4M1112.6 2663.1L1115.3 2666.6" stroke="#00f"/>
<path d="M1111.9 2668.4L1115.5 2668" stroke="#f00"/>
<path d="M1111.9 2668.4L1115.5 2668M1111.1 2667L1114.3 2667.8" stroke="#0f0"/>
<path d="M1111.1 2667L1114.3 2667.8" stroke="#f00"/>
<path d="M1110.9 2674.8L1113.7 2671.4M1110.9 2661L1113.7 2664.5" stroke="#00f"/>
<path d="M1110.1 2668.6L1113.7 2668.2" stroke="#f00"/>
<path d="M1110.1 2668.6L1113.7 2668.2M1109.8 2666.5L1112.8 2667.5" stroke="#0f0"/>
<path d="M1109.7 2666.5L1112.8 2667.5" stroke="#f00"/>
<path d="M1109.3 2676.7L1112 2673.4M1109.3 2658.8L1112 2662.4" stroke="#00f"/>
<path d="M1108.2 2668.9L1111.9 2668.4" stroke="#f00"/>
<path d="M1108.2 2668.9L1111.8 2668.4M1108.4 2666L1111.5 2667.1" stroke="#0f0"/>
<path d="M1108.4 2666.1L1111.5 2667.1" stroke="#f00"/>
<path d="M1107.6 2678.7L1110.4 2675.4M1107.6 2656.7L1110.4 2660.3" stroke="#00f"/>
<path d="M1107.1 2665.5L1110.1 2666.6" stroke="#0f0"/>
<path d="M1107.1 2665.6L1110.1 2666.7M1106.2 2669.3L1110 2668.7" stroke="#f00"/>
<path d="M1106.2 2669.3L1109.9 2668.7" stroke="#0f0"/>
<path d="M834.5 2721.9L841.6 2730.6L849.7 2740.1L857.9 2748.8L866.1 2756.8L874.3 2764.1L882.5 2770.5L890.6 2776.2L897.2 2780.2L903.7 2783.6L911.9 2787.3L920.1 2790.1L928.3 2792.2L936.4 2793.5L944.6 2794L952.8 2793.8L961 2792.8L969.2 2791.1L977.3 2788.8L985.5 2785.7L993.7 2782.1L1001.9 2777.7L1010.1 2772.8L1018.2 2767.4L1028 2760.1L1036.2 2753.5L1046 2744.9L1055.9 2735.7L1065.7 2725.9L1075.5 2715.5L1086.9 2702.9L1096.8 2691.6L1108.8 2677.3M834.4 2591.7L841.6 2583.5L849.7 2574.7L857.9 2566.6L866.1 2559.3L874.3 2552.7L882.5 2546.9L890.6 2541.9L897.2 2538.4L903.7 2535.5L911.9 2532.5L920.1 2530.3L928.3 2528.9L936.4 2528.3L944.6 2528.4L952.8 2529.3L961 2530.9L969.2 2533.2L977.3 2536.2L985.5 2539.9L993.7 2544.3L1001.9 2549.2L1010.1 2554.8L1018.2 2560.9L1028 2569L1036.2 2576.3L1046 2585.6L1055.9 2595.6L1065.7 2606.2L1075.5 2617.3L1086.9 2630.9L1096.8 2642.9L1108.8 2658.1" stroke="#00f"/>
<path d="M1105.9 2665L1108.8 2666.2" stroke="#0f0"/>
<path d="M1105.8 2665.1L1108.8 2666.2M1104.3 2669.6L1108 2669" stroke="#f00"/>
<path d="M1104.3 2669.7L1108 2669M1104.6 2664.4L1107.5 2665.7" stroke="#0f0"/>
<path d="M1104.5 2664.5L1107.5 2665.7" stroke="#f00"/>
<path d="M1103.4 2663.9L1106.2 2665.2" stroke="#0f0"/>
<path d="M1103.3 2664L1106.2 2665.2M1102.3 2670L1106.1 2669.3" stroke="#f00"/>
<path d="M1102.3 2670L1106 2669.3M1102.1 2663.3L1105 2664.6" stroke="#0f0"/>
<path d="M1102 2663.4L1104.9 2664.7" stroke="#f00"/>
<path d="M1100.9 2662.7L1103.7 2664" stroke="#0f0"/>
<path d="M1100.3 2670.4L1104.1 2669.6M1100.8 2662.9L1103.7 2664.1" stroke="#f00"/>
<path d="M1100.3 2670.5L1104.1 2669.7M1099.7 2662L1102.5 2663.5" stroke="#0f0"/>
<path d="M1099.5 2662.3L1102.4 2663.6M1098.3 2670.8L1102.1 2670" stroke="#f00"/>
<path d="M1098.3 2670.9L1102 2670.1M1098.5 2661.4L1101.3 2662.9" stroke="#0f0"/>
<path d="M1098.3 2661.7L1101.1 2663" stroke="#f00"/>
<path d="M1097.3 2660.8L1100.1 2662.2" stroke="#0f0"/>
<path d="M1097 2661.1L1099.9 2662.5M1096.3 2671.2L1100.1 2670.4" stroke="#f00"/>
<path d="M1096.2 2671.4L1100 2670.5M1096.1 2660.1L1098.9 2661.6" stroke="#0f0"/>
<path d="M1095.8 2660.5L1098.7 2661.9" stroke="#f00"/>
<path d="M1094.9 2659.5L1097.7 2661" stroke="#0f0"/>
<path d="M1094.3 2671.6L1098.1 2670.8" stroke="#f00"/>
<path d="M1094.2 2671.8L1098 2671" stroke="#0f0"/>
<path d="M1094.5 2660L1097.4 2661.3" stroke="#f00"/>
<path d="M1093.7 2658.8L1096.5 2660.3" stroke="#0f0"/>
<path d="M1093.3 2659.4L1096.2 2660.7M1092.3 2672.1L1096.1 2671.3" stroke="#f00"/>
<path d="M1092.1 2672.3L1095.9 2671.4M1092.5 2658.2L1095.3 2659.7" stroke="#0f0"/>
<path d="M1092.1 2658.8L1094.9 2660.2" stroke="#f00"/>
<path d="M1091.4 2657.5L1094.1 2659.1" stroke="#0f0"/>
<path d="M1090.8 2658.3L1093.7 2659.6M1090.3 2672.5L1094.1 2671.7" stroke="#f00"/>
<path d="M1090.1 2672.8L1093.9 2671.9M1090.2 2656.9L1092.9 2658.4" stroke="#0f0"/>
<path d="M1089.6 2657.7L1092.5 2659" stroke="#f00"/>
<path d="M1089 2656.2L1091.8 2657.8" stroke="#0f0"/>
<path d="M1088.2 2673L1092 2672.1" stroke="#f00"/>
<path d="M1088 2673.3L1091.8 2672.4" stroke="#0f0"/>
<path d="M1088.3 2657.2L1091.2 2658.4" stroke="#f00"/>
<path d="M1087.8 2655.6L1090.6 2657.1" stroke="#0f0"/>
<path d="M1087 2656.6L1089.9 2657.9M1086.2 2673.4L1090 2672.6" stroke="#f00"/>
<path d="M1086.6 2655L1089.4 2656.5M1085.9 2673.8L1089.7 2672.9" stroke="#0f0"/>
<path d="M1085.7 2656.1L1088.7 2657.3" stroke="#f00"/>
<path d="M1085.4 2654.3L1088.2 2655.8" stroke="#0f0"/>
<path d="M1084.2 2673.9L1088 2673M1084.4 2655.6L1087.4 2656.8" stroke="#f00"/>
<path d="M1083.8 2674.3L1087.7 2673.4M1084.2 2653.7L1087 2655.2" stroke="#0f0"/>
<path d="M1083.1 2655.1L1086.1 2656.3" stroke="#f00"/>
<path d="M1083 2653.1L1085.8 2654.5" stroke="#0f0"/>
<path d="M1082.1 2674.3L1085.9 2673.5" stroke="#f00"/>
<path d="M1081.8 2674.8L1085.6 2673.9" stroke="#0f0"/>
<path d="M1081.8 2654.6L1084.8 2655.8" stroke="#f00"/>
<path d="M1081.8 2652.5L1084.6 2653.9" stroke="#0f0"/>
<path d="M1080.5 2654.2L1083.5 2655.3M1080.1 2674.7L1083.9 2673.9" stroke="#f00"/>
<path d="M1079.4 2651.3L1083.4 2653.3M1079.7 2675.4L1083.5 2674.4" stroke="#0f0"/>
<path d="M1079.2 2653.7L1082.2 2654.8M1078.1 2675.2L1081.9 2674.4" stroke="#f00"/>
<path d="M1078.1 2650.7L1081 2652.1M1077.6 2675.9L1081.4 2674.9" stroke="#0f0"/>
<path d="M1077.8 2653.3L1080.9 2654.3" stroke="#f00"/>
<path d="M1076.9 2650.1L1079.7 2651.5" stroke="#0f0"/>
<path d="M1076.5 2652.9L1079.5 2653.9M1076.1 2675.6L1079.9 2674.8" stroke="#f00"/>
<path d="M1075.5 2676.4L1079.3 2675.4M1075.6 2649.6L1078.5 2650.9" stroke="#0f0"/>
<path d="M1075.1 2652.5L1078.2 2653.4M1074.1 2676L1077.8 2675.2" stroke="#f00"/>
<path d="M1074.3 2649L1077.3 2650.3M1073.4 2676.9L1077.2 2676" stroke="#0f0"/>
<path d="M1073.7 2652.1L1076.8 2653" stroke="#f00"/>
<path d="M1073.1 2648.5L1076 2649.8" stroke="#0f0"/>
<path d="M1072.1 2676.4L1075.8 2675.7M1072.3 2651.8L1075.4 2652.6" stroke="#f00"/>
<path d="M1071.8 2648L1074.7 2649.2M1071.3 2677.4L1075.1 2676.5" stroke="#0f0"/>
<path d="M1070.9 2651.5L1074 2652.2" stroke="#f00"/>
<path d="M1070.5 2647.5L1073.5 2648.7" stroke="#0f0"/>
<path d="M1070.1 2676.8L1073.8 2676.1" stroke="#f00"/>
<path d="M1069.2 2677.9L1073.1 2677" stroke="#0f0"/>
<path d="M1069.4 2651.1L1072.6 2651.9" stroke="#f00"/>
<path d="M1069.2 2647L1072.2 2648.2" stroke="#0f0"/>
<path d="M1068.1 2677.2L1071.8 2676.5M1068 2650.9L1071.2 2651.5" stroke="#f00"/>
<path d="M1067.8 2646.6L1070.9 2647.7M1067.2 2678.4L1071 2677.5" stroke="#0f0"/>
<path d="M1066.5 2650.6L1069.7 2651.2" stroke="#f00"/>
<path d="M1065.2 2645.7L1069.5 2647.2" stroke="#0f0"/>
<path d="M1066.1 2677.6L1069.8 2676.9" stroke="#f00"/>
<path d="M1065.1 2678.9L1068.9 2678" stroke="#0f0"/>
<path d="M1065 2650.3L1068.3 2650.9M1064.1 2677.9L1067.9 2677.2" stroke="#f00"/>
<path d="M1063.8 2645.3L1066.9 2646.3" stroke="#0f0"/>
<path d="M1063.5 2650.1L1066.8 2650.6" stroke="#f00"/>
<path d="M1063 2679.4L1066.8 2678.5" stroke="#0f0"/>
<path d="M1062.2 2678.3L1065.9 2677.6" stroke="#f00"/>
<path d="M1062.4 2644.9L1065.5 2645.8" stroke="#0f0"/>
<path d="M1062 2649.9L1065.3 2650.4" stroke="#f00"/>
<path d="M1061 2679.9L1064.8 2679M1061 2644.6L1064.1 2645.4" stroke="#0f0"/>
<path d="M1060.4 2649.7L1063.8 2650.2M1060.2 2678.6L1064 2677.9" stroke="#f00"/>
<path d="M1059.6 2644.2L1062.8 2645M1058.9 2680.4L1062.7 2679.5" stroke="#0f0"/>
<path d="M1058.9 2649.6L1062.2 2650M1058.3 2678.9L1062 2678.3" stroke="#f00"/>
<path d="M1058.2 2643.9L1061.3 2644.6" stroke="#0f0"/>
<path d="M1057.3 2649.5L1060.7 2649.8" stroke="#f00"/>
<path d="M1056.8 2680.8L1060.6 2680M1056.7 2643.6L1059.9 2644.3" stroke="#0f0"/>
<path d="M1056.4 2679.2L1060.1 2678.6M1055.7 2649.4L1059.1 2649.6" stroke="#f00"/>
<path d="M1055.3 2643.3L1058.5 2644M1054.8 2681.3L1058.6 2680.5" stroke="#0f0"/>
<path d="M1054.5 2679.4L1058.2 2678.9M1054.1 2649.3L1057.5 2649.5" stroke="#f00"/>
<path d="M1053.8 2643L1057 2643.6M1052.8 2681.7L1056.6 2680.9" stroke="#0f0"/>
<path d="M1052.6 2679.7L1056.3 2679.2M1052.5 2649.2L1055.9 2649.4" stroke="#f00"/>
<path d="M1052.3 2642.8L1055.6 2643.4M1050.8 2682.2L1054.5 2681.4" stroke="#0f0"/>
<path d="M1048.9 2680.1L1054.4 2679.4M1050.8 2649.2L1054.3 2649.3" stroke="#f00"/>
<path d="M1049.3 2642.4L1054.1 2643.1" stroke="#0f0"/>
<path d="M1049.2 2649.2L1052.6 2649.2" stroke="#f00"/>
<path d="M1048.7 2682.6L1052.5 2681.8M1047.7 2642.2L1051 2642.6" stroke="#0f0"/>
<path d="M1047.5 2649.2L1051 2649.2M1047.1 2680.3L1050.7 2679.9" stroke="#f00"/>
<path d="M1046.7 2683L1050.5 2682.2M1046.1 2642.1L1049.5 2642.4" stroke="#0f0"/>
<path d="M1045.8 2649.2L1049.3 2649.2M1045.2 2680.5L1048.8 2680.1" stroke="#f00"/>
<path d="M1044.8 2683.4L1048.5 2682.6M1044.6 2642L1047.9 2642.3" stroke="#0f0"/>
<path d="M1044.1 2649.3L1047.6 2649.2M1043.4 2680.6L1047 2680.3" stroke="#f00"/>
<path d="M1043 2641.9L1046.4 2642.1M1042.8 2683.7L1046.5 2683" stroke="#0f0"/>
<path d="M1042.3 2649.3L1045.9 2649.2M1041.6 2680.7L1045.2 2680.5" stroke="#f00"/>
<path d="M1041.3 2641.8L1044.8 2642M1040.8 2684.1L1044.5 2683.4" stroke="#0f0"/>
<path d="M1040.6 2649.4L1044.1 2649.3M1039.9 2680.8L1043.4 2680.6" stroke="#f00"/>
<path d="M1039.7 2641.8L1043.1 2641.9M1038.9 2684.4L1042.6 2683.8" stroke="#0f0"/>
<path d="M1038.8 2649.5L1042.4 2649.3M1038.1 2680.9L1041.7 2680.7" stroke="#f00"/>
<path d="M1038 2641.7L1041.5 2641.8" stroke="#0f0"/>
<path d="M1037 2649.7L1040.6 2649.4" stroke="#f00"/>
<path d="M1036.9 2684.7L1040.6 2684.1" stroke="#0f0"/>
<path d="M1036.4 2680.9L1039.9 2680.8" stroke="#f00"/>
<path d="M1036.4 2641.7L1039.8 2641.8" stroke="#0f0"/>
<path d="M1035.2 2649.8L1038.8 2649.5" stroke="#f00"/>
<path d="M1035 2685L1038.7 2684.4" stroke="#0f0"/>
<path d="M1034.7 2681L1038.2 2680.9" stroke="#f00"/>
<path d="M1034.7 2641.8L1038.2 2641.7" stroke="#0f0"/>
<path d="M1033.4 2650L1037 2649.7" stroke="#f00"/>
<path d="M1033.1 2685.3L1036.8 2684.8" stroke="#0f0"/>
<path d="M1031.3 2680.9L1036.5 2680.9" stroke="#f00"/>
<path d="M1033 2641.8L1036.5 2641.7" stroke="#0f0"/>
<path d="M1031.6 2650.2L1035.2 2649.8" stroke="#f00"/>
<path d="M1031.2 2685.6L1034.9 2685.1M1031.2 2641.9L1034.8 2641.8" stroke="#0f0"/>
<path d="M1029.7 2650.4L1033.3 2650M1029.6 2680.9L1033.1 2681" stroke="#f00"/>
<path d="M1029.5 2642L1033 2641.8M1029.3 2685.8L1033 2685.3" stroke="#0f0"/>
<path d="M1028 2680.8L1031.4 2680.9M1027.8 2650.7L1031.5 2650.2" stroke="#f00"/>
<path d="M1027.7 2642.1L1031.3 2641.9M1027.4 2686L1031.1 2685.6" stroke="#0f0"/>
<path d="M1026.4 2680.7L1029.8 2680.9M1026 2650.9L1029.6 2650.4" stroke="#f00"/>
<path d="M1025.9 2642.3L1029.5 2642M1025.6 2686.2L1029.2 2685.8" stroke="#0f0"/>
<path d="M1024.8 2680.6L1028.2 2680.8M1024.1 2651.2L1027.8 2650.7" stroke="#f00"/>
<path d="M1022.2 2642.6L1027.7 2642.1M1023.8 2686.4L1027.4 2686" stroke="#0f0"/>
<path d="M1023.2 2680.5L1026.6 2680.7M1022.2 2651.5L1025.9 2650.9" stroke="#f00"/>
<path d="M1021.9 2686.6L1025.6 2686.2" stroke="#0f0"/>
<path d="M1021.6 2680.3L1025 2680.6" stroke="#f00"/>
<path d="M1020.4 2642.9L1024 2642.5" stroke="#0f0"/>
<path d="M1020.3 2651.8L1024 2651.2" stroke="#f00"/>
<path d="M1020.1 2686.7L1023.7 2686.4" stroke="#0f0"/>
<path d="M1018.5 2679.9L1023.4 2680.5" stroke="#f00"/>
<path d="M1018.5 2643.1L1022.2 2642.7" stroke="#0f0"/>
<path d="M1018.4 2652.1L1022.1 2651.5" stroke="#f00"/>
<path d="M1018.4 2686.8L1021.9 2686.6" stroke="#0f0"/>
<path d="M1017 2679.7L1020.3 2680.1" stroke="#f00"/>
<path d="M1016.6 2643.4L1020.3 2642.9M1016.6 2686.9L1020.2 2686.7" stroke="#0f0"/>
<path d="M1016.4 2652.4L1020.1 2651.8M1015.5 2679.4L1018.8 2679.9" stroke="#f00"/>
<path d="M1014.9 2687L1018.4 2686.8M1014.7 2643.7L1018.4 2643.1" stroke="#0f0"/>
<path d="M1014.5 2652.7L1018.2 2652.1M1014 2679.1L1017.3 2679.7" stroke="#f00"/>
<path d="M1013.1 2687L1016.7 2686.9M1012.8 2644L1016.5 2643.4" stroke="#0f0"/>
<path d="M1012.5 2653.1L1016.3 2652.4M1012.6 2678.9L1015.8 2679.5" stroke="#f00"/>
<path d="M1011.4 2687L1014.9 2687" stroke="#0f0"/>
<path d="M1011.1 2678.5L1014.3 2679.2" stroke="#f00"/>
<path d="M1010.8 2644.4L1014.6 2643.7" stroke="#0f0"/>
<path d="M1010.6 2653.4L1014.3 2652.8" stroke="#f00"/>
<path d="M1009.7 2687L1013.2 2687" stroke="#0f0"/>
<path d="M1008.3 2677.9L1012.9 2678.9" stroke="#f00"/>
<path d="M1008.9 2644.8L1012.6 2644.1" stroke="#0f0"/>
<path d="M1008.6 2653.8L1012.3 2653.1" stroke="#f00"/>
<path d="M1008.1 2687L1011.5 2687M1006.9 2645.2L1010.6 2644.4" stroke="#0f0"/>
<path d="M1006.6 2654.2L1010.4 2653.5M1006.8 2677.5L1010 2678.3" stroke="#f00"/>
<path d="M1006.4 2686.9L1009.9 2687" stroke="#0f0"/>
<path d="M980.5 2667.9L996.9 2674.3L1002.2 2676.1L1008.6 2677.9" stroke="#f00"/>
<path d="M1004.9 2645.6L1008.6 2644.8" stroke="#0f0"/>
<path d="M1004.7 2654.5L1008.4 2653.8" stroke="#f00"/>
<path d="M964.9 2672.8L970 2676.3L974.7 2679L979.6 2681.3L984.9 2683.3L990.4 2684.8L996.3 2685.9L1002.5 2686.7L1008.2 2687M1002.9 2646L1006.6 2645.2" stroke="#0f0"/>
<path d="M1002.7 2654.9L1006.4 2654.2" stroke="#f00"/>
<path d="M1000.8 2646.5L1004.6 2645.6" stroke="#0f0"/>
<path d="M1000.7 2655.3L1004.5 2654.6" stroke="#f00"/>
<path d="M998.8 2647L1002.6 2646.1" stroke="#0f0"/>
<path d="M996.7 2656.1L1002.5 2655" stroke="#f00"/>
<path d="M996.7 2647.5L1000.5 2646.6" stroke="#0f0"/>
<path d="M994.8 2656.5L998.5 2655.7" stroke="#f00"/>
<path d="M994.6 2648L998.4 2647.1" stroke="#0f0"/>
<path d="M992.8 2656.8L996.5 2656.1" stroke="#f00"/>
<path d="M992.5 2648.6L996.3 2647.6" stroke="#0f0"/>
<path d="M990.8 2657.2L994.5 2656.5" stroke="#f00"/>
<path d="M990.3 2649.2L994.2 2648.1" stroke="#0f0"/>
<path d="M988.8 2657.6L992.6 2656.9" stroke="#f00"/>
<path d="M988.2 2649.8L992.1 2648.7" stroke="#0f0"/>
<path d="M986.9 2658L990.6 2657.3" stroke="#f00"/>
<path d="M986 2650.4L989.9 2649.3" stroke="#0f0"/>
<path d="M984.9 2658.3L988.6 2657.6" stroke="#f00"/>
<path d="M983.9 2651L987.8 2649.9" stroke="#0f0"/>
<path d="M982.9 2658.7L986.7 2658" stroke="#f00"/>
<path d="M981.7 2651.7L985.6 2650.5" stroke="#0f0"/>
<path d="M981 2659L984.7 2658.3" stroke="#f00"/>
<path d="M979.5 2652.4L983.4 2651.2" stroke="#0f0"/>
<path d="M979 2659.3L982.7 2658.7M977.9 2666.9L982.2 2668.6" stroke="#f00"/>
<path d="M977.2 2653.1L981.2 2651.9" stroke="#0f0"/>
<path d="M977.1 2659.6L980.8 2659M976.6 2666.5L979.6 2667.6M975.2 2659.9L978.9 2659.3" stroke="#f00"/>
<path d="M975 2653.8L978.9 2652.5" stroke="#0f0"/>
<path d="M973.9 2665.5L978.3 2667.1M973.3 2660.2L977 2659.6" stroke="#f00"/>
<path d="M972.7 2654.5L976.7 2653.3" stroke="#0f0"/>
<path d="M972.6 2665.1L975.6 2666.1M971.4 2660.4L975.1 2659.9M969.8 2664.3L974.3 2665.7" stroke="#f00"/>
<path d="M970.5 2655.3L974.5 2654" stroke="#0f0"/>
<path d="M969.5 2660.7L973.2 2660.2" stroke="#f00"/>
<path d="M968.2 2656.1L972.2 2654.7" stroke="#0f0"/>
<path d="M968.4 2663.9L971.6 2664.8M967.7 2660.9L971.3 2660.5M967 2663.6L970.2 2664.4" stroke="#f00"/>
<path d="M965.9 2656.8L969.9 2655.5" stroke="#0f0"/>
<path d="M965.8 2661.1L969.4 2660.7M965.6 2663.2L968.8 2664M964 2661.2L967.6 2660.9M964.2 2662.9L967.4 2663.6" stroke="#f00"/>
<path d="M963.6 2657.6L967.6 2656.3M963.8 2671.9L966.3 2673.8" stroke="#0f0"/>
<path d="M962.7 2662.6L965.9 2663.3" stroke="#f00"/>
<path d="M961.8 2670.2L965.3 2673" stroke="#0f0"/>
<path d="M962.2 2661.4L965.8 2661.1" stroke="#f00"/>
<path d="M961.3 2658.5L965.3 2657" stroke="#0f0"/>
<path d="M961.3 2662.4L964.5 2663M960.4 2661.5L964 2661.2" stroke="#f00"/>
<path d="M960.8 2669.4L963.2 2671.4" stroke="#0f0"/>
<path d="M959.8 2662.1L963 2662.7" stroke="#f00"/>
<path d="M959 2659.3L963 2657.9M959.8 2668.5L962.1 2670.5" stroke="#0f0"/>
<path d="M958.7 2661.5L962.2 2661.4" stroke="#f00"/>
<path d="M958.8 2667.6L961.1 2669.7" stroke="#0f0"/>
<path d="M958.2 2661.9L961.5 2662.4" stroke="#f00"/>
<path d="M957.8 2666.7L960.1 2668.8" stroke="#0f0"/>
<path d="M956.9 2661.6L960.5 2661.5" stroke="#f00"/>
<path d="M956.6 2660.1L960.7 2658.7" stroke="#0f0"/>
<path d="M956.7 2661.8L960 2662.2" stroke="#f00"/>
<path d="M955.9 2664.8L959.1 2667.9" stroke="#0f0"/>
<path d="M955.2 2661.6L958.7 2661.5M955.1 2661.6L958.5 2662" stroke="#f00"/>
<path d="M954.3 2661L958.3 2659.5M955 2663.8L957.2 2666" stroke="#0f0"/>
<path d="M953.6 2661.6L957 2661.6M953.5 2661.5L956.9 2661.8" stroke="#f00"/>
<path d="M953.1 2661.9L956.2 2665.1M952 2661.8L956 2660.4" stroke="#0f0"/>
<path d="M951.9 2661.5L955.3 2661.6M951.9 2661.5L955.3 2661.7" stroke="#f00"/>
<path d="M951.3 2659.9L954.3 2663.2" stroke="#0f0"/>
<path d="M950.3 2661.4L953.7 2661.6M950.2 2661.4L953.7 2661.5" stroke="#f00"/>
<path d="M949.6 2662.7L953.6 2661.2M949.5 2657.8L952.5 2661.2" stroke="#0f0"/>
<path d="M948.7 2661.2L952.1 2661.5M948.6 2661.5L952 2661.5" stroke="#f00"/>
<path d="M948.6 2656.8L950.7 2659.2M947.2 2663.6L951.3 2662.1" stroke="#0f0"/>
<path d="M947.1 2661.1L950.5 2661.4" stroke="#f00"/>
<path d="M947.7 2655.7L949.8 2658.1" stroke="#0f0"/>
<path d="M946.9 2661.5L950.4 2661.4" stroke="#f00"/>
<path d="M946.9 2654.7L948.9 2657.1" stroke="#0f0"/>
<path d="M945.6 2660.8L948.9 2661.3" stroke="#f00"/>
<path d="M946 2653.6L948 2656.1" stroke="#0f0"/>
<path d="M945.1 2661.6L948.7 2661.5" stroke="#f00"/>
<path d="M944.9 2664.5L948.9 2663M945.1 2652.6L947.1 2655" stroke="#0f0"/>
<path d="M944.1 2660.6L947.4 2661.1" stroke="#f00"/>
<path d="M943.4 2650.5L946.3 2654" stroke="#0f0"/>
<path d="M943.3 2661.7L946.9 2661.5" stroke="#f00"/>
<path d="M942.5 2665.4L946.5 2663.8" stroke="#0f0"/>
<path d="M942.7 2660.2L945.9 2660.9" stroke="#f00"/>
<path d="M917.9 2624.5L924 2629.1L929.8 2634.6L936.1 2641.7L944.5 2651.9" stroke="#0f0"/>
<path d="M941.5 2661.9L945.1 2661.6M941.2 2659.9L944.4 2660.6" stroke="#f00"/>
<path d="M940.1 2666.3L944.2 2664.7" stroke="#0f0"/>
<path d="M939.7 2662.1L943.3 2661.7M938.5 2659L943 2660.3" stroke="#f00"/>
<path d="M937.7 2667.2L941.8 2665.6" stroke="#0f0"/>
<path d="M937.8 2662.4L941.5 2661.9M937.2 2658.5L940.2 2659.6M935.9 2662.7L939.6 2662.2M935.9 2657.9L938.9 2659.1" stroke="#f00"/>
<path d="M935.3 2668.1L939.4 2666.5" stroke="#0f0"/>
<path d="M934.7 2657.3L937.6 2658.6M933.9 2663.1L937.7 2662.4" stroke="#f00"/>
<path d="M932.9 2669L937 2667.5" stroke="#0f0"/>
<path d="M933.5 2656.6L936.3 2658.1M932 2663.5L935.7 2662.8M931.3 2655.2L935.1 2657.5" stroke="#f00"/>
<path d="M930.5 2670L934.6 2668.4" stroke="#0f0"/>
<path d="M929.9 2664L933.7 2663.1M917.9 2629.2L918.8 2633.5L920.2 2638.3L921.8 2642.7L923.1 2645.4L925.4 2649.1L927.1 2651.2L929.9 2654L932.8 2656.2" stroke="#f00"/>
<path d="M928.1 2670.9L932.2 2669.3" stroke="#0f0"/>
<path d="M927.9 2664.5L931.7 2663.6" stroke="#f00"/>
<path d="M925.7 2671.8L929.8 2670.2" stroke="#0f0"/>
<path d="M923.6 2665.7L929.6 2664.1" stroke="#f00"/>
<path d="M923.3 2672.8L927.4 2671.2" stroke="#0f0"/>
<path d="M921.4 2666.3L925.3 2665.2" stroke="#f00"/>
<path d="M920.9 2673.7L925 2672.1" stroke="#0f0"/>
<path d="M919.2 2667.1L923.1 2665.8" stroke="#f00"/>
<path d="M918.5 2674.6L922.5 2673" stroke="#0f0"/>
<path d="M916.9 2667.8L920.9 2666.5" stroke="#f00"/>
<path d="M916.8 2623.8L919.4 2625.5M916.1 2675.5L920.1 2674" stroke="#0f0"/>
<path d="M916.9 2621.9L918.3 2631" stroke="#f00"/>
<path d="M915.7 2623.1L918.3 2624.8" stroke="#0f0"/>
<path d="M815.9 2629L828.5 2617.3L844.6 2603.1L854.1 2595.2L866.6 2585.6L877.1 2578.5L880.2 2576.7L885.9 2573.7L888.5 2572.5L893.2 2570.8L895.3 2570.3L899 2569.8L900.7 2569.8L903.7 2570.4L905 2570.9L907.2 2572.3L908.2 2573.2L909.9 2575.3L911.3 2577.9L912.4 2580.8L913.7 2585.7L914.7 2593.1L916.3 2615L917.1 2623.7M914.6 2668.6L918.6 2667.2" stroke="#f00"/>
<path d="M812.2 2642.1L829.6 2633.4L839.9 2628.7L847.3 2625.7L854.4 2623L861.2 2620.9L867.6 2619.1L875.7 2617.4L881.3 2616.6L886.7 2616.2L891.7 2616.3L898 2616.9L902.4 2617.7L907.9 2619.4L912.9 2621.6L917.2 2624M913.6 2676.5L917.7 2674.9" stroke="#0f0"/>
<path d="M912.3 2669.5L916.3 2668" stroke="#f00"/>
<path d="M911.2 2677.4L915.3 2675.8" stroke="#0f0"/>
<path d="M909.9 2670.5L914 2668.9" stroke="#f00"/>
<path d="M908.8 2678.3L912.9 2676.7" stroke="#0f0"/>
<path d="M907.4 2671.4L911.5 2669.8" stroke="#f00"/>
<path d="M906.5 2679.2L910.5 2677.7" stroke="#0f0"/>
<path d="M905 2672.5L909.1 2670.8" stroke="#f00"/>
<path d="M904.1 2680.1L908.1 2678.6" stroke="#0f0"/>
<path d="M902.4 2673.6L906.6 2671.8" stroke="#f00"/>
<path d="M901.7 2681L905.7 2679.5" stroke="#0f0"/>
<path d="M899.9 2674.7L904.1 2672.8" stroke="#f00"/>
<path d="M899.3 2681.9L903.4 2680.4" stroke="#0f0"/>
<path d="M897.3 2675.9L901.5 2674" stroke="#f00"/>
<path d="M896.9 2682.8L901 2681.3" stroke="#0f0"/>
<path d="M894.6 2677.1L898.9 2675.1" stroke="#f00"/>
<path d="M892.2 2684.5L898.6 2682.2" stroke="#0f0"/>
<path d="M892 2678.4L896.3 2676.4" stroke="#f00"/>
<path d="M889.9 2685.3L893.9 2683.9" stroke="#0f0"/>
<path d="M889.2 2679.8L893.6 2677.7" stroke="#f00"/>
<path d="M887.6 2686.2L891.6 2684.7" stroke="#0f0"/>
<path d="M886.5 2681.2L890.9 2679" stroke="#f00"/>
<path d="M885.2 2687L889.3 2685.6" stroke="#0f0"/>
<path d="M883.7 2682.6L888.1 2680.4" stroke="#f00"/>
<path d="M882.9 2687.8L886.9 2686.4" stroke="#0f0"/>
<path d="M880.9 2684.1L885.3 2681.8" stroke="#f00"/>
<path d="M878.4 2689.3L884.6 2687.2" stroke="#0f0"/>
<path d="M878 2685.6L882.5 2683.3" stroke="#f00"/>
<path d="M876.1 2690.1L880.1 2688.8" stroke="#0f0"/>
<path d="M875.1 2687.2L879.6 2684.8" stroke="#f00"/>
<path d="M873.8 2690.8L877.8 2689.5" stroke="#0f0"/>
<path d="M872.2 2688.8L876.7 2686.3" stroke="#f00"/>
<path d="M871.6 2691.5L875.6 2690.2" stroke="#0f0"/>
<path d="M869.2 2690.4L873.8 2687.9" stroke="#f00"/>
<path d="M867.2 2692.8L873.3 2690.9" stroke="#0f0"/>
<path d="M866.2 2692.1L870.8 2689.6" stroke="#f00"/>
<path d="M865 2693.4L868.9 2692.3" stroke="#0f0"/>
<path d="M863.2 2693.9L867.8 2691.2" stroke="#f00"/>
<path d="M860.7 2694.6L866.7 2692.9" stroke="#0f0"/>
<path d="M860.2 2695.6L864.8 2693" stroke="#f00"/>
<path d="M858.6 2695.2L862.5 2694.1" stroke="#0f0"/>
<path d="M857.1 2697.4L861.8 2694.7" stroke="#f00"/>
<path d="M856.5 2695.7L860.3 2694.7" stroke="#0f0"/>
<path d="M854.1 2699.2L858.7 2696.5" stroke="#f00"/>
<path d="M852.4 2696.6L858.2 2695.2" stroke="#0f0"/>
<path d="M851 2701L855.6 2698.3" stroke="#f00"/>
<path d="M848.3 2697.4L854.1 2696.2" stroke="#0f0"/>
<path d="M847.8 2702.9L852.5 2700.1" stroke="#f00"/>
<path d="M846.4 2697.8L850.1 2697.1" stroke="#0f0"/>
<path d="M844.7 2704.7L849.4 2701.9" stroke="#f00"/>
<path d="M842.5 2698.4L848.1 2697.5" stroke="#0f0"/>
<path d="M841.6 2706.6L846.3 2703.8" stroke="#f00"/>
<path d="M840.6 2698.7L844.3 2698.2" stroke="#0f0"/>
<path d="M838.4 2708.5L843.1 2705.7" stroke="#f00"/>
<path d="M836.9 2699.1L842.4 2698.4" stroke="#0f0"/>
<path d="M832.1 2712.3L840 2707.6" stroke="#f00"/>
<path d="M823.3 2699L830.7 2699.4L838.7 2698.9" stroke="#0f0"/>
<path d="M839 2571L831.3 2583.3" stroke="#f00"/>
<path d="M831.2 2717.6L835.6 2723.3M827.9 2599.7L835.6 2590.4" stroke="#00f"/>
<path d="M829 2714.1L833.7 2711.3" stroke="#f00"/>
<path d="M827.9 2713.3L832.3 2719.1" stroke="#00f"/>
<path d="M832.3 2581.8L824.9 2593.8M825.8 2716L830.5 2713.2" stroke="#f00"/>
<path d="M824.7 2708.9L829 2714.8M821.4 2608.2L829 2598.3" stroke="#00f"/>
<path d="M822.7 2717.9L827.4 2715.1" stroke="#f00"/>
<path d="M823 2706.7L825.7 2710.4" stroke="#00f"/>
<path d="M797.6 2433L850.9 2366.3" stroke="#f00"/>
<path d="M821.7 2698.9L825.1 2699.2" stroke="#0f0"/>
<path d="M821.4 2704.4L824.1 2708.1" stroke="#00f"/>
<path d="M825.9 2592.2L818.9 2603.8M756.9 2732.8L757.1 2735.7L757.9 2738.9L758.6 2740.2L759.5 2741.3L760.5 2742.1L761.7 2742.8L764.5 2743.5L767.8 2743.6L771.6 2743L775.9 2741.9L780.5 2740.2L790.8 2735.6L805.1 2728.1L824.3 2717" stroke="#f00"/>
<path d="M820.2 2698.6L823.5 2699.1" stroke="#0f0"/>
<path d="M819.8 2702.1L822.5 2705.9M816.5 2614.7L822.5 2606.7" stroke="#00f"/>
<path d="M818.7 2698.3L822 2698.9" stroke="#0f0"/>
<path d="M818.1 2699.8L820.8 2703.6" stroke="#00f"/>
<path d="M817.3 2698L820.5 2698.7" stroke="#0f0"/>
<path d="M816.5 2697.4L819.2 2701.3" stroke="#00f"/>
<path d="M815.9 2697.6L819 2698.4" stroke="#0f0"/>
<path d="M819.8 2602.3L813.1 2613.4" stroke="#f00"/>
<path d="M814.9 2695.1L817.5 2698.9M813.2 2619.2L817.6 2613.3" stroke="#00f"/>
<path d="M813.2 2696.7L817.6 2698.1" stroke="#0f0"/>
<path d="M813.2 2692.7L815.9 2696.6" stroke="#00f"/>
<path d="M811.9 2696.2L814.9 2697.3" stroke="#0f0"/>
<path d="M809.5 2635.1L817.2 2627.8" stroke="#f00"/>
<path d="M811.6 2690.3L814.3 2694.2M810 2623.8L814.3 2617.8" stroke="#00f"/>
<path d="M810.6 2695.6L813.5 2696.9M806.4 2645.2L813.8 2641.3" stroke="#0f0"/>
<path d="M810 2687.8L812.6 2691.8" stroke="#00f"/>
<path d="M814 2611.9L807.6 2622.7" stroke="#f00"/>
<path d="M809.4 2695L812.2 2696.4" stroke="#0f0"/>
<path d="M808.4 2685.4L811 2689.3M806.7 2628.5L811 2622.3" stroke="#00f"/>
<path d="M807 2693.7L811 2695.8" stroke="#0f0"/>
<path d="M793.7 2662.3L802.3 2676.1L809.3 2686.9" stroke="#00f"/>
<path d="M792.2 2671.6L793.5 2675.5L795.3 2679.8L797.4 2683.6L799 2685.9L801.6 2689.1L803.5 2691L805.6 2692.6L808.6 2694.6" stroke="#0f0"/>
<path d="M802.8 2641.6L810.8 2633.9" stroke="#f00"/>
<path d="M805.1 2630.9L807.7 2627" stroke="#00f"/>
<path d="M800.5 2648.5L808 2644.4" stroke="#0f0"/>
<path d="M808.5 2621.1L802.5 2631.5" stroke="#f00"/>
<path d="M800.2 2638.1L806.1 2629.4" stroke="#00f"/>
<path d="M803.4 2630L797.6 2640M795.8 2648.4L804.1 2640.3" stroke="#f00"/>
<path d="M798.5 2640.6L801.2 2636.6" stroke="#00f"/>
<path d="M797.6 2650.2L802.1 2647.6" stroke="#0f0"/>
<path d="M796.9 2643.1L799.5 2639.1" stroke="#00f"/>
<path d="M794.5 2651.9L799.1 2649.3" stroke="#0f0"/>
<path d="M795.3 2645.6L797.9 2641.6" stroke="#00f"/>
<path d="M798.5 2638.4L793 2648.1" stroke="#f00"/>
<path d="M793.6 2648.1L796.3 2644.1" stroke="#00f"/>
<path d="M791.5 2653.6L796.1 2651" stroke="#0f0"/>
<path d="M792 2659.6L794.6 2663.8M792 2650.6L794.6 2646.6" stroke="#00f"/>
<path d="M788.6 2655.6L797.1 2647.2" stroke="#f00"/>
<path d="M791.4 2668.4L792.8 2673.4" stroke="#0f0"/>
<path d="M790.4 2656.9L793 2661.1M790.4 2653.2L793 2649.1" stroke="#00f"/>
<path d="M790.7 2665.1L791.8 2670.2" stroke="#0f0"/>
<path d="M793.9 2646.5L788.8 2655.8" stroke="#f00"/>
<path d="M788.4 2655.4L793.1 2652.7M789.8 2659.7L791 2666.8" stroke="#0f0"/>
<path d="M788.8 2654.2L791.3 2658.5M788.7 2655.7L791.3 2651.7" stroke="#00f"/>
<path d="M788.3 2631.4L788.4 2640.8L788.7 2649.1L789.2 2655L790 2661.5M741.8 2560.9L747.7 2558.3L754.6 2555.9L760.8 2554.5L766.1 2554.1L770.8 2554.7L774.7 2556.1L778.1 2558.3L780 2560.2L781.6 2562.4L783.7 2566.3L784.8 2569.2L785.8 2572.3L786.9 2577.4L787.8 2584.9L788.3 2593L788.5 2601.4L788.3 2633.2" stroke="#0f0"/>
<path d="M787.1 2651.5L789.7 2655.8M787.1 2658.3L789.7 2654.2" stroke="#00f"/>
<path d="M785.4 2657.2L790 2654.5" stroke="#0f0"/>
<path d="M789.7 2654.2L784.8 2663.1" stroke="#f00"/>
<path d="M785.5 2648.8L788 2653M785.5 2660.9L788.1 2656.8" stroke="#00f"/>
<path d="M781 2663.2L789.9 2654.3" stroke="#f00"/>
<path d="M741.4 2570.2L766.3 2615.5L776.1 2632.8L786.4 2650.3M783.8 2663.6L786.4 2659.4" stroke="#00f"/>
<path d="M782.2 2659.1L786.9 2656.3" stroke="#0f0"/>
<path d="M782.2 2666.2L784.8 2662" stroke="#00f"/>
<path d="M785.7 2661.5L781.1 2670" stroke="#f00"/>
<path d="M780.6 2668.9L783.1 2664.7" stroke="#00f"/>
<path d="M779.1 2661L783.8 2658.2" stroke="#0f0"/>
<path d="M778.9 2671.5L781.5 2667.3" stroke="#00f"/>
<path d="M813.3 2399.6L747.1 2487.3M782 2668.4L777.7 2676.6" stroke="#f00"/>
<path d="M777.3 2674.2L779.9 2670" stroke="#00f"/>
<path d="M776 2662.9L780.7 2660" stroke="#0f0"/>
<path d="M773.2 2671.1L782.3 2661.9" stroke="#f00"/>
<path d="M775.7 2676.9L778.2 2672.7" stroke="#00f"/>
<path d="M778.5 2675L774.6 2682.9" stroke="#f00"/>
<path d="M772.4 2682.3L776.6 2675.4" stroke="#00f"/>
<path d="M769.6 2666.7L777.5 2661.9" stroke="#0f0"/>
<path d="M775.4 2681.3L771.7 2688.7" stroke="#f00"/>
<path d="M770.8 2685.1L773.3 2680.8" stroke="#00f"/>
<path d="M772.5 2687.1L769.1 2694.3M742.7 2501.6L798.7 2431.6" stroke="#f00"/>
<path d="M769.1 2687.8L771.7 2683.5" stroke="#00f"/>
<path d="M765.1 2679.5L774.5 2669.8" stroke="#f00"/>
<path d="M767.5 2690.6L770 2686.3" stroke="#00f"/>
<path d="M759.9 2672.7L771.1 2665.8" stroke="#0f0"/>
<path d="M769.9 2692.6L766.8 2699.5" stroke="#f00"/>
<path d="M765.9 2693.4L768.4 2689.1" stroke="#00f"/>
<path d="M767.5 2697.8L764.8 2704.4" stroke="#f00"/>
<path d="M764.2 2696.2L766.8 2691.8" stroke="#00f"/>
<path d="M765.4 2702.7L761.7 2712.3L759.2 2719.8L758.3 2723.1L757.2 2728.9L756.9 2734.6" stroke="#f00"/>
<path d="M572.5 2904.9L576.6 2907.2L581.5 2909.3L586.4 2910.8L591.3 2911.6L594.6 2911.8L599.5 2911.6L604.4 2910.8L609.3 2909.5L614.2 2907.5L619.1 2905.1L624 2902.1L628.9 2898.6L633.8 2894.7L638.7 2890.3L643.6 2885.5L648.5 2880.3L658.4 2868.8L668.2 2856L679.6 2839.6L691.1 2821.9L702.5 2803.2L714 2783.8L765.1 2694.6" stroke="#00f"/>
<path d="M566 2897.4L631.9 2823.3L678.7 2771.6L700.2 2748.2L730.1 2716L766.3 2678.2" stroke="#f00"/>
<path d="M601.3 2729L601.5 2731.9L602 2735.6L602.4 2737.2L603.5 2740.2L604.2 2741.5L605.8 2743.7L607.9 2745.4L610.2 2746.7L611.6 2747.2L614.4 2747.8L617.7 2748L621.2 2747.8L627 2746.8L631.3 2745.7L635.8 2744.2L643 2741.4L653.5 2736.6L664.7 2730.9L676.5 2724.3L688.9 2717L704.9 2707.3L761.5 2671.7M664.4 2421.8L679.3 2407.2L698.1 2389.4L714 2375.4L727.1 2365L730.9 2362.3L737.6 2358L740.5 2356.5L745.5 2354.4L747.6 2353.8L749.4 2353.6L751 2353.8L752.3 2354.2L753.4 2355L754.3 2356L754.9 2357.4L755.4 2359L755.6 2360.9L755.6 2363.1L755 2368.2L752.7 2377.7L750.3 2385.1L747.4 2393.3L739.8 2411.8L730.4 2432.6L716.9 2461L701.6 2491.9M739.2 2562.2L743.5 2560.1" stroke="#0f0"/>
<path d="M738.1 2564.2L742.2 2571.8" stroke="#00f"/>
<path d="M736.4 2563.6L740.8 2561.4" stroke="#0f0"/>
<path d="M734.8 2558.2L738.9 2565.8" stroke="#00f"/>
<path d="M462.1 2641.9L1009.9 1936.6" stroke="#f00"/>
<path d="M733.5 2565.1L738 2562.8" stroke="#0f0"/>
<path d="M733.2 2555.1L735.7 2559.7" stroke="#00f"/>
<path d="M655.7 2622.4L679.5 2602.8L692.3 2592.9L700.3 2586.9L707.9 2581.5L718.5 2574.2L728.3 2568.1L735.1 2564.3" stroke="#0f0"/>
<path d="M716.8 2525.2L734 2556.7" stroke="#00f"/>
<path d="M748.2 2485.9L684.7 2570" stroke="#f00"/>
<path d="M700.4 2496.2L717.7 2526.8" stroke="#00f"/>
<path d="M625.1 2649.1L743.9 2500.2" stroke="#f00"/>
<path d="M702.4 2490.3L698.5 2498.1" stroke="#0f0"/>
<path d="M697.2 2490.5L701.3 2497.7" stroke="#00f"/>
<path d="M699.3 2496.5L664.8 2565.2L644.5 2607" stroke="#0f0"/>
<path d="M661.1 2434.3L669.8 2446.7L678 2459L687.8 2474.8L698.1 2492.1" stroke="#00f"/>
<path d="M656.8 2429.4L665.7 2420.5" stroke="#0f0"/>
<path d="M652.9 2423.6L662.2 2435.8" stroke="#00f"/>
<path d="M685.8 2568.6L625.1 2649.2" stroke="#f00"/>
<path d="M630.3 2644.3L657.1 2621.2M462.1 2641.9L527.3 2568.5L573.6 2517.5L604.6 2483.9L623.6 2463.8L641.2 2445.4L658.1 2428.2" stroke="#0f0"/>
<path d="M463.5 2636.1L468.6 2615.9L475.1 2591.1L481.7 2567.7L486.6 2551.1L493.1 2530.1L498 2515.3L504.6 2496.7L509.5 2483.8L514.4 2471.7L519.3 2460.3L524.2 2449.8L530.8 2437L535.7 2428.3L542.2 2418L547.1 2411.2L553.7 2403.2L558.6 2398.2L561.8 2395.2L565.1 2392.6L570 2389.2L573.3 2387.3L576.6 2385.8L581.5 2384L584.7 2383.2L588 2382.7L591.3 2382.5L594.6 2382.6L597.8 2382.9L601.1 2383.5L606 2384.9L612.6 2387.6L619.1 2391.3L625.6 2395.9L632.2 2401.3L638.7 2407.6L646.9 2416.5L654 2425" stroke="#00f"/>
<path d="M645.3 2605.4L634.7 2628L627.4 2644.3M625 2649L631.7 2643.1M628.1 2642.7L623.2 2654.1M619.5 2653.9L626.3 2647.8M623.9 2652.5L619.7 2662.7L614.5 2675.9L610.2 2688L606.7 2699.1L604 2709L602.3 2717.8L601.4 2725.4L601.4 2730.8M597.1 2674.1L620.9 2652.7" stroke="#0f0"/>
<path d="M626.2 2647.7L568.2 2724.8" stroke="#f00"/>
<path d="M591.3 2679.4L598.5 2672.9" stroke="#0f0"/>
<path d="M562.2 2728.2L626.2 2647.7" stroke="#f00"/>
<path d="M498.6 2766.5L549.9 2718L592.7 2678.2" stroke="#0f0"/>
<path d="M559.6 2894.4L563.5 2898.1L566.8 2900.8L570 2903.2L574.1 2905.8" stroke="#00f"/>
<path d="M317.7 3183.3L399.9 3088L463.7 3014.3L524 2945.1L567.2 2896" stroke="#f00"/>
<path d="M510.8 2807.2L516 2820.3L522.6 2835.4L529.1 2849.1L535.7 2861.3L542.2 2872.2L548.8 2881.7L555.3 2889.8L560.8 2895.6" stroke="#00f"/>
<path d="M569.3 2723.4L514 2797M496.6 2810.7L563.3 2726.8" stroke="#f00"/>
<path d="M496.1 2765.6L504.6 2790.5L511.5 2808.9" stroke="#00f"/>
<path d="M492.2 2772.5L499.9 2765.2" stroke="#0f0"/>
<path d="M463.5 2647.8L471.9 2681.3L480.1 2711.8L488.2 2740.2L496.7 2767.3" stroke="#00f"/>
<path d="M317.7 2927.6L322.5 2924.4L330 2919L342.7 2909.3L356.7 2897.7L377.4 2879.7L399.8 2859.5L423.6 2837.4L493.6 2771.3" stroke="#0f0"/>
<path d="M515.1 2795.5L462.4 2865.7M428.1 2896.9L497.7 2809.3" stroke="#f00"/>
<path d="M462.1 2641.9L463.9 2634.4M462.1 2641.9L463.9 2649.5" stroke="#00f"/>
<path d="M462.1 2641.9L431.7 2687.6L413.1 2715.9L387.8 2755.2L372.6 2779.2L358.7 2801.4L340.6 2831.4L330.2 2849.1L317.7 2871.6" stroke="#0f0"/>
<path d="M463.5 2864.3L317.7 3059.4M317.7 3036.2L429.3 2895.5M462.1 2641.9L317.7 2828.8" stroke="#f00"/>
<path d="M317.7 2871.6L317.7 2927.6" stroke="#0f0"/>
<path d="M462.1 2641.9L2097.9 2707.3" stroke="#000" stroke-width="4"/>
</g>
<g font-family="'Liberation Serif', serif" font-size="71px" fill="#000"><text transform="translate(259.5 3369.5) scale(1 1.025)" text-anchor="end">−5</text><text transform="translate(259.5 2850.2) scale(1 1.025)" text-anchor="end">0</text><text transform="translate(259.5 2330.9) scale(1 1.025)" text-anchor="end">5</text><text transform="translate(282.7 3457.7) scale(1 1.025)" text-anchor="end">−4</text><text transform="translate(446.3 3464.3) scale(1 1.025)" text-anchor="end">−3</text><text transform="translate(609.9 3470.8) scale(1 1.025)" text-anchor="end">−2</text><text transform="translate(773.4 3477.3) scale(1 1.025)" text-anchor="end">−1</text><text transform="translate(937 3483.9) scale(1 1.025)" text-anchor="end">0</text><text transform="translate(1100.6 3490.4) scale(1 1.025)" text-anchor="end">1</text><text transform="translate(1264.2 3497) scale(1 1.025)" text-anchor="end">2</text><text transform="translate(1427.8 3503.5) scale(1 1.025)" text-anchor="end">3</text><text transform="translate(1591.3 3510) scale(1 1.025)" text-anchor="end">4</text><text transform="translate(1754.9 3516.6) scale(1 1.025)" text-anchor="end">5</text><text transform="translate(1918.5 3523.1) scale(1 1.025)" text-anchor="end">6</text><text transform="translate(2011.7 3479.3) scale(1 1.025)">−2</text><text transform="translate(2155.7 3293.3) scale(1 1.025)">0</text><text transform="translate(2299.8 3107.3) scale(1 1.025)">2</text><text transform="translate(1421.5 3640.6) scale(1 1.025)" text-anchor="middle"><tspan font-style="italic">n</tspan></text><text transform="translate(2244.8 3511.1) scale(1 1.025)">Im(<tspan font-style="italic">S</tspan>)</text><text transform="translate(142 2829.2) rotate(-90) scale(1 1.025)" text-anchor="middle">Re(<tspan font-style="italic">S</tspan>)</text></g>
</svg>
</body></html>
